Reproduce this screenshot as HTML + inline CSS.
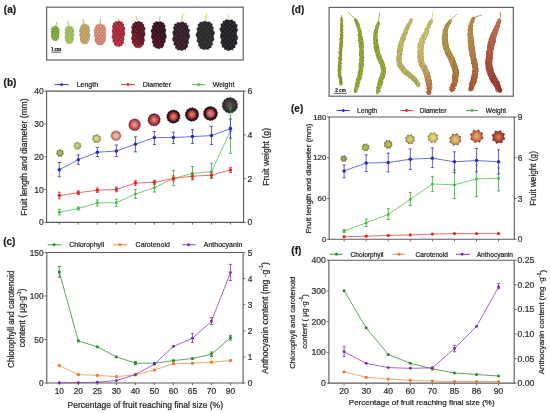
<!DOCTYPE html><html><head><meta charset="utf-8"><style>html,body{margin:0;padding:0;background:#fff;width:550px;height:413px;overflow:hidden} svg{filter:blur(0.3px)} svg text{stroke:#2a2a2a;stroke-width:0.22px}</style></head><body><svg width="550" height="413" viewBox="0 0 550 413" style="display:block">
<defs>
<filter id="blur04" x="-20%" y="-20%" width="140%" height="140%"><feGaussianBlur stdDeviation="0.4"/></filter>
</defs>
<rect width="550" height="413" fill="#ffffff"/>
<g font-family="'Liberation Sans', sans-serif">
<text x="3.80" y="9.60" font-size="10" text-anchor="start" fill="#1a1a1a" font-weight="bold" dominant-baseline="central">(a)</text>
<text x="291.50" y="9.80" font-size="10" text-anchor="start" fill="#1a1a1a" font-weight="bold" dominant-baseline="central">(d)</text>
<text x="3.60" y="82.20" font-size="10" text-anchor="start" fill="#1a1a1a" font-weight="bold" dominant-baseline="central">(b)</text>
<text x="291.00" y="108.80" font-size="10" text-anchor="start" fill="#1a1a1a" font-weight="bold" dominant-baseline="central">(e)</text>
<text x="3.20" y="241.40" font-size="10" text-anchor="start" fill="#1a1a1a" font-weight="bold" dominant-baseline="central">(c)</text>
<text x="291.30" y="250.50" font-size="10" text-anchor="start" fill="#1a1a1a" font-weight="bold" dominant-baseline="central">(f)</text>
<rect x="46.6" y="7.2" width="196.6" height="52.8" fill="#fff" stroke="#626262" stroke-width="1.2"/>
<g filter="url(#blur04)">
<path d="M55.20,29.30 Q55.74,24.75 57.00,22.20" stroke="#a8c058" stroke-width="1.1" fill="none" stroke-linecap="round"/>
<defs><linearGradient id="fg0" x1="0.7" y1="0" x2="0.2" y2="1"><stop offset="0" stop-color="#86b044"/><stop offset="0.45" stop-color="#86b044"/><stop offset="1" stop-color="#8ab448"/></linearGradient><clipPath id="fc0"><path d="M59.39,33.55 L58.77,34.71 L58.72,35.57 L59.22,36.47 L58.96,37.11 L58.47,37.57 L58.66,38.31 L58.64,38.98 L57.94,39.16 L57.58,39.52 L57.59,40.20 L57.16,40.38 L56.63,40.27 L56.42,40.68 L56.03,41.01 L55.20,40.69 L54.47,40.57 L53.85,40.87 L53.49,40.63 L53.42,40.07 L52.99,40.00 L52.49,39.88 L52.54,39.20 L52.40,38.65 L51.67,38.41 L51.44,37.79 L51.73,36.97 L51.37,36.37 L50.93,35.69 L51.38,34.73 L51.65,33.55 L51.12,32.33 L51.10,31.44 L51.61,30.80 L51.37,30.05 L50.98,29.24 L51.49,28.84 L51.95,28.47 L51.80,27.73 L52.11,27.28 L52.85,27.28 L53.08,26.89 L53.20,26.34 L53.79,26.44 L54.38,26.58 L55.20,26.19 L56.19,26.13 L56.58,26.62 L57.04,26.70 L57.66,26.58 L57.76,27.07 L57.76,27.64 L58.40,27.76 L58.84,28.14 L58.63,28.93 L58.90,29.47 L59.56,29.90 L59.35,30.70 L58.90,31.56 L59.26,32.35Z"/></clipPath></defs>
<path d="M59.39,33.55 L58.77,34.71 L58.72,35.57 L59.22,36.47 L58.96,37.11 L58.47,37.57 L58.66,38.31 L58.64,38.98 L57.94,39.16 L57.58,39.52 L57.59,40.20 L57.16,40.38 L56.63,40.27 L56.42,40.68 L56.03,41.01 L55.20,40.69 L54.47,40.57 L53.85,40.87 L53.49,40.63 L53.42,40.07 L52.99,40.00 L52.49,39.88 L52.54,39.20 L52.40,38.65 L51.67,38.41 L51.44,37.79 L51.73,36.97 L51.37,36.37 L50.93,35.69 L51.38,34.73 L51.65,33.55 L51.12,32.33 L51.10,31.44 L51.61,30.80 L51.37,30.05 L50.98,29.24 L51.49,28.84 L51.95,28.47 L51.80,27.73 L52.11,27.28 L52.85,27.28 L53.08,26.89 L53.20,26.34 L53.79,26.44 L54.38,26.58 L55.20,26.19 L56.19,26.13 L56.58,26.62 L57.04,26.70 L57.66,26.58 L57.76,27.07 L57.76,27.64 L58.40,27.76 L58.84,28.14 L58.63,28.93 L58.90,29.47 L59.56,29.90 L59.35,30.70 L58.90,31.56 L59.26,32.35Z" fill="url(#fg0)"/>
<g clip-path="url(#fc0)">
<circle cx="50.92" cy="28.85" r="0.94" fill="#c8e088" fill-opacity="0.35" stroke="#4a7020" stroke-width="0.45" stroke-opacity="0.45"/>
<circle cx="53.14" cy="28.78" r="0.94" fill="#c8e088" fill-opacity="0.35" stroke="#4a7020" stroke-width="0.45" stroke-opacity="0.45"/>
<circle cx="55.66" cy="28.49" r="0.94" fill="#c8e088" fill-opacity="0.35" stroke="#4a7020" stroke-width="0.45" stroke-opacity="0.45"/>
<circle cx="58.06" cy="28.48" r="0.94" fill="#c8e088" fill-opacity="0.35" stroke="#4a7020" stroke-width="0.45" stroke-opacity="0.45"/>
<circle cx="52.29" cy="30.42" r="0.94" fill="#c8e088" fill-opacity="0.35" stroke="#4a7020" stroke-width="0.45" stroke-opacity="0.45"/>
<circle cx="54.30" cy="30.63" r="0.94" fill="#c8e088" fill-opacity="0.35" stroke="#4a7020" stroke-width="0.45" stroke-opacity="0.45"/>
<circle cx="57.18" cy="30.45" r="0.94" fill="#c8e088" fill-opacity="0.35" stroke="#4a7020" stroke-width="0.45" stroke-opacity="0.45"/>
<circle cx="58.98" cy="30.75" r="0.94" fill="#c8e088" fill-opacity="0.35" stroke="#4a7020" stroke-width="0.45" stroke-opacity="0.45"/>
<circle cx="51.56" cy="32.64" r="0.94" fill="#c8e088" fill-opacity="0.35" stroke="#4a7020" stroke-width="0.45" stroke-opacity="0.45"/>
<circle cx="53.40" cy="32.88" r="0.94" fill="#c8e088" fill-opacity="0.35" stroke="#4a7020" stroke-width="0.45" stroke-opacity="0.45"/>
<circle cx="55.41" cy="32.81" r="0.94" fill="#c8e088" fill-opacity="0.35" stroke="#4a7020" stroke-width="0.45" stroke-opacity="0.45"/>
<circle cx="57.89" cy="32.38" r="0.94" fill="#c8e088" fill-opacity="0.35" stroke="#4a7020" stroke-width="0.45" stroke-opacity="0.45"/>
<circle cx="52.04" cy="34.39" r="0.94" fill="#c8e088" fill-opacity="0.35" stroke="#4a7020" stroke-width="0.45" stroke-opacity="0.45"/>
<circle cx="54.88" cy="34.32" r="0.94" fill="#c8e088" fill-opacity="0.35" stroke="#4a7020" stroke-width="0.45" stroke-opacity="0.45"/>
<circle cx="56.98" cy="34.59" r="0.94" fill="#c8e088" fill-opacity="0.35" stroke="#4a7020" stroke-width="0.45" stroke-opacity="0.45"/>
<circle cx="59.10" cy="34.54" r="0.94" fill="#c8e088" fill-opacity="0.35" stroke="#4a7020" stroke-width="0.45" stroke-opacity="0.45"/>
<circle cx="50.85" cy="36.16" r="0.94" fill="#c8e088" fill-opacity="0.35" stroke="#4a7020" stroke-width="0.45" stroke-opacity="0.45"/>
<circle cx="53.25" cy="36.53" r="0.94" fill="#c8e088" fill-opacity="0.35" stroke="#4a7020" stroke-width="0.45" stroke-opacity="0.45"/>
<circle cx="55.71" cy="36.31" r="0.94" fill="#c8e088" fill-opacity="0.35" stroke="#4a7020" stroke-width="0.45" stroke-opacity="0.45"/>
<circle cx="58.13" cy="36.40" r="0.94" fill="#c8e088" fill-opacity="0.35" stroke="#4a7020" stroke-width="0.45" stroke-opacity="0.45"/>
<circle cx="52.18" cy="38.52" r="0.94" fill="#c8e088" fill-opacity="0.35" stroke="#4a7020" stroke-width="0.45" stroke-opacity="0.45"/>
<circle cx="54.79" cy="38.19" r="0.94" fill="#c8e088" fill-opacity="0.35" stroke="#4a7020" stroke-width="0.45" stroke-opacity="0.45"/>
<circle cx="56.97" cy="38.36" r="0.94" fill="#c8e088" fill-opacity="0.35" stroke="#4a7020" stroke-width="0.45" stroke-opacity="0.45"/>
<circle cx="59.50" cy="38.48" r="0.94" fill="#c8e088" fill-opacity="0.35" stroke="#4a7020" stroke-width="0.45" stroke-opacity="0.45"/>
</g>
<path d="M59.39,33.55 L58.77,34.71 L58.72,35.57 L59.22,36.47 L58.96,37.11 L58.47,37.57 L58.66,38.31 L58.64,38.98 L57.94,39.16 L57.58,39.52 L57.59,40.20 L57.16,40.38 L56.63,40.27 L56.42,40.68 L56.03,41.01 L55.20,40.69 L54.47,40.57 L53.85,40.87 L53.49,40.63 L53.42,40.07 L52.99,40.00 L52.49,39.88 L52.54,39.20 L52.40,38.65 L51.67,38.41 L51.44,37.79 L51.73,36.97 L51.37,36.37 L50.93,35.69 L51.38,34.73 L51.65,33.55 L51.12,32.33 L51.10,31.44 L51.61,30.80 L51.37,30.05 L50.98,29.24 L51.49,28.84 L51.95,28.47 L51.80,27.73 L52.11,27.28 L52.85,27.28 L53.08,26.89 L53.20,26.34 L53.79,26.44 L54.38,26.58 L55.20,26.19 L56.19,26.13 L56.58,26.62 L57.04,26.70 L57.66,26.58 L57.76,27.07 L57.76,27.64 L58.40,27.76 L58.84,28.14 L58.63,28.93 L58.90,29.47 L59.56,29.90 L59.35,30.70 L58.90,31.56 L59.26,32.35Z" fill="none" stroke="#4a7020" stroke-width="0.5" stroke-opacity="0.5"/>
<path d="M69.45,29.20 Q68.91,24.10 67.65,21.00" stroke="#b0c868" stroke-width="1.1" fill="none" stroke-linecap="round"/>
<defs><linearGradient id="fg1" x1="0.7" y1="0" x2="0.2" y2="1"><stop offset="0" stop-color="#a8c45c"/><stop offset="0.45" stop-color="#a8c45c"/><stop offset="1" stop-color="#aac860"/></linearGradient><clipPath id="fc1"><path d="M74.21,35.00 L73.52,36.42 L73.28,37.44 L73.81,38.53 L73.64,39.36 L73.05,39.88 L73.21,40.74 L73.31,41.60 L72.60,41.86 L72.12,42.21 L72.11,43.03 L71.68,43.35 L71.04,43.18 L70.76,43.59 L70.36,44.07 L69.45,43.73 L68.65,43.48 L67.95,43.83 L67.49,43.65 L67.41,42.93 L67.01,42.77 L66.43,42.69 L66.45,41.91 L66.41,41.17 L65.64,40.86 L65.26,40.18 L65.56,39.16 L65.24,38.39 L64.64,37.59 L65.04,36.44 L65.47,35.00 L64.97,33.53 L64.85,32.43 L65.47,31.65 L65.35,30.79 L64.83,29.78 L65.26,29.23 L65.83,28.84 L65.68,27.98 L65.91,27.35 L66.76,27.35 L67.13,26.98 L67.25,26.27 L67.87,26.30 L68.56,26.55 L69.45,26.13 L70.55,25.96 L71.02,26.54 L71.49,26.74 L72.21,26.56 L72.40,27.08 L72.31,27.83 L72.91,28.03 L73.47,28.41 L73.25,29.35 L73.44,30.07 L74.24,30.59 L74.18,31.51 L73.64,32.58 L73.96,33.55Z"/></clipPath></defs>
<path d="M74.21,35.00 L73.52,36.42 L73.28,37.44 L73.81,38.53 L73.64,39.36 L73.05,39.88 L73.21,40.74 L73.31,41.60 L72.60,41.86 L72.12,42.21 L72.11,43.03 L71.68,43.35 L71.04,43.18 L70.76,43.59 L70.36,44.07 L69.45,43.73 L68.65,43.48 L67.95,43.83 L67.49,43.65 L67.41,42.93 L67.01,42.77 L66.43,42.69 L66.45,41.91 L66.41,41.17 L65.64,40.86 L65.26,40.18 L65.56,39.16 L65.24,38.39 L64.64,37.59 L65.04,36.44 L65.47,35.00 L64.97,33.53 L64.85,32.43 L65.47,31.65 L65.35,30.79 L64.83,29.78 L65.26,29.23 L65.83,28.84 L65.68,27.98 L65.91,27.35 L66.76,27.35 L67.13,26.98 L67.25,26.27 L67.87,26.30 L68.56,26.55 L69.45,26.13 L70.55,25.96 L71.02,26.54 L71.49,26.74 L72.21,26.56 L72.40,27.08 L72.31,27.83 L72.91,28.03 L73.47,28.41 L73.25,29.35 L73.44,30.07 L74.24,30.59 L74.18,31.51 L73.64,32.58 L73.96,33.55Z" fill="url(#fg1)"/>
<g clip-path="url(#fc1)">
<circle cx="65.38" cy="28.51" r="1.05" fill="#e0eca0" fill-opacity="0.35" stroke="#6a8a30" stroke-width="0.45" stroke-opacity="0.45"/>
<circle cx="67.48" cy="28.90" r="1.05" fill="#e0eca0" fill-opacity="0.35" stroke="#6a8a30" stroke-width="0.45" stroke-opacity="0.45"/>
<circle cx="69.81" cy="28.74" r="1.05" fill="#e0eca0" fill-opacity="0.35" stroke="#6a8a30" stroke-width="0.45" stroke-opacity="0.45"/>
<circle cx="72.26" cy="28.84" r="1.05" fill="#e0eca0" fill-opacity="0.35" stroke="#6a8a30" stroke-width="0.45" stroke-opacity="0.45"/>
<circle cx="66.48" cy="30.87" r="1.05" fill="#e0eca0" fill-opacity="0.35" stroke="#6a8a30" stroke-width="0.45" stroke-opacity="0.45"/>
<circle cx="69.11" cy="30.72" r="1.05" fill="#e0eca0" fill-opacity="0.35" stroke="#6a8a30" stroke-width="0.45" stroke-opacity="0.45"/>
<circle cx="71.51" cy="30.89" r="1.05" fill="#e0eca0" fill-opacity="0.35" stroke="#6a8a30" stroke-width="0.45" stroke-opacity="0.45"/>
<circle cx="73.96" cy="30.80" r="1.05" fill="#e0eca0" fill-opacity="0.35" stroke="#6a8a30" stroke-width="0.45" stroke-opacity="0.45"/>
<circle cx="65.27" cy="33.18" r="1.05" fill="#e0eca0" fill-opacity="0.35" stroke="#6a8a30" stroke-width="0.45" stroke-opacity="0.45"/>
<circle cx="67.52" cy="33.01" r="1.05" fill="#e0eca0" fill-opacity="0.35" stroke="#6a8a30" stroke-width="0.45" stroke-opacity="0.45"/>
<circle cx="69.73" cy="33.04" r="1.05" fill="#e0eca0" fill-opacity="0.35" stroke="#6a8a30" stroke-width="0.45" stroke-opacity="0.45"/>
<circle cx="72.75" cy="33.21" r="1.05" fill="#e0eca0" fill-opacity="0.35" stroke="#6a8a30" stroke-width="0.45" stroke-opacity="0.45"/>
<circle cx="66.53" cy="34.87" r="1.05" fill="#e0eca0" fill-opacity="0.35" stroke="#6a8a30" stroke-width="0.45" stroke-opacity="0.45"/>
<circle cx="68.72" cy="35.10" r="1.05" fill="#e0eca0" fill-opacity="0.35" stroke="#6a8a30" stroke-width="0.45" stroke-opacity="0.45"/>
<circle cx="70.98" cy="34.98" r="1.05" fill="#e0eca0" fill-opacity="0.35" stroke="#6a8a30" stroke-width="0.45" stroke-opacity="0.45"/>
<circle cx="73.63" cy="34.77" r="1.05" fill="#e0eca0" fill-opacity="0.35" stroke="#6a8a30" stroke-width="0.45" stroke-opacity="0.45"/>
<circle cx="64.65" cy="37.25" r="1.05" fill="#e0eca0" fill-opacity="0.35" stroke="#6a8a30" stroke-width="0.45" stroke-opacity="0.45"/>
<circle cx="67.25" cy="36.93" r="1.05" fill="#e0eca0" fill-opacity="0.35" stroke="#6a8a30" stroke-width="0.45" stroke-opacity="0.45"/>
<circle cx="70.00" cy="37.31" r="1.05" fill="#e0eca0" fill-opacity="0.35" stroke="#6a8a30" stroke-width="0.45" stroke-opacity="0.45"/>
<circle cx="72.29" cy="37.06" r="1.05" fill="#e0eca0" fill-opacity="0.35" stroke="#6a8a30" stroke-width="0.45" stroke-opacity="0.45"/>
<circle cx="66.31" cy="39.40" r="1.05" fill="#e0eca0" fill-opacity="0.35" stroke="#6a8a30" stroke-width="0.45" stroke-opacity="0.45"/>
<circle cx="69.07" cy="39.39" r="1.05" fill="#e0eca0" fill-opacity="0.35" stroke="#6a8a30" stroke-width="0.45" stroke-opacity="0.45"/>
<circle cx="71.18" cy="39.12" r="1.05" fill="#e0eca0" fill-opacity="0.35" stroke="#6a8a30" stroke-width="0.45" stroke-opacity="0.45"/>
<circle cx="73.79" cy="39.40" r="1.05" fill="#e0eca0" fill-opacity="0.35" stroke="#6a8a30" stroke-width="0.45" stroke-opacity="0.45"/>
<circle cx="65.37" cy="41.05" r="1.05" fill="#e0eca0" fill-opacity="0.35" stroke="#6a8a30" stroke-width="0.45" stroke-opacity="0.45"/>
<circle cx="67.28" cy="41.10" r="1.05" fill="#e0eca0" fill-opacity="0.35" stroke="#6a8a30" stroke-width="0.45" stroke-opacity="0.45"/>
<circle cx="69.87" cy="41.25" r="1.05" fill="#e0eca0" fill-opacity="0.35" stroke="#6a8a30" stroke-width="0.45" stroke-opacity="0.45"/>
<circle cx="72.70" cy="41.11" r="1.05" fill="#e0eca0" fill-opacity="0.35" stroke="#6a8a30" stroke-width="0.45" stroke-opacity="0.45"/>
</g>
<path d="M74.21,35.00 L73.52,36.42 L73.28,37.44 L73.81,38.53 L73.64,39.36 L73.05,39.88 L73.21,40.74 L73.31,41.60 L72.60,41.86 L72.12,42.21 L72.11,43.03 L71.68,43.35 L71.04,43.18 L70.76,43.59 L70.36,44.07 L69.45,43.73 L68.65,43.48 L67.95,43.83 L67.49,43.65 L67.41,42.93 L67.01,42.77 L66.43,42.69 L66.45,41.91 L66.41,41.17 L65.64,40.86 L65.26,40.18 L65.56,39.16 L65.24,38.39 L64.64,37.59 L65.04,36.44 L65.47,35.00 L64.97,33.53 L64.85,32.43 L65.47,31.65 L65.35,30.79 L64.83,29.78 L65.26,29.23 L65.83,28.84 L65.68,27.98 L65.91,27.35 L66.76,27.35 L67.13,26.98 L67.25,26.27 L67.87,26.30 L68.56,26.55 L69.45,26.13 L70.55,25.96 L71.02,26.54 L71.49,26.74 L72.21,26.56 L72.40,27.08 L72.31,27.83 L72.91,28.03 L73.47,28.41 L73.25,29.35 L73.44,30.07 L74.24,30.59 L74.18,31.51 L73.64,32.58 L73.96,33.55Z" fill="none" stroke="#6a8a30" stroke-width="0.5" stroke-opacity="0.5"/>
<path d="M84.70,27.20 Q84.16,22.35 82.90,19.50" stroke="#a8b868" stroke-width="1.1" fill="none" stroke-linecap="round"/>
<defs><linearGradient id="fg2" x1="0.7" y1="0" x2="0.2" y2="1"><stop offset="0" stop-color="#c8ac6c"/><stop offset="0.45" stop-color="#c8ac6c"/><stop offset="1" stop-color="#c8a068"/></linearGradient><clipPath id="fc2"><path d="M89.72,34.05 L90.20,35.72 L89.54,36.81 L89.25,37.79 L89.65,38.97 L89.22,39.80 L88.35,40.27 L88.37,41.17 L88.43,42.09 L87.76,42.27 L87.35,42.57 L87.38,43.43 L86.91,43.70 L86.16,43.41 L85.65,43.79 L84.70,44.24 L83.80,43.78 L83.35,43.42 L82.63,43.71 L82.14,43.42 L82.06,42.56 L81.48,42.28 L80.69,42.09 L80.76,41.16 L80.85,40.28 L80.16,39.81 L79.98,38.97 L80.52,37.79 L80.21,36.82 L79.43,35.72 L79.70,34.05 L79.99,32.49 L79.31,31.20 L79.22,30.09 L80.08,29.38 L80.21,28.49 L79.91,27.40 L80.56,26.89 L81.21,26.55 L81.00,25.64 L81.15,25.01 L81.95,25.11 L82.36,24.78 L82.69,24.06 L83.55,24.18 L84.70,24.54 L85.81,24.16 L86.57,24.07 L86.85,24.79 L87.33,25.10 L88.26,25.00 L88.56,25.65 L88.49,26.55 L89.19,26.88 L89.69,27.40 L89.17,28.50 L89.11,29.38 L89.82,30.09 L89.69,31.21 L89.17,32.49Z"/></clipPath></defs>
<path d="M89.72,34.05 L90.20,35.72 L89.54,36.81 L89.25,37.79 L89.65,38.97 L89.22,39.80 L88.35,40.27 L88.37,41.17 L88.43,42.09 L87.76,42.27 L87.35,42.57 L87.38,43.43 L86.91,43.70 L86.16,43.41 L85.65,43.79 L84.70,44.24 L83.80,43.78 L83.35,43.42 L82.63,43.71 L82.14,43.42 L82.06,42.56 L81.48,42.28 L80.69,42.09 L80.76,41.16 L80.85,40.28 L80.16,39.81 L79.98,38.97 L80.52,37.79 L80.21,36.82 L79.43,35.72 L79.70,34.05 L79.99,32.49 L79.31,31.20 L79.22,30.09 L80.08,29.38 L80.21,28.49 L79.91,27.40 L80.56,26.89 L81.21,26.55 L81.00,25.64 L81.15,25.01 L81.95,25.11 L82.36,24.78 L82.69,24.06 L83.55,24.18 L84.70,24.54 L85.81,24.16 L86.57,24.07 L86.85,24.79 L87.33,25.10 L88.26,25.00 L88.56,25.65 L88.49,26.55 L89.19,26.88 L89.69,27.40 L89.17,28.50 L89.11,29.38 L89.82,30.09 L89.69,31.21 L89.17,32.49Z" fill="url(#fg2)"/>
<g clip-path="url(#fc2)">
<circle cx="79.64" cy="26.67" r="1.18" fill="#e8dca0" fill-opacity="0.35" stroke="#7a6a38" stroke-width="0.45" stroke-opacity="0.45"/>
<circle cx="82.61" cy="27.02" r="1.18" fill="#e8dca0" fill-opacity="0.35" stroke="#7a6a38" stroke-width="0.45" stroke-opacity="0.45"/>
<circle cx="85.57" cy="26.75" r="1.18" fill="#e8dca0" fill-opacity="0.35" stroke="#7a6a38" stroke-width="0.45" stroke-opacity="0.45"/>
<circle cx="88.37" cy="26.85" r="1.18" fill="#e8dca0" fill-opacity="0.35" stroke="#7a6a38" stroke-width="0.45" stroke-opacity="0.45"/>
<circle cx="80.77" cy="29.07" r="1.18" fill="#e8dca0" fill-opacity="0.35" stroke="#7a6a38" stroke-width="0.45" stroke-opacity="0.45"/>
<circle cx="84.21" cy="29.06" r="1.18" fill="#e8dca0" fill-opacity="0.35" stroke="#7a6a38" stroke-width="0.45" stroke-opacity="0.45"/>
<circle cx="87.08" cy="28.77" r="1.18" fill="#e8dca0" fill-opacity="0.35" stroke="#7a6a38" stroke-width="0.45" stroke-opacity="0.45"/>
<circle cx="89.62" cy="28.59" r="1.18" fill="#e8dca0" fill-opacity="0.35" stroke="#7a6a38" stroke-width="0.45" stroke-opacity="0.45"/>
<circle cx="79.81" cy="30.66" r="1.18" fill="#e8dca0" fill-opacity="0.35" stroke="#7a6a38" stroke-width="0.45" stroke-opacity="0.45"/>
<circle cx="82.21" cy="30.74" r="1.18" fill="#e8dca0" fill-opacity="0.35" stroke="#7a6a38" stroke-width="0.45" stroke-opacity="0.45"/>
<circle cx="85.14" cy="30.82" r="1.18" fill="#e8dca0" fill-opacity="0.35" stroke="#7a6a38" stroke-width="0.45" stroke-opacity="0.45"/>
<circle cx="87.91" cy="30.62" r="1.18" fill="#e8dca0" fill-opacity="0.35" stroke="#7a6a38" stroke-width="0.45" stroke-opacity="0.45"/>
<circle cx="80.85" cy="32.77" r="1.18" fill="#e8dca0" fill-opacity="0.35" stroke="#7a6a38" stroke-width="0.45" stroke-opacity="0.45"/>
<circle cx="83.88" cy="32.72" r="1.18" fill="#e8dca0" fill-opacity="0.35" stroke="#7a6a38" stroke-width="0.45" stroke-opacity="0.45"/>
<circle cx="87.14" cy="33.07" r="1.18" fill="#e8dca0" fill-opacity="0.35" stroke="#7a6a38" stroke-width="0.45" stroke-opacity="0.45"/>
<circle cx="89.42" cy="32.86" r="1.18" fill="#e8dca0" fill-opacity="0.35" stroke="#7a6a38" stroke-width="0.45" stroke-opacity="0.45"/>
<circle cx="79.58" cy="35.01" r="1.18" fill="#e8dca0" fill-opacity="0.35" stroke="#7a6a38" stroke-width="0.45" stroke-opacity="0.45"/>
<circle cx="82.26" cy="35.30" r="1.18" fill="#e8dca0" fill-opacity="0.35" stroke="#7a6a38" stroke-width="0.45" stroke-opacity="0.45"/>
<circle cx="85.81" cy="35.07" r="1.18" fill="#e8dca0" fill-opacity="0.35" stroke="#7a6a38" stroke-width="0.45" stroke-opacity="0.45"/>
<circle cx="88.26" cy="34.85" r="1.18" fill="#e8dca0" fill-opacity="0.35" stroke="#7a6a38" stroke-width="0.45" stroke-opacity="0.45"/>
<circle cx="80.81" cy="37.09" r="1.18" fill="#e8dca0" fill-opacity="0.35" stroke="#7a6a38" stroke-width="0.45" stroke-opacity="0.45"/>
<circle cx="83.80" cy="37.38" r="1.18" fill="#e8dca0" fill-opacity="0.35" stroke="#7a6a38" stroke-width="0.45" stroke-opacity="0.45"/>
<circle cx="86.57" cy="36.90" r="1.18" fill="#e8dca0" fill-opacity="0.35" stroke="#7a6a38" stroke-width="0.45" stroke-opacity="0.45"/>
<circle cx="90.06" cy="37.20" r="1.18" fill="#e8dca0" fill-opacity="0.35" stroke="#7a6a38" stroke-width="0.45" stroke-opacity="0.45"/>
<circle cx="79.42" cy="39.29" r="1.18" fill="#e8dca0" fill-opacity="0.35" stroke="#7a6a38" stroke-width="0.45" stroke-opacity="0.45"/>
<circle cx="82.18" cy="39.29" r="1.18" fill="#e8dca0" fill-opacity="0.35" stroke="#7a6a38" stroke-width="0.45" stroke-opacity="0.45"/>
<circle cx="85.80" cy="39.49" r="1.18" fill="#e8dca0" fill-opacity="0.35" stroke="#7a6a38" stroke-width="0.45" stroke-opacity="0.45"/>
<circle cx="88.43" cy="39.13" r="1.18" fill="#e8dca0" fill-opacity="0.35" stroke="#7a6a38" stroke-width="0.45" stroke-opacity="0.45"/>
<circle cx="81.02" cy="41.16" r="1.18" fill="#e8dca0" fill-opacity="0.35" stroke="#7a6a38" stroke-width="0.45" stroke-opacity="0.45"/>
<circle cx="84.20" cy="41.38" r="1.18" fill="#e8dca0" fill-opacity="0.35" stroke="#7a6a38" stroke-width="0.45" stroke-opacity="0.45"/>
<circle cx="87.07" cy="41.25" r="1.18" fill="#e8dca0" fill-opacity="0.35" stroke="#7a6a38" stroke-width="0.45" stroke-opacity="0.45"/>
<circle cx="89.48" cy="41.54" r="1.18" fill="#e8dca0" fill-opacity="0.35" stroke="#7a6a38" stroke-width="0.45" stroke-opacity="0.45"/>
</g>
<path d="M89.72,34.05 L90.20,35.72 L89.54,36.81 L89.25,37.79 L89.65,38.97 L89.22,39.80 L88.35,40.27 L88.37,41.17 L88.43,42.09 L87.76,42.27 L87.35,42.57 L87.38,43.43 L86.91,43.70 L86.16,43.41 L85.65,43.79 L84.70,44.24 L83.80,43.78 L83.35,43.42 L82.63,43.71 L82.14,43.42 L82.06,42.56 L81.48,42.28 L80.69,42.09 L80.76,41.16 L80.85,40.28 L80.16,39.81 L79.98,38.97 L80.52,37.79 L80.21,36.82 L79.43,35.72 L79.70,34.05 L79.99,32.49 L79.31,31.20 L79.22,30.09 L80.08,29.38 L80.21,28.49 L79.91,27.40 L80.56,26.89 L81.21,26.55 L81.00,25.64 L81.15,25.01 L81.95,25.11 L82.36,24.78 L82.69,24.06 L83.55,24.18 L84.70,24.54 L85.81,24.16 L86.57,24.07 L86.85,24.79 L87.33,25.10 L88.26,25.00 L88.56,25.65 L88.49,26.55 L89.19,26.88 L89.69,27.40 L89.17,28.50 L89.11,29.38 L89.82,30.09 L89.69,31.21 L89.17,32.49Z" fill="none" stroke="#7a6a38" stroke-width="0.5" stroke-opacity="0.5"/>
<path d="M100.10,27.20 Q100.16,22.40 100.30,19.60" stroke="#a8b870" stroke-width="1.1" fill="none" stroke-linecap="round"/>
<defs><linearGradient id="fg3" x1="0.7" y1="0" x2="0.2" y2="1"><stop offset="0" stop-color="#dc907a"/><stop offset="0.45" stop-color="#dc907a"/><stop offset="1" stop-color="#d47868"/></linearGradient><clipPath id="fc3"><path d="M105.71,34.60 L106.33,36.37 L105.66,37.53 L105.26,38.54 L105.74,39.78 L105.35,40.69 L104.32,41.18 L104.25,42.09 L104.35,43.09 L103.60,43.31 L103.07,43.57 L103.11,44.48 L102.63,44.82 L101.78,44.51 L101.18,44.84 L100.10,45.36 L99.05,44.91 L98.56,44.48 L97.77,44.77 L97.18,44.52 L97.10,43.61 L96.50,43.26 L95.56,43.08 L95.55,42.14 L95.69,41.17 L94.93,40.66 L94.64,39.81 L95.28,38.56 L95.05,37.51 L94.15,36.36 L94.39,34.60 L94.79,32.95 L94.03,31.61 L93.80,30.41 L94.75,29.66 L94.98,28.75 L94.62,27.58 L95.30,27.01 L96.13,26.69 L95.96,25.76 L96.07,25.03 L96.96,25.13 L97.47,24.84 L97.81,24.07 L98.76,24.14 L100.10,24.56 L101.36,24.21 L102.25,24.04 L102.57,24.79 L103.05,25.18 L104.10,25.07 L104.50,25.70 L104.42,26.68 L105.18,27.06 L105.85,27.57 L105.30,28.71 L105.13,29.68 L105.92,30.43 L105.83,31.59 L105.17,32.95Z"/></clipPath></defs>
<path d="M105.71,34.60 L106.33,36.37 L105.66,37.53 L105.26,38.54 L105.74,39.78 L105.35,40.69 L104.32,41.18 L104.25,42.09 L104.35,43.09 L103.60,43.31 L103.07,43.57 L103.11,44.48 L102.63,44.82 L101.78,44.51 L101.18,44.84 L100.10,45.36 L99.05,44.91 L98.56,44.48 L97.77,44.77 L97.18,44.52 L97.10,43.61 L96.50,43.26 L95.56,43.08 L95.55,42.14 L95.69,41.17 L94.93,40.66 L94.64,39.81 L95.28,38.56 L95.05,37.51 L94.15,36.36 L94.39,34.60 L94.79,32.95 L94.03,31.61 L93.80,30.41 L94.75,29.66 L94.98,28.75 L94.62,27.58 L95.30,27.01 L96.13,26.69 L95.96,25.76 L96.07,25.03 L96.96,25.13 L97.47,24.84 L97.81,24.07 L98.76,24.14 L100.10,24.56 L101.36,24.21 L102.25,24.04 L102.57,24.79 L103.05,25.18 L104.10,25.07 L104.50,25.70 L104.42,26.68 L105.18,27.06 L105.85,27.57 L105.30,28.71 L105.13,29.68 L105.92,30.43 L105.83,31.59 L105.17,32.95Z" fill="url(#fg3)"/>
<g clip-path="url(#fc3)">
<circle cx="94.68" cy="27.00" r="1.34" fill="#f4c8b0" fill-opacity="0.35" stroke="#8a4838" stroke-width="0.45" stroke-opacity="0.45"/>
<circle cx="97.91" cy="26.96" r="1.34" fill="#f4c8b0" fill-opacity="0.35" stroke="#8a4838" stroke-width="0.45" stroke-opacity="0.45"/>
<circle cx="100.70" cy="26.82" r="1.34" fill="#f4c8b0" fill-opacity="0.35" stroke="#8a4838" stroke-width="0.45" stroke-opacity="0.45"/>
<circle cx="104.06" cy="26.53" r="1.34" fill="#f4c8b0" fill-opacity="0.35" stroke="#8a4838" stroke-width="0.45" stroke-opacity="0.45"/>
<circle cx="95.65" cy="28.91" r="1.34" fill="#f4c8b0" fill-opacity="0.35" stroke="#8a4838" stroke-width="0.45" stroke-opacity="0.45"/>
<circle cx="99.09" cy="29.15" r="1.34" fill="#f4c8b0" fill-opacity="0.35" stroke="#8a4838" stroke-width="0.45" stroke-opacity="0.45"/>
<circle cx="102.91" cy="29.01" r="1.34" fill="#f4c8b0" fill-opacity="0.35" stroke="#8a4838" stroke-width="0.45" stroke-opacity="0.45"/>
<circle cx="106.15" cy="29.33" r="1.34" fill="#f4c8b0" fill-opacity="0.35" stroke="#8a4838" stroke-width="0.45" stroke-opacity="0.45"/>
<circle cx="94.76" cy="31.18" r="1.34" fill="#f4c8b0" fill-opacity="0.35" stroke="#8a4838" stroke-width="0.45" stroke-opacity="0.45"/>
<circle cx="97.43" cy="31.10" r="1.34" fill="#f4c8b0" fill-opacity="0.35" stroke="#8a4838" stroke-width="0.45" stroke-opacity="0.45"/>
<circle cx="100.67" cy="31.09" r="1.34" fill="#f4c8b0" fill-opacity="0.35" stroke="#8a4838" stroke-width="0.45" stroke-opacity="0.45"/>
<circle cx="104.27" cy="31.50" r="1.34" fill="#f4c8b0" fill-opacity="0.35" stroke="#8a4838" stroke-width="0.45" stroke-opacity="0.45"/>
<circle cx="96.30" cy="33.48" r="1.34" fill="#f4c8b0" fill-opacity="0.35" stroke="#8a4838" stroke-width="0.45" stroke-opacity="0.45"/>
<circle cx="99.41" cy="33.67" r="1.34" fill="#f4c8b0" fill-opacity="0.35" stroke="#8a4838" stroke-width="0.45" stroke-opacity="0.45"/>
<circle cx="102.21" cy="33.58" r="1.34" fill="#f4c8b0" fill-opacity="0.35" stroke="#8a4838" stroke-width="0.45" stroke-opacity="0.45"/>
<circle cx="106.13" cy="33.66" r="1.34" fill="#f4c8b0" fill-opacity="0.35" stroke="#8a4838" stroke-width="0.45" stroke-opacity="0.45"/>
<circle cx="94.60" cy="35.70" r="1.34" fill="#f4c8b0" fill-opacity="0.35" stroke="#8a4838" stroke-width="0.45" stroke-opacity="0.45"/>
<circle cx="97.40" cy="35.89" r="1.34" fill="#f4c8b0" fill-opacity="0.35" stroke="#8a4838" stroke-width="0.45" stroke-opacity="0.45"/>
<circle cx="100.78" cy="35.89" r="1.34" fill="#f4c8b0" fill-opacity="0.35" stroke="#8a4838" stroke-width="0.45" stroke-opacity="0.45"/>
<circle cx="104.55" cy="35.65" r="1.34" fill="#f4c8b0" fill-opacity="0.35" stroke="#8a4838" stroke-width="0.45" stroke-opacity="0.45"/>
<circle cx="95.95" cy="38.21" r="1.34" fill="#f4c8b0" fill-opacity="0.35" stroke="#8a4838" stroke-width="0.45" stroke-opacity="0.45"/>
<circle cx="99.47" cy="37.74" r="1.34" fill="#f4c8b0" fill-opacity="0.35" stroke="#8a4838" stroke-width="0.45" stroke-opacity="0.45"/>
<circle cx="102.24" cy="37.73" r="1.34" fill="#f4c8b0" fill-opacity="0.35" stroke="#8a4838" stroke-width="0.45" stroke-opacity="0.45"/>
<circle cx="106.12" cy="38.12" r="1.34" fill="#f4c8b0" fill-opacity="0.35" stroke="#8a4838" stroke-width="0.45" stroke-opacity="0.45"/>
<circle cx="94.12" cy="40.36" r="1.34" fill="#f4c8b0" fill-opacity="0.35" stroke="#8a4838" stroke-width="0.45" stroke-opacity="0.45"/>
<circle cx="98.04" cy="40.26" r="1.34" fill="#f4c8b0" fill-opacity="0.35" stroke="#8a4838" stroke-width="0.45" stroke-opacity="0.45"/>
<circle cx="100.79" cy="40.19" r="1.34" fill="#f4c8b0" fill-opacity="0.35" stroke="#8a4838" stroke-width="0.45" stroke-opacity="0.45"/>
<circle cx="103.88" cy="39.87" r="1.34" fill="#f4c8b0" fill-opacity="0.35" stroke="#8a4838" stroke-width="0.45" stroke-opacity="0.45"/>
<circle cx="96.41" cy="42.48" r="1.34" fill="#f4c8b0" fill-opacity="0.35" stroke="#8a4838" stroke-width="0.45" stroke-opacity="0.45"/>
<circle cx="99.31" cy="42.65" r="1.34" fill="#f4c8b0" fill-opacity="0.35" stroke="#8a4838" stroke-width="0.45" stroke-opacity="0.45"/>
<circle cx="102.49" cy="42.61" r="1.34" fill="#f4c8b0" fill-opacity="0.35" stroke="#8a4838" stroke-width="0.45" stroke-opacity="0.45"/>
<circle cx="106.06" cy="42.21" r="1.34" fill="#f4c8b0" fill-opacity="0.35" stroke="#8a4838" stroke-width="0.45" stroke-opacity="0.45"/>
</g>
<path d="M105.71,34.60 L106.33,36.37 L105.66,37.53 L105.26,38.54 L105.74,39.78 L105.35,40.69 L104.32,41.18 L104.25,42.09 L104.35,43.09 L103.60,43.31 L103.07,43.57 L103.11,44.48 L102.63,44.82 L101.78,44.51 L101.18,44.84 L100.10,45.36 L99.05,44.91 L98.56,44.48 L97.77,44.77 L97.18,44.52 L97.10,43.61 L96.50,43.26 L95.56,43.08 L95.55,42.14 L95.69,41.17 L94.93,40.66 L94.64,39.81 L95.28,38.56 L95.05,37.51 L94.15,36.36 L94.39,34.60 L94.79,32.95 L94.03,31.61 L93.80,30.41 L94.75,29.66 L94.98,28.75 L94.62,27.58 L95.30,27.01 L96.13,26.69 L95.96,25.76 L96.07,25.03 L96.96,25.13 L97.47,24.84 L97.81,24.07 L98.76,24.14 L100.10,24.56 L101.36,24.21 L102.25,24.04 L102.57,24.79 L103.05,25.18 L104.10,25.07 L104.50,25.70 L104.42,26.68 L105.18,27.06 L105.85,27.57 L105.30,28.71 L105.13,29.68 L105.92,30.43 L105.83,31.59 L105.17,32.95Z" fill="none" stroke="#8a4838" stroke-width="0.5" stroke-opacity="0.5"/>
<path d="M118.40,24.30 Q118.52,20.45 118.80,18.60" stroke="#b8c878" stroke-width="1.1" fill="none" stroke-linecap="round"/>
<defs><linearGradient id="fg4" x1="0.7" y1="0" x2="0.2" y2="1"><stop offset="0" stop-color="#b02838"/><stop offset="0.45" stop-color="#b02838"/><stop offset="1" stop-color="#c03848"/></linearGradient><clipPath id="fc4"><path d="M125.15,33.90 L124.26,35.95 L123.68,37.37 L124.33,38.93 L124.24,40.18 L123.36,40.92 L123.48,42.05 L123.78,43.35 L122.92,43.80 L122.15,44.18 L122.11,45.33 L121.59,45.92 L120.64,45.66 L120.16,46.11 L119.65,46.88 L118.40,46.50 L117.30,46.02 L116.35,46.46 L115.61,46.34 L115.48,45.31 L115.01,44.94 L114.16,44.89 L114.13,43.87 L114.24,42.72 L113.28,42.23 L112.60,41.35 L112.98,39.89 L112.64,38.72 L111.67,37.60 L112.03,35.98 L112.76,33.90 L112.20,31.82 L111.92,30.20 L112.83,29.08 L112.89,27.91 L112.11,26.44 L112.52,25.58 L113.37,25.08 L113.20,23.92 L113.36,22.91 L114.51,22.87 L115.18,22.48 L115.36,21.45 L116.18,21.35 L117.18,21.79 L118.40,21.30 L119.93,20.93 L120.63,21.70 L121.23,22.14 L122.26,21.87 L122.66,22.48 L122.45,23.62 L123.13,24.00 L123.98,24.45 L123.71,25.76 L123.78,26.88 L124.92,27.62 L125.09,28.88 L124.33,30.43 L124.66,31.85Z"/></clipPath></defs>
<path d="M125.15,33.90 L124.26,35.95 L123.68,37.37 L124.33,38.93 L124.24,40.18 L123.36,40.92 L123.48,42.05 L123.78,43.35 L122.92,43.80 L122.15,44.18 L122.11,45.33 L121.59,45.92 L120.64,45.66 L120.16,46.11 L119.65,46.88 L118.40,46.50 L117.30,46.02 L116.35,46.46 L115.61,46.34 L115.48,45.31 L115.01,44.94 L114.16,44.89 L114.13,43.87 L114.24,42.72 L113.28,42.23 L112.60,41.35 L112.98,39.89 L112.64,38.72 L111.67,37.60 L112.03,35.98 L112.76,33.90 L112.20,31.82 L111.92,30.20 L112.83,29.08 L112.89,27.91 L112.11,26.44 L112.52,25.58 L113.37,25.08 L113.20,23.92 L113.36,22.91 L114.51,22.87 L115.18,22.48 L115.36,21.45 L116.18,21.35 L117.18,21.79 L118.40,21.30 L119.93,20.93 L120.63,21.70 L121.23,22.14 L122.26,21.87 L122.66,22.48 L122.45,23.62 L123.13,24.00 L123.98,24.45 L123.71,25.76 L123.78,26.88 L124.92,27.62 L125.09,28.88 L124.33,30.43 L124.66,31.85Z" fill="url(#fg4)"/>
<g clip-path="url(#fc4)">
<circle cx="112.03" cy="23.75" r="1.46" fill="#d05868" fill-opacity="0.35" stroke="#6a1020" stroke-width="0.45" stroke-opacity="0.45"/>
<circle cx="115.81" cy="23.77" r="1.46" fill="#d05868" fill-opacity="0.35" stroke="#6a1020" stroke-width="0.45" stroke-opacity="0.45"/>
<circle cx="119.22" cy="23.69" r="1.46" fill="#d05868" fill-opacity="0.35" stroke="#6a1020" stroke-width="0.45" stroke-opacity="0.45"/>
<circle cx="123.16" cy="23.82" r="1.46" fill="#d05868" fill-opacity="0.35" stroke="#6a1020" stroke-width="0.45" stroke-opacity="0.45"/>
<circle cx="113.94" cy="26.18" r="1.46" fill="#d05868" fill-opacity="0.35" stroke="#6a1020" stroke-width="0.45" stroke-opacity="0.45"/>
<circle cx="117.84" cy="26.08" r="1.46" fill="#d05868" fill-opacity="0.35" stroke="#6a1020" stroke-width="0.45" stroke-opacity="0.45"/>
<circle cx="121.39" cy="26.13" r="1.46" fill="#d05868" fill-opacity="0.35" stroke="#6a1020" stroke-width="0.45" stroke-opacity="0.45"/>
<circle cx="124.63" cy="26.14" r="1.46" fill="#d05868" fill-opacity="0.35" stroke="#6a1020" stroke-width="0.45" stroke-opacity="0.45"/>
<circle cx="111.81" cy="28.31" r="1.46" fill="#d05868" fill-opacity="0.35" stroke="#6a1020" stroke-width="0.45" stroke-opacity="0.45"/>
<circle cx="115.49" cy="28.05" r="1.46" fill="#d05868" fill-opacity="0.35" stroke="#6a1020" stroke-width="0.45" stroke-opacity="0.45"/>
<circle cx="119.53" cy="28.15" r="1.46" fill="#d05868" fill-opacity="0.35" stroke="#6a1020" stroke-width="0.45" stroke-opacity="0.45"/>
<circle cx="122.81" cy="28.49" r="1.46" fill="#d05868" fill-opacity="0.35" stroke="#6a1020" stroke-width="0.45" stroke-opacity="0.45"/>
<circle cx="114.02" cy="30.47" r="1.46" fill="#d05868" fill-opacity="0.35" stroke="#6a1020" stroke-width="0.45" stroke-opacity="0.45"/>
<circle cx="117.53" cy="30.60" r="1.46" fill="#d05868" fill-opacity="0.35" stroke="#6a1020" stroke-width="0.45" stroke-opacity="0.45"/>
<circle cx="121.28" cy="30.33" r="1.46" fill="#d05868" fill-opacity="0.35" stroke="#6a1020" stroke-width="0.45" stroke-opacity="0.45"/>
<circle cx="124.65" cy="30.42" r="1.46" fill="#d05868" fill-opacity="0.35" stroke="#6a1020" stroke-width="0.45" stroke-opacity="0.45"/>
<circle cx="112.02" cy="32.95" r="1.46" fill="#d05868" fill-opacity="0.35" stroke="#6a1020" stroke-width="0.45" stroke-opacity="0.45"/>
<circle cx="115.75" cy="32.83" r="1.46" fill="#d05868" fill-opacity="0.35" stroke="#6a1020" stroke-width="0.45" stroke-opacity="0.45"/>
<circle cx="119.49" cy="33.04" r="1.46" fill="#d05868" fill-opacity="0.35" stroke="#6a1020" stroke-width="0.45" stroke-opacity="0.45"/>
<circle cx="122.78" cy="32.86" r="1.46" fill="#d05868" fill-opacity="0.35" stroke="#6a1020" stroke-width="0.45" stroke-opacity="0.45"/>
<circle cx="113.98" cy="35.02" r="1.46" fill="#d05868" fill-opacity="0.35" stroke="#6a1020" stroke-width="0.45" stroke-opacity="0.45"/>
<circle cx="117.67" cy="34.98" r="1.46" fill="#d05868" fill-opacity="0.35" stroke="#6a1020" stroke-width="0.45" stroke-opacity="0.45"/>
<circle cx="121.08" cy="35.00" r="1.46" fill="#d05868" fill-opacity="0.35" stroke="#6a1020" stroke-width="0.45" stroke-opacity="0.45"/>
<circle cx="124.95" cy="35.13" r="1.46" fill="#d05868" fill-opacity="0.35" stroke="#6a1020" stroke-width="0.45" stroke-opacity="0.45"/>
<circle cx="112.50" cy="37.50" r="1.46" fill="#d05868" fill-opacity="0.35" stroke="#6a1020" stroke-width="0.45" stroke-opacity="0.45"/>
<circle cx="115.55" cy="37.27" r="1.46" fill="#d05868" fill-opacity="0.35" stroke="#6a1020" stroke-width="0.45" stroke-opacity="0.45"/>
<circle cx="119.64" cy="37.43" r="1.46" fill="#d05868" fill-opacity="0.35" stroke="#6a1020" stroke-width="0.45" stroke-opacity="0.45"/>
<circle cx="122.54" cy="37.00" r="1.46" fill="#d05868" fill-opacity="0.35" stroke="#6a1020" stroke-width="0.45" stroke-opacity="0.45"/>
<circle cx="113.93" cy="39.19" r="1.46" fill="#d05868" fill-opacity="0.35" stroke="#6a1020" stroke-width="0.45" stroke-opacity="0.45"/>
<circle cx="117.31" cy="39.19" r="1.46" fill="#d05868" fill-opacity="0.35" stroke="#6a1020" stroke-width="0.45" stroke-opacity="0.45"/>
<circle cx="121.19" cy="39.62" r="1.46" fill="#d05868" fill-opacity="0.35" stroke="#6a1020" stroke-width="0.45" stroke-opacity="0.45"/>
<circle cx="124.92" cy="39.24" r="1.46" fill="#d05868" fill-opacity="0.35" stroke="#6a1020" stroke-width="0.45" stroke-opacity="0.45"/>
<circle cx="112.37" cy="41.77" r="1.46" fill="#d05868" fill-opacity="0.35" stroke="#6a1020" stroke-width="0.45" stroke-opacity="0.45"/>
<circle cx="115.46" cy="41.90" r="1.46" fill="#d05868" fill-opacity="0.35" stroke="#6a1020" stroke-width="0.45" stroke-opacity="0.45"/>
<circle cx="119.66" cy="41.50" r="1.46" fill="#d05868" fill-opacity="0.35" stroke="#6a1020" stroke-width="0.45" stroke-opacity="0.45"/>
<circle cx="123.19" cy="41.61" r="1.46" fill="#d05868" fill-opacity="0.35" stroke="#6a1020" stroke-width="0.45" stroke-opacity="0.45"/>
<circle cx="113.96" cy="44.18" r="1.46" fill="#d05868" fill-opacity="0.35" stroke="#6a1020" stroke-width="0.45" stroke-opacity="0.45"/>
<circle cx="117.78" cy="43.69" r="1.46" fill="#d05868" fill-opacity="0.35" stroke="#6a1020" stroke-width="0.45" stroke-opacity="0.45"/>
<circle cx="121.00" cy="43.90" r="1.46" fill="#d05868" fill-opacity="0.35" stroke="#6a1020" stroke-width="0.45" stroke-opacity="0.45"/>
<circle cx="124.47" cy="43.71" r="1.46" fill="#d05868" fill-opacity="0.35" stroke="#6a1020" stroke-width="0.45" stroke-opacity="0.45"/>
</g>
<path d="M125.15,33.90 L124.26,35.95 L123.68,37.37 L124.33,38.93 L124.24,40.18 L123.36,40.92 L123.48,42.05 L123.78,43.35 L122.92,43.80 L122.15,44.18 L122.11,45.33 L121.59,45.92 L120.64,45.66 L120.16,46.11 L119.65,46.88 L118.40,46.50 L117.30,46.02 L116.35,46.46 L115.61,46.34 L115.48,45.31 L115.01,44.94 L114.16,44.89 L114.13,43.87 L114.24,42.72 L113.28,42.23 L112.60,41.35 L112.98,39.89 L112.64,38.72 L111.67,37.60 L112.03,35.98 L112.76,33.90 L112.20,31.82 L111.92,30.20 L112.83,29.08 L112.89,27.91 L112.11,26.44 L112.52,25.58 L113.37,25.08 L113.20,23.92 L113.36,22.91 L114.51,22.87 L115.18,22.48 L115.36,21.45 L116.18,21.35 L117.18,21.79 L118.40,21.30 L119.93,20.93 L120.63,21.70 L121.23,22.14 L122.26,21.87 L122.66,22.48 L122.45,23.62 L123.13,24.00 L123.98,24.45 L123.71,25.76 L123.78,26.88 L124.92,27.62 L125.09,28.88 L124.33,30.43 L124.66,31.85Z" fill="none" stroke="#6a1020" stroke-width="0.5" stroke-opacity="0.5"/>
<path d="M138.20,24.60 Q137.54,19.50 136.00,16.40" stroke="#c0d070" stroke-width="1.1" fill="none" stroke-linecap="round"/>
<defs><linearGradient id="fg5" x1="0.7" y1="0" x2="0.2" y2="1"><stop offset="0" stop-color="#521626"/><stop offset="0.45" stop-color="#521626"/><stop offset="1" stop-color="#b02838"/></linearGradient><clipPath id="fc5"><path d="M145.14,34.70 L144.11,36.81 L143.99,38.34 L144.81,39.98 L144.41,41.15 L143.59,41.96 L143.89,43.30 L143.88,44.51 L142.74,44.85 L142.13,45.47 L142.14,46.71 L141.45,47.06 L140.55,46.85 L140.20,47.58 L139.57,48.19 L138.20,47.61 L136.99,47.38 L135.97,47.91 L135.36,47.50 L135.25,46.48 L134.57,46.34 L133.73,46.14 L133.81,44.92 L133.60,43.91 L132.40,43.47 L132.00,42.38 L132.46,40.87 L131.88,39.78 L131.14,38.56 L131.87,36.83 L132.34,34.70 L131.48,32.50 L131.43,30.88 L132.28,29.74 L131.92,28.39 L131.25,26.91 L132.07,26.17 L132.84,25.52 L132.60,24.19 L133.08,23.36 L134.31,23.36 L134.71,22.68 L134.91,21.68 L135.87,21.83 L136.85,22.10 L138.20,21.41 L139.83,21.29 L140.49,22.17 L141.23,22.33 L142.26,22.11 L142.45,22.99 L142.42,24.03 L143.45,24.25 L144.20,24.91 L143.85,26.34 L144.27,27.33 L145.38,28.12 L145.07,29.54 L144.31,31.10 L144.90,32.53Z"/></clipPath></defs>
<path d="M145.14,34.70 L144.11,36.81 L143.99,38.34 L144.81,39.98 L144.41,41.15 L143.59,41.96 L143.89,43.30 L143.88,44.51 L142.74,44.85 L142.13,45.47 L142.14,46.71 L141.45,47.06 L140.55,46.85 L140.20,47.58 L139.57,48.19 L138.20,47.61 L136.99,47.38 L135.97,47.91 L135.36,47.50 L135.25,46.48 L134.57,46.34 L133.73,46.14 L133.81,44.92 L133.60,43.91 L132.40,43.47 L132.00,42.38 L132.46,40.87 L131.88,39.78 L131.14,38.56 L131.87,36.83 L132.34,34.70 L131.48,32.50 L131.43,30.88 L132.28,29.74 L131.92,28.39 L131.25,26.91 L132.07,26.17 L132.84,25.52 L132.60,24.19 L133.08,23.36 L134.31,23.36 L134.71,22.68 L134.91,21.68 L135.87,21.83 L136.85,22.10 L138.20,21.41 L139.83,21.29 L140.49,22.17 L141.23,22.33 L142.26,22.11 L142.45,22.99 L142.42,24.03 L143.45,24.25 L144.20,24.91 L143.85,26.34 L144.27,27.33 L145.38,28.12 L145.07,29.54 L144.31,31.10 L144.90,32.53Z" fill="url(#fg5)"/>
<g clip-path="url(#fc5)">
<circle cx="131.78" cy="23.97" r="1.55" fill="#a04050" fill-opacity="0.35" stroke="#300810" stroke-width="0.45" stroke-opacity="0.45"/>
<circle cx="135.41" cy="24.22" r="1.55" fill="#a04050" fill-opacity="0.35" stroke="#300810" stroke-width="0.45" stroke-opacity="0.45"/>
<circle cx="138.76" cy="24.16" r="1.55" fill="#a04050" fill-opacity="0.35" stroke="#300810" stroke-width="0.45" stroke-opacity="0.45"/>
<circle cx="143.01" cy="24.27" r="1.55" fill="#a04050" fill-opacity="0.35" stroke="#300810" stroke-width="0.45" stroke-opacity="0.45"/>
<circle cx="133.14" cy="26.87" r="1.55" fill="#a04050" fill-opacity="0.35" stroke="#300810" stroke-width="0.45" stroke-opacity="0.45"/>
<circle cx="137.49" cy="26.86" r="1.55" fill="#a04050" fill-opacity="0.35" stroke="#300810" stroke-width="0.45" stroke-opacity="0.45"/>
<circle cx="140.71" cy="26.44" r="1.55" fill="#a04050" fill-opacity="0.35" stroke="#300810" stroke-width="0.45" stroke-opacity="0.45"/>
<circle cx="144.43" cy="26.75" r="1.55" fill="#a04050" fill-opacity="0.35" stroke="#300810" stroke-width="0.45" stroke-opacity="0.45"/>
<circle cx="131.42" cy="28.68" r="1.55" fill="#a04050" fill-opacity="0.35" stroke="#300810" stroke-width="0.45" stroke-opacity="0.45"/>
<circle cx="135.31" cy="29.15" r="1.55" fill="#a04050" fill-opacity="0.35" stroke="#300810" stroke-width="0.45" stroke-opacity="0.45"/>
<circle cx="139.40" cy="28.76" r="1.55" fill="#a04050" fill-opacity="0.35" stroke="#300810" stroke-width="0.45" stroke-opacity="0.45"/>
<circle cx="142.63" cy="29.15" r="1.55" fill="#a04050" fill-opacity="0.35" stroke="#300810" stroke-width="0.45" stroke-opacity="0.45"/>
<circle cx="133.54" cy="31.34" r="1.55" fill="#a04050" fill-opacity="0.35" stroke="#300810" stroke-width="0.45" stroke-opacity="0.45"/>
<circle cx="136.93" cy="30.95" r="1.55" fill="#a04050" fill-opacity="0.35" stroke="#300810" stroke-width="0.45" stroke-opacity="0.45"/>
<circle cx="141.18" cy="31.18" r="1.55" fill="#a04050" fill-opacity="0.35" stroke="#300810" stroke-width="0.45" stroke-opacity="0.45"/>
<circle cx="144.46" cy="31.48" r="1.55" fill="#a04050" fill-opacity="0.35" stroke="#300810" stroke-width="0.45" stroke-opacity="0.45"/>
<circle cx="131.71" cy="33.72" r="1.55" fill="#a04050" fill-opacity="0.35" stroke="#300810" stroke-width="0.45" stroke-opacity="0.45"/>
<circle cx="135.04" cy="33.75" r="1.55" fill="#a04050" fill-opacity="0.35" stroke="#300810" stroke-width="0.45" stroke-opacity="0.45"/>
<circle cx="138.80" cy="33.76" r="1.55" fill="#a04050" fill-opacity="0.35" stroke="#300810" stroke-width="0.45" stroke-opacity="0.45"/>
<circle cx="142.88" cy="33.44" r="1.55" fill="#a04050" fill-opacity="0.35" stroke="#300810" stroke-width="0.45" stroke-opacity="0.45"/>
<circle cx="133.53" cy="36.12" r="1.55" fill="#a04050" fill-opacity="0.35" stroke="#300810" stroke-width="0.45" stroke-opacity="0.45"/>
<circle cx="137.07" cy="35.64" r="1.55" fill="#a04050" fill-opacity="0.35" stroke="#300810" stroke-width="0.45" stroke-opacity="0.45"/>
<circle cx="141.05" cy="35.70" r="1.55" fill="#a04050" fill-opacity="0.35" stroke="#300810" stroke-width="0.45" stroke-opacity="0.45"/>
<circle cx="144.49" cy="35.66" r="1.55" fill="#a04050" fill-opacity="0.35" stroke="#300810" stroke-width="0.45" stroke-opacity="0.45"/>
<circle cx="131.24" cy="38.00" r="1.55" fill="#a04050" fill-opacity="0.35" stroke="#300810" stroke-width="0.45" stroke-opacity="0.45"/>
<circle cx="135.22" cy="38.06" r="1.55" fill="#a04050" fill-opacity="0.35" stroke="#300810" stroke-width="0.45" stroke-opacity="0.45"/>
<circle cx="139.35" cy="38.05" r="1.55" fill="#a04050" fill-opacity="0.35" stroke="#300810" stroke-width="0.45" stroke-opacity="0.45"/>
<circle cx="142.91" cy="37.99" r="1.55" fill="#a04050" fill-opacity="0.35" stroke="#300810" stroke-width="0.45" stroke-opacity="0.45"/>
<circle cx="133.36" cy="40.21" r="1.55" fill="#a04050" fill-opacity="0.35" stroke="#300810" stroke-width="0.45" stroke-opacity="0.45"/>
<circle cx="137.06" cy="40.21" r="1.55" fill="#a04050" fill-opacity="0.35" stroke="#300810" stroke-width="0.45" stroke-opacity="0.45"/>
<circle cx="141.22" cy="40.53" r="1.55" fill="#a04050" fill-opacity="0.35" stroke="#300810" stroke-width="0.45" stroke-opacity="0.45"/>
<circle cx="144.55" cy="40.48" r="1.55" fill="#a04050" fill-opacity="0.35" stroke="#300810" stroke-width="0.45" stroke-opacity="0.45"/>
<circle cx="131.95" cy="42.58" r="1.55" fill="#a04050" fill-opacity="0.35" stroke="#300810" stroke-width="0.45" stroke-opacity="0.45"/>
<circle cx="135.63" cy="42.78" r="1.55" fill="#a04050" fill-opacity="0.35" stroke="#300810" stroke-width="0.45" stroke-opacity="0.45"/>
<circle cx="139.14" cy="43.02" r="1.55" fill="#a04050" fill-opacity="0.35" stroke="#300810" stroke-width="0.45" stroke-opacity="0.45"/>
<circle cx="142.83" cy="42.82" r="1.55" fill="#a04050" fill-opacity="0.35" stroke="#300810" stroke-width="0.45" stroke-opacity="0.45"/>
<circle cx="133.64" cy="45.43" r="1.55" fill="#a04050" fill-opacity="0.35" stroke="#300810" stroke-width="0.45" stroke-opacity="0.45"/>
<circle cx="137.13" cy="45.34" r="1.55" fill="#a04050" fill-opacity="0.35" stroke="#300810" stroke-width="0.45" stroke-opacity="0.45"/>
<circle cx="141.19" cy="45.22" r="1.55" fill="#a04050" fill-opacity="0.35" stroke="#300810" stroke-width="0.45" stroke-opacity="0.45"/>
<circle cx="144.72" cy="45.05" r="1.55" fill="#a04050" fill-opacity="0.35" stroke="#300810" stroke-width="0.45" stroke-opacity="0.45"/>
</g>
<path d="M145.14,34.70 L144.11,36.81 L143.99,38.34 L144.81,39.98 L144.41,41.15 L143.59,41.96 L143.89,43.30 L143.88,44.51 L142.74,44.85 L142.13,45.47 L142.14,46.71 L141.45,47.06 L140.55,46.85 L140.20,47.58 L139.57,48.19 L138.20,47.61 L136.99,47.38 L135.97,47.91 L135.36,47.50 L135.25,46.48 L134.57,46.34 L133.73,46.14 L133.81,44.92 L133.60,43.91 L132.40,43.47 L132.00,42.38 L132.46,40.87 L131.88,39.78 L131.14,38.56 L131.87,36.83 L132.34,34.70 L131.48,32.50 L131.43,30.88 L132.28,29.74 L131.92,28.39 L131.25,26.91 L132.07,26.17 L132.84,25.52 L132.60,24.19 L133.08,23.36 L134.31,23.36 L134.71,22.68 L134.91,21.68 L135.87,21.83 L136.85,22.10 L138.20,21.41 L139.83,21.29 L140.49,22.17 L141.23,22.33 L142.26,22.11 L142.45,22.99 L142.42,24.03 L143.45,24.25 L144.20,24.91 L143.85,26.34 L144.27,27.33 L145.38,28.12 L145.07,29.54 L144.31,31.10 L144.90,32.53Z" fill="none" stroke="#300810" stroke-width="0.5" stroke-opacity="0.5"/>
<path d="M158.70,24.60 Q159.12,19.40 160.10,16.20" stroke="#c8d878" stroke-width="1.1" fill="none" stroke-linecap="round"/>
<defs><linearGradient id="fg6" x1="0.7" y1="0" x2="0.2" y2="1"><stop offset="0" stop-color="#3c1626"/><stop offset="0.45" stop-color="#3c1626"/><stop offset="1" stop-color="#701a2a"/></linearGradient><clipPath id="fc6"><path d="M166.19,35.05 L166.52,37.32 L165.40,38.79 L165.19,40.20 L165.67,41.81 L164.81,42.82 L163.78,43.53 L164.07,44.88 L164.04,45.99 L163.04,46.16 L162.63,46.77 L162.62,47.95 L161.76,48.10 L160.73,47.80 L160.06,48.50 L158.70,48.94 L157.47,48.20 L156.74,47.93 L155.67,48.34 L155.07,47.73 L154.89,46.63 L153.93,46.41 L153.03,46.02 L153.33,44.66 L153.30,43.60 L152.27,42.98 L152.23,41.71 L152.84,40.13 L152.02,38.87 L151.05,37.34 L151.63,35.05 L151.84,32.91 L150.89,31.13 L151.17,29.69 L152.41,28.71 L152.30,27.37 L151.96,25.95 L152.98,25.38 L153.61,24.78 L153.19,23.46 L153.64,22.79 L154.81,22.92 L155.30,22.26 L155.87,21.37 L157.14,21.72 L158.70,22.04 L160.29,21.41 L161.32,21.50 L161.74,22.50 L162.63,22.71 L163.91,22.65 L164.10,23.71 L164.09,24.80 L165.14,25.15 L165.55,26.01 L164.75,27.53 L165.02,28.61 L166.07,29.62 L165.70,31.21 L165.21,32.92Z"/></clipPath></defs>
<path d="M166.19,35.05 L166.52,37.32 L165.40,38.79 L165.19,40.20 L165.67,41.81 L164.81,42.82 L163.78,43.53 L164.07,44.88 L164.04,45.99 L163.04,46.16 L162.63,46.77 L162.62,47.95 L161.76,48.10 L160.73,47.80 L160.06,48.50 L158.70,48.94 L157.47,48.20 L156.74,47.93 L155.67,48.34 L155.07,47.73 L154.89,46.63 L153.93,46.41 L153.03,46.02 L153.33,44.66 L153.30,43.60 L152.27,42.98 L152.23,41.71 L152.84,40.13 L152.02,38.87 L151.05,37.34 L151.63,35.05 L151.84,32.91 L150.89,31.13 L151.17,29.69 L152.41,28.71 L152.30,27.37 L151.96,25.95 L152.98,25.38 L153.61,24.78 L153.19,23.46 L153.64,22.79 L154.81,22.92 L155.30,22.26 L155.87,21.37 L157.14,21.72 L158.70,22.04 L160.29,21.41 L161.32,21.50 L161.74,22.50 L162.63,22.71 L163.91,22.65 L164.10,23.71 L164.09,24.80 L165.14,25.15 L165.55,26.01 L164.75,27.53 L165.02,28.61 L166.07,29.62 L165.70,31.21 L165.21,32.92Z" fill="url(#fg6)"/>
<g clip-path="url(#fc6)">
<circle cx="151.30" cy="23.93" r="1.67" fill="#7a3850" fill-opacity="0.2" stroke="#1a0810" stroke-width="0.45" stroke-opacity="0.45"/>
<circle cx="155.85" cy="24.04" r="1.67" fill="#7a3850" fill-opacity="0.2" stroke="#1a0810" stroke-width="0.45" stroke-opacity="0.45"/>
<circle cx="159.44" cy="23.94" r="1.67" fill="#7a3850" fill-opacity="0.2" stroke="#1a0810" stroke-width="0.45" stroke-opacity="0.45"/>
<circle cx="164.04" cy="24.41" r="1.67" fill="#7a3850" fill-opacity="0.2" stroke="#1a0810" stroke-width="0.45" stroke-opacity="0.45"/>
<circle cx="153.77" cy="26.23" r="1.67" fill="#7a3850" fill-opacity="0.2" stroke="#1a0810" stroke-width="0.45" stroke-opacity="0.45"/>
<circle cx="157.48" cy="26.23" r="1.67" fill="#7a3850" fill-opacity="0.2" stroke="#1a0810" stroke-width="0.45" stroke-opacity="0.45"/>
<circle cx="161.71" cy="26.15" r="1.67" fill="#7a3850" fill-opacity="0.2" stroke="#1a0810" stroke-width="0.45" stroke-opacity="0.45"/>
<circle cx="165.76" cy="26.22" r="1.67" fill="#7a3850" fill-opacity="0.2" stroke="#1a0810" stroke-width="0.45" stroke-opacity="0.45"/>
<circle cx="151.97" cy="28.82" r="1.67" fill="#7a3850" fill-opacity="0.2" stroke="#1a0810" stroke-width="0.45" stroke-opacity="0.45"/>
<circle cx="155.69" cy="28.38" r="1.67" fill="#7a3850" fill-opacity="0.2" stroke="#1a0810" stroke-width="0.45" stroke-opacity="0.45"/>
<circle cx="160.09" cy="28.42" r="1.67" fill="#7a3850" fill-opacity="0.2" stroke="#1a0810" stroke-width="0.45" stroke-opacity="0.45"/>
<circle cx="163.66" cy="28.23" r="1.67" fill="#7a3850" fill-opacity="0.2" stroke="#1a0810" stroke-width="0.45" stroke-opacity="0.45"/>
<circle cx="153.53" cy="30.69" r="1.67" fill="#7a3850" fill-opacity="0.2" stroke="#1a0810" stroke-width="0.45" stroke-opacity="0.45"/>
<circle cx="157.69" cy="30.53" r="1.67" fill="#7a3850" fill-opacity="0.2" stroke="#1a0810" stroke-width="0.45" stroke-opacity="0.45"/>
<circle cx="161.75" cy="30.41" r="1.67" fill="#7a3850" fill-opacity="0.2" stroke="#1a0810" stroke-width="0.45" stroke-opacity="0.45"/>
<circle cx="165.61" cy="30.46" r="1.67" fill="#7a3850" fill-opacity="0.2" stroke="#1a0810" stroke-width="0.45" stroke-opacity="0.45"/>
<circle cx="151.52" cy="32.60" r="1.67" fill="#7a3850" fill-opacity="0.2" stroke="#1a0810" stroke-width="0.45" stroke-opacity="0.45"/>
<circle cx="155.28" cy="32.76" r="1.67" fill="#7a3850" fill-opacity="0.2" stroke="#1a0810" stroke-width="0.45" stroke-opacity="0.45"/>
<circle cx="159.50" cy="32.93" r="1.67" fill="#7a3850" fill-opacity="0.2" stroke="#1a0810" stroke-width="0.45" stroke-opacity="0.45"/>
<circle cx="163.79" cy="33.03" r="1.67" fill="#7a3850" fill-opacity="0.2" stroke="#1a0810" stroke-width="0.45" stroke-opacity="0.45"/>
<circle cx="153.75" cy="35.18" r="1.67" fill="#7a3850" fill-opacity="0.2" stroke="#1a0810" stroke-width="0.45" stroke-opacity="0.45"/>
<circle cx="157.99" cy="34.98" r="1.67" fill="#7a3850" fill-opacity="0.2" stroke="#1a0810" stroke-width="0.45" stroke-opacity="0.45"/>
<circle cx="161.60" cy="35.34" r="1.67" fill="#7a3850" fill-opacity="0.2" stroke="#1a0810" stroke-width="0.45" stroke-opacity="0.45"/>
<circle cx="165.52" cy="35.18" r="1.67" fill="#7a3850" fill-opacity="0.2" stroke="#1a0810" stroke-width="0.45" stroke-opacity="0.45"/>
<circle cx="151.71" cy="36.95" r="1.67" fill="#7a3850" fill-opacity="0.2" stroke="#1a0810" stroke-width="0.45" stroke-opacity="0.45"/>
<circle cx="155.93" cy="37.46" r="1.67" fill="#7a3850" fill-opacity="0.2" stroke="#1a0810" stroke-width="0.45" stroke-opacity="0.45"/>
<circle cx="159.82" cy="37.36" r="1.67" fill="#7a3850" fill-opacity="0.2" stroke="#1a0810" stroke-width="0.45" stroke-opacity="0.45"/>
<circle cx="164.02" cy="37.01" r="1.67" fill="#7a3850" fill-opacity="0.2" stroke="#1a0810" stroke-width="0.45" stroke-opacity="0.45"/>
<circle cx="153.65" cy="39.40" r="1.67" fill="#7a3850" fill-opacity="0.2" stroke="#1a0810" stroke-width="0.45" stroke-opacity="0.45"/>
<circle cx="157.95" cy="39.58" r="1.67" fill="#7a3850" fill-opacity="0.2" stroke="#1a0810" stroke-width="0.45" stroke-opacity="0.45"/>
<circle cx="162.00" cy="39.45" r="1.67" fill="#7a3850" fill-opacity="0.2" stroke="#1a0810" stroke-width="0.45" stroke-opacity="0.45"/>
<circle cx="166.11" cy="39.51" r="1.67" fill="#7a3850" fill-opacity="0.2" stroke="#1a0810" stroke-width="0.45" stroke-opacity="0.45"/>
<circle cx="151.75" cy="41.41" r="1.67" fill="#7a3850" fill-opacity="0.2" stroke="#1a0810" stroke-width="0.45" stroke-opacity="0.45"/>
<circle cx="155.28" cy="41.35" r="1.67" fill="#7a3850" fill-opacity="0.2" stroke="#1a0810" stroke-width="0.45" stroke-opacity="0.45"/>
<circle cx="159.60" cy="41.33" r="1.67" fill="#7a3850" fill-opacity="0.2" stroke="#1a0810" stroke-width="0.45" stroke-opacity="0.45"/>
<circle cx="164.04" cy="41.60" r="1.67" fill="#7a3850" fill-opacity="0.2" stroke="#1a0810" stroke-width="0.45" stroke-opacity="0.45"/>
<circle cx="153.73" cy="43.82" r="1.67" fill="#7a3850" fill-opacity="0.2" stroke="#1a0810" stroke-width="0.45" stroke-opacity="0.45"/>
<circle cx="157.83" cy="43.73" r="1.67" fill="#7a3850" fill-opacity="0.2" stroke="#1a0810" stroke-width="0.45" stroke-opacity="0.45"/>
<circle cx="161.35" cy="43.92" r="1.67" fill="#7a3850" fill-opacity="0.2" stroke="#1a0810" stroke-width="0.45" stroke-opacity="0.45"/>
<circle cx="166.00" cy="43.74" r="1.67" fill="#7a3850" fill-opacity="0.2" stroke="#1a0810" stroke-width="0.45" stroke-opacity="0.45"/>
<circle cx="151.63" cy="46.01" r="1.67" fill="#7a3850" fill-opacity="0.2" stroke="#1a0810" stroke-width="0.45" stroke-opacity="0.45"/>
<circle cx="155.31" cy="46.06" r="1.67" fill="#7a3850" fill-opacity="0.2" stroke="#1a0810" stroke-width="0.45" stroke-opacity="0.45"/>
<circle cx="159.52" cy="45.66" r="1.67" fill="#7a3850" fill-opacity="0.2" stroke="#1a0810" stroke-width="0.45" stroke-opacity="0.45"/>
<circle cx="163.58" cy="46.05" r="1.67" fill="#7a3850" fill-opacity="0.2" stroke="#1a0810" stroke-width="0.45" stroke-opacity="0.45"/>
</g>
<path d="M166.19,35.05 L166.52,37.32 L165.40,38.79 L165.19,40.20 L165.67,41.81 L164.81,42.82 L163.78,43.53 L164.07,44.88 L164.04,45.99 L163.04,46.16 L162.63,46.77 L162.62,47.95 L161.76,48.10 L160.73,47.80 L160.06,48.50 L158.70,48.94 L157.47,48.20 L156.74,47.93 L155.67,48.34 L155.07,47.73 L154.89,46.63 L153.93,46.41 L153.03,46.02 L153.33,44.66 L153.30,43.60 L152.27,42.98 L152.23,41.71 L152.84,40.13 L152.02,38.87 L151.05,37.34 L151.63,35.05 L151.84,32.91 L150.89,31.13 L151.17,29.69 L152.41,28.71 L152.30,27.37 L151.96,25.95 L152.98,25.38 L153.61,24.78 L153.19,23.46 L153.64,22.79 L154.81,22.92 L155.30,22.26 L155.87,21.37 L157.14,21.72 L158.70,22.04 L160.29,21.41 L161.32,21.50 L161.74,22.50 L162.63,22.71 L163.91,22.65 L164.10,23.71 L164.09,24.80 L165.14,25.15 L165.55,26.01 L164.75,27.53 L165.02,28.61 L166.07,29.62 L165.70,31.21 L165.21,32.92Z" fill="none" stroke="#1a0810" stroke-width="0.5" stroke-opacity="0.5"/>
<path d="M181.10,25.20 Q181.64,18.80 182.90,14.40" stroke="#c8d870" stroke-width="1.1" fill="none" stroke-linecap="round"/>
<defs><linearGradient id="fg7" x1="0.7" y1="0" x2="0.2" y2="1"><stop offset="0" stop-color="#36222c"/><stop offset="0.45" stop-color="#36222c"/><stop offset="1" stop-color="#42202c"/></linearGradient><clipPath id="fc7"><path d="M190.07,36.25 L189.13,38.56 L188.04,40.11 L188.66,41.81 L188.74,43.29 L187.54,44.12 L187.44,45.25 L188.01,46.77 L187.16,47.40 L186.05,47.69 L185.94,48.88 L185.41,49.73 L184.12,49.46 L183.35,49.74 L182.70,50.67 L181.10,50.44 L179.70,49.75 L178.52,50.12 L177.40,50.19 L177.14,49.08 L176.66,48.46 L175.50,48.45 L175.30,47.48 L175.67,46.09 L174.67,45.44 L173.60,44.59 L174.01,42.99 L173.82,41.59 L172.41,40.36 L172.46,38.60 L173.53,36.25 L173.04,33.95 L172.48,32.11 L173.64,30.82 L174.14,29.61 L173.17,27.98 L173.40,26.89 L174.57,26.39 L174.47,25.24 L174.40,23.98 L175.77,23.83 L176.86,23.59 L177.16,22.46 L178.14,22.13 L179.51,22.69 L181.10,22.34 L183.07,21.77 L184.05,22.51 L184.76,23.20 L186.12,22.94 L186.89,23.41 L186.59,24.73 L187.19,25.32 L188.38,25.71 L188.12,27.08 L187.89,28.45 L189.28,29.30 L189.89,30.61 L188.96,32.36 L189.19,33.98Z"/></clipPath></defs>
<path d="M190.07,36.25 L189.13,38.56 L188.04,40.11 L188.66,41.81 L188.74,43.29 L187.54,44.12 L187.44,45.25 L188.01,46.77 L187.16,47.40 L186.05,47.69 L185.94,48.88 L185.41,49.73 L184.12,49.46 L183.35,49.74 L182.70,50.67 L181.10,50.44 L179.70,49.75 L178.52,50.12 L177.40,50.19 L177.14,49.08 L176.66,48.46 L175.50,48.45 L175.30,47.48 L175.67,46.09 L174.67,45.44 L173.60,44.59 L174.01,42.99 L173.82,41.59 L172.41,40.36 L172.46,38.60 L173.53,36.25 L173.04,33.95 L172.48,32.11 L173.64,30.82 L174.14,29.61 L173.17,27.98 L173.40,26.89 L174.57,26.39 L174.47,25.24 L174.40,23.98 L175.77,23.83 L176.86,23.59 L177.16,22.46 L178.14,22.13 L179.51,22.69 L181.10,22.34 L183.07,21.77 L184.05,22.51 L184.76,23.20 L186.12,22.94 L186.89,23.41 L186.59,24.73 L187.19,25.32 L188.38,25.71 L188.12,27.08 L187.89,28.45 L189.28,29.30 L189.89,30.61 L188.96,32.36 L189.19,33.98Z" fill="url(#fg7)"/>
<g clip-path="url(#fc7)">
<circle cx="173.19" cy="25.13" r="1.91" fill="#705060" fill-opacity="0.2" stroke="#1a0e14" stroke-width="0.45" stroke-opacity="0.45"/>
<circle cx="177.62" cy="24.77" r="1.91" fill="#705060" fill-opacity="0.2" stroke="#1a0e14" stroke-width="0.45" stroke-opacity="0.45"/>
<circle cx="182.24" cy="24.95" r="1.91" fill="#705060" fill-opacity="0.2" stroke="#1a0e14" stroke-width="0.45" stroke-opacity="0.45"/>
<circle cx="187.10" cy="24.91" r="1.91" fill="#705060" fill-opacity="0.2" stroke="#1a0e14" stroke-width="0.45" stroke-opacity="0.45"/>
<circle cx="175.43" cy="26.87" r="1.91" fill="#705060" fill-opacity="0.2" stroke="#1a0e14" stroke-width="0.45" stroke-opacity="0.45"/>
<circle cx="179.66" cy="26.98" r="1.91" fill="#705060" fill-opacity="0.2" stroke="#1a0e14" stroke-width="0.45" stroke-opacity="0.45"/>
<circle cx="184.77" cy="27.01" r="1.91" fill="#705060" fill-opacity="0.2" stroke="#1a0e14" stroke-width="0.45" stroke-opacity="0.45"/>
<circle cx="189.25" cy="26.83" r="1.91" fill="#705060" fill-opacity="0.2" stroke="#1a0e14" stroke-width="0.45" stroke-opacity="0.45"/>
<circle cx="172.65" cy="29.27" r="1.91" fill="#705060" fill-opacity="0.2" stroke="#1a0e14" stroke-width="0.45" stroke-opacity="0.45"/>
<circle cx="177.77" cy="29.52" r="1.91" fill="#705060" fill-opacity="0.2" stroke="#1a0e14" stroke-width="0.45" stroke-opacity="0.45"/>
<circle cx="182.40" cy="29.28" r="1.91" fill="#705060" fill-opacity="0.2" stroke="#1a0e14" stroke-width="0.45" stroke-opacity="0.45"/>
<circle cx="186.90" cy="29.38" r="1.91" fill="#705060" fill-opacity="0.2" stroke="#1a0e14" stroke-width="0.45" stroke-opacity="0.45"/>
<circle cx="175.29" cy="31.46" r="1.91" fill="#705060" fill-opacity="0.2" stroke="#1a0e14" stroke-width="0.45" stroke-opacity="0.45"/>
<circle cx="180.26" cy="31.51" r="1.91" fill="#705060" fill-opacity="0.2" stroke="#1a0e14" stroke-width="0.45" stroke-opacity="0.45"/>
<circle cx="184.95" cy="31.95" r="1.91" fill="#705060" fill-opacity="0.2" stroke="#1a0e14" stroke-width="0.45" stroke-opacity="0.45"/>
<circle cx="188.81" cy="31.66" r="1.91" fill="#705060" fill-opacity="0.2" stroke="#1a0e14" stroke-width="0.45" stroke-opacity="0.45"/>
<circle cx="173.26" cy="34.25" r="1.91" fill="#705060" fill-opacity="0.2" stroke="#1a0e14" stroke-width="0.45" stroke-opacity="0.45"/>
<circle cx="177.59" cy="33.83" r="1.91" fill="#705060" fill-opacity="0.2" stroke="#1a0e14" stroke-width="0.45" stroke-opacity="0.45"/>
<circle cx="182.03" cy="34.24" r="1.91" fill="#705060" fill-opacity="0.2" stroke="#1a0e14" stroke-width="0.45" stroke-opacity="0.45"/>
<circle cx="186.65" cy="34.02" r="1.91" fill="#705060" fill-opacity="0.2" stroke="#1a0e14" stroke-width="0.45" stroke-opacity="0.45"/>
<circle cx="175.03" cy="36.26" r="1.91" fill="#705060" fill-opacity="0.2" stroke="#1a0e14" stroke-width="0.45" stroke-opacity="0.45"/>
<circle cx="180.31" cy="36.03" r="1.91" fill="#705060" fill-opacity="0.2" stroke="#1a0e14" stroke-width="0.45" stroke-opacity="0.45"/>
<circle cx="184.83" cy="36.26" r="1.91" fill="#705060" fill-opacity="0.2" stroke="#1a0e14" stroke-width="0.45" stroke-opacity="0.45"/>
<circle cx="189.51" cy="36.37" r="1.91" fill="#705060" fill-opacity="0.2" stroke="#1a0e14" stroke-width="0.45" stroke-opacity="0.45"/>
<circle cx="172.79" cy="38.77" r="1.91" fill="#705060" fill-opacity="0.2" stroke="#1a0e14" stroke-width="0.45" stroke-opacity="0.45"/>
<circle cx="177.62" cy="38.25" r="1.91" fill="#705060" fill-opacity="0.2" stroke="#1a0e14" stroke-width="0.45" stroke-opacity="0.45"/>
<circle cx="181.86" cy="38.53" r="1.91" fill="#705060" fill-opacity="0.2" stroke="#1a0e14" stroke-width="0.45" stroke-opacity="0.45"/>
<circle cx="186.85" cy="38.41" r="1.91" fill="#705060" fill-opacity="0.2" stroke="#1a0e14" stroke-width="0.45" stroke-opacity="0.45"/>
<circle cx="175.03" cy="40.72" r="1.91" fill="#705060" fill-opacity="0.2" stroke="#1a0e14" stroke-width="0.45" stroke-opacity="0.45"/>
<circle cx="179.80" cy="41.02" r="1.91" fill="#705060" fill-opacity="0.2" stroke="#1a0e14" stroke-width="0.45" stroke-opacity="0.45"/>
<circle cx="184.17" cy="40.96" r="1.91" fill="#705060" fill-opacity="0.2" stroke="#1a0e14" stroke-width="0.45" stroke-opacity="0.45"/>
<circle cx="189.47" cy="40.59" r="1.91" fill="#705060" fill-opacity="0.2" stroke="#1a0e14" stroke-width="0.45" stroke-opacity="0.45"/>
<circle cx="173.34" cy="43.22" r="1.91" fill="#705060" fill-opacity="0.2" stroke="#1a0e14" stroke-width="0.45" stroke-opacity="0.45"/>
<circle cx="177.95" cy="42.97" r="1.91" fill="#705060" fill-opacity="0.2" stroke="#1a0e14" stroke-width="0.45" stroke-opacity="0.45"/>
<circle cx="182.15" cy="43.03" r="1.91" fill="#705060" fill-opacity="0.2" stroke="#1a0e14" stroke-width="0.45" stroke-opacity="0.45"/>
<circle cx="187.28" cy="43.15" r="1.91" fill="#705060" fill-opacity="0.2" stroke="#1a0e14" stroke-width="0.45" stroke-opacity="0.45"/>
<circle cx="175.20" cy="45.33" r="1.91" fill="#705060" fill-opacity="0.2" stroke="#1a0e14" stroke-width="0.45" stroke-opacity="0.45"/>
<circle cx="179.76" cy="45.11" r="1.91" fill="#705060" fill-opacity="0.2" stroke="#1a0e14" stroke-width="0.45" stroke-opacity="0.45"/>
<circle cx="184.25" cy="45.58" r="1.91" fill="#705060" fill-opacity="0.2" stroke="#1a0e14" stroke-width="0.45" stroke-opacity="0.45"/>
<circle cx="189.03" cy="45.64" r="1.91" fill="#705060" fill-opacity="0.2" stroke="#1a0e14" stroke-width="0.45" stroke-opacity="0.45"/>
<circle cx="172.80" cy="47.52" r="1.91" fill="#705060" fill-opacity="0.2" stroke="#1a0e14" stroke-width="0.45" stroke-opacity="0.45"/>
<circle cx="177.64" cy="47.47" r="1.91" fill="#705060" fill-opacity="0.2" stroke="#1a0e14" stroke-width="0.45" stroke-opacity="0.45"/>
<circle cx="182.16" cy="47.93" r="1.91" fill="#705060" fill-opacity="0.2" stroke="#1a0e14" stroke-width="0.45" stroke-opacity="0.45"/>
<circle cx="187.19" cy="47.85" r="1.91" fill="#705060" fill-opacity="0.2" stroke="#1a0e14" stroke-width="0.45" stroke-opacity="0.45"/>
</g>
<path d="M190.07,36.25 L189.13,38.56 L188.04,40.11 L188.66,41.81 L188.74,43.29 L187.54,44.12 L187.44,45.25 L188.01,46.77 L187.16,47.40 L186.05,47.69 L185.94,48.88 L185.41,49.73 L184.12,49.46 L183.35,49.74 L182.70,50.67 L181.10,50.44 L179.70,49.75 L178.52,50.12 L177.40,50.19 L177.14,49.08 L176.66,48.46 L175.50,48.45 L175.30,47.48 L175.67,46.09 L174.67,45.44 L173.60,44.59 L174.01,42.99 L173.82,41.59 L172.41,40.36 L172.46,38.60 L173.53,36.25 L173.04,33.95 L172.48,32.11 L173.64,30.82 L174.14,29.61 L173.17,27.98 L173.40,26.89 L174.57,26.39 L174.47,25.24 L174.40,23.98 L175.77,23.83 L176.86,23.59 L177.16,22.46 L178.14,22.13 L179.51,22.69 L181.10,22.34 L183.07,21.77 L184.05,22.51 L184.76,23.20 L186.12,22.94 L186.89,23.41 L186.59,24.73 L187.19,25.32 L188.38,25.71 L188.12,27.08 L187.89,28.45 L189.28,29.30 L189.89,30.61 L188.96,32.36 L189.19,33.98Z" fill="none" stroke="#1a0e14" stroke-width="0.5" stroke-opacity="0.5"/>
<path d="M205.30,24.50 Q205.66,18.45 206.50,14.40" stroke="#c8d878" stroke-width="1.1" fill="none" stroke-linecap="round"/>
<defs><linearGradient id="fg8" x1="0.7" y1="0" x2="0.2" y2="1"><stop offset="0" stop-color="#2c2a2e"/><stop offset="0.45" stop-color="#2c2a2e"/><stop offset="1" stop-color="#2e282c"/></linearGradient><clipPath id="fc8"><path d="M213.58,35.50 L213.56,37.76 L214.31,39.62 L213.27,40.99 L212.07,42.08 L212.58,43.62 L212.62,44.93 L211.39,45.42 L211.10,46.31 L211.41,47.69 L210.46,48.08 L209.25,48.07 L208.84,49.04 L208.09,49.70 L206.77,49.16 L205.30,49.17 L203.61,49.86 L202.64,49.41 L202.10,48.48 L200.93,48.56 L199.82,48.40 L199.89,47.12 L199.62,46.25 L198.39,45.94 L198.29,44.79 L198.86,43.27 L197.83,42.31 L196.67,41.16 L197.24,39.43 L197.24,37.73 L195.90,35.50 L196.10,33.16 L197.43,31.65 L197.11,30.05 L196.60,28.45 L197.84,27.54 L198.47,26.63 L197.67,25.12 L198.03,24.23 L199.36,24.06 L199.60,23.12 L199.85,22.02 L201.31,22.14 L202.55,22.19 L203.38,21.28 L205.30,21.17 L206.98,21.98 L208.23,21.90 L209.74,21.58 L210.29,22.52 L210.64,23.44 L212.00,23.48 L212.63,24.17 L211.94,25.63 L212.42,26.48 L213.68,27.18 L213.30,28.68 L212.89,30.22 L214.24,31.46 L214.76,33.14Z"/></clipPath></defs>
<path d="M213.58,35.50 L213.56,37.76 L214.31,39.62 L213.27,40.99 L212.07,42.08 L212.58,43.62 L212.62,44.93 L211.39,45.42 L211.10,46.31 L211.41,47.69 L210.46,48.08 L209.25,48.07 L208.84,49.04 L208.09,49.70 L206.77,49.16 L205.30,49.17 L203.61,49.86 L202.64,49.41 L202.10,48.48 L200.93,48.56 L199.82,48.40 L199.89,47.12 L199.62,46.25 L198.39,45.94 L198.29,44.79 L198.86,43.27 L197.83,42.31 L196.67,41.16 L197.24,39.43 L197.24,37.73 L195.90,35.50 L196.10,33.16 L197.43,31.65 L197.11,30.05 L196.60,28.45 L197.84,27.54 L198.47,26.63 L197.67,25.12 L198.03,24.23 L199.36,24.06 L199.60,23.12 L199.85,22.02 L201.31,22.14 L202.55,22.19 L203.38,21.28 L205.30,21.17 L206.98,21.98 L208.23,21.90 L209.74,21.58 L210.29,22.52 L210.64,23.44 L212.00,23.48 L212.63,24.17 L211.94,25.63 L212.42,26.48 L213.68,27.18 L213.30,28.68 L212.89,30.22 L214.24,31.46 L214.76,33.14Z" fill="url(#fg8)"/>
<g clip-path="url(#fc8)">
<circle cx="197.13" cy="24.40" r="2.00" fill="#6a6870" fill-opacity="0.2" stroke="#121212" stroke-width="0.45" stroke-opacity="0.45"/>
<circle cx="201.70" cy="24.27" r="2.00" fill="#6a6870" fill-opacity="0.2" stroke="#121212" stroke-width="0.45" stroke-opacity="0.45"/>
<circle cx="206.15" cy="24.28" r="2.00" fill="#6a6870" fill-opacity="0.2" stroke="#121212" stroke-width="0.45" stroke-opacity="0.45"/>
<circle cx="211.33" cy="24.29" r="2.00" fill="#6a6870" fill-opacity="0.2" stroke="#121212" stroke-width="0.45" stroke-opacity="0.45"/>
<circle cx="199.34" cy="26.28" r="2.00" fill="#6a6870" fill-opacity="0.2" stroke="#121212" stroke-width="0.45" stroke-opacity="0.45"/>
<circle cx="203.72" cy="26.67" r="2.00" fill="#6a6870" fill-opacity="0.2" stroke="#121212" stroke-width="0.45" stroke-opacity="0.45"/>
<circle cx="208.64" cy="26.39" r="2.00" fill="#6a6870" fill-opacity="0.2" stroke="#121212" stroke-width="0.45" stroke-opacity="0.45"/>
<circle cx="213.67" cy="26.29" r="2.00" fill="#6a6870" fill-opacity="0.2" stroke="#121212" stroke-width="0.45" stroke-opacity="0.45"/>
<circle cx="196.99" cy="28.97" r="2.00" fill="#6a6870" fill-opacity="0.2" stroke="#121212" stroke-width="0.45" stroke-opacity="0.45"/>
<circle cx="201.47" cy="28.78" r="2.00" fill="#6a6870" fill-opacity="0.2" stroke="#121212" stroke-width="0.45" stroke-opacity="0.45"/>
<circle cx="206.35" cy="28.72" r="2.00" fill="#6a6870" fill-opacity="0.2" stroke="#121212" stroke-width="0.45" stroke-opacity="0.45"/>
<circle cx="211.29" cy="28.48" r="2.00" fill="#6a6870" fill-opacity="0.2" stroke="#121212" stroke-width="0.45" stroke-opacity="0.45"/>
<circle cx="198.96" cy="30.78" r="2.00" fill="#6a6870" fill-opacity="0.2" stroke="#121212" stroke-width="0.45" stroke-opacity="0.45"/>
<circle cx="204.41" cy="30.95" r="2.00" fill="#6a6870" fill-opacity="0.2" stroke="#121212" stroke-width="0.45" stroke-opacity="0.45"/>
<circle cx="208.72" cy="31.20" r="2.00" fill="#6a6870" fill-opacity="0.2" stroke="#121212" stroke-width="0.45" stroke-opacity="0.45"/>
<circle cx="214.20" cy="30.92" r="2.00" fill="#6a6870" fill-opacity="0.2" stroke="#121212" stroke-width="0.45" stroke-opacity="0.45"/>
<circle cx="196.51" cy="33.04" r="2.00" fill="#6a6870" fill-opacity="0.2" stroke="#121212" stroke-width="0.45" stroke-opacity="0.45"/>
<circle cx="201.33" cy="33.13" r="2.00" fill="#6a6870" fill-opacity="0.2" stroke="#121212" stroke-width="0.45" stroke-opacity="0.45"/>
<circle cx="206.19" cy="33.07" r="2.00" fill="#6a6870" fill-opacity="0.2" stroke="#121212" stroke-width="0.45" stroke-opacity="0.45"/>
<circle cx="211.18" cy="33.27" r="2.00" fill="#6a6870" fill-opacity="0.2" stroke="#121212" stroke-width="0.45" stroke-opacity="0.45"/>
<circle cx="199.54" cy="35.65" r="2.00" fill="#6a6870" fill-opacity="0.2" stroke="#121212" stroke-width="0.45" stroke-opacity="0.45"/>
<circle cx="204.02" cy="35.45" r="2.00" fill="#6a6870" fill-opacity="0.2" stroke="#121212" stroke-width="0.45" stroke-opacity="0.45"/>
<circle cx="208.96" cy="35.43" r="2.00" fill="#6a6870" fill-opacity="0.2" stroke="#121212" stroke-width="0.45" stroke-opacity="0.45"/>
<circle cx="213.67" cy="35.24" r="2.00" fill="#6a6870" fill-opacity="0.2" stroke="#121212" stroke-width="0.45" stroke-opacity="0.45"/>
<circle cx="196.62" cy="38.05" r="2.00" fill="#6a6870" fill-opacity="0.2" stroke="#121212" stroke-width="0.45" stroke-opacity="0.45"/>
<circle cx="201.36" cy="37.77" r="2.00" fill="#6a6870" fill-opacity="0.2" stroke="#121212" stroke-width="0.45" stroke-opacity="0.45"/>
<circle cx="206.62" cy="37.99" r="2.00" fill="#6a6870" fill-opacity="0.2" stroke="#121212" stroke-width="0.45" stroke-opacity="0.45"/>
<circle cx="211.14" cy="37.64" r="2.00" fill="#6a6870" fill-opacity="0.2" stroke="#121212" stroke-width="0.45" stroke-opacity="0.45"/>
<circle cx="199.03" cy="39.99" r="2.00" fill="#6a6870" fill-opacity="0.2" stroke="#121212" stroke-width="0.45" stroke-opacity="0.45"/>
<circle cx="204.04" cy="40.32" r="2.00" fill="#6a6870" fill-opacity="0.2" stroke="#121212" stroke-width="0.45" stroke-opacity="0.45"/>
<circle cx="209.22" cy="40.27" r="2.00" fill="#6a6870" fill-opacity="0.2" stroke="#121212" stroke-width="0.45" stroke-opacity="0.45"/>
<circle cx="213.42" cy="39.76" r="2.00" fill="#6a6870" fill-opacity="0.2" stroke="#121212" stroke-width="0.45" stroke-opacity="0.45"/>
<circle cx="196.97" cy="42.56" r="2.00" fill="#6a6870" fill-opacity="0.2" stroke="#121212" stroke-width="0.45" stroke-opacity="0.45"/>
<circle cx="201.64" cy="42.37" r="2.00" fill="#6a6870" fill-opacity="0.2" stroke="#121212" stroke-width="0.45" stroke-opacity="0.45"/>
<circle cx="206.11" cy="42.25" r="2.00" fill="#6a6870" fill-opacity="0.2" stroke="#121212" stroke-width="0.45" stroke-opacity="0.45"/>
<circle cx="211.71" cy="42.51" r="2.00" fill="#6a6870" fill-opacity="0.2" stroke="#121212" stroke-width="0.45" stroke-opacity="0.45"/>
<circle cx="199.51" cy="44.87" r="2.00" fill="#6a6870" fill-opacity="0.2" stroke="#121212" stroke-width="0.45" stroke-opacity="0.45"/>
<circle cx="203.88" cy="44.36" r="2.00" fill="#6a6870" fill-opacity="0.2" stroke="#121212" stroke-width="0.45" stroke-opacity="0.45"/>
<circle cx="208.67" cy="44.60" r="2.00" fill="#6a6870" fill-opacity="0.2" stroke="#121212" stroke-width="0.45" stroke-opacity="0.45"/>
<circle cx="213.95" cy="44.86" r="2.00" fill="#6a6870" fill-opacity="0.2" stroke="#121212" stroke-width="0.45" stroke-opacity="0.45"/>
<circle cx="196.98" cy="46.95" r="2.00" fill="#6a6870" fill-opacity="0.2" stroke="#121212" stroke-width="0.45" stroke-opacity="0.45"/>
<circle cx="201.87" cy="46.84" r="2.00" fill="#6a6870" fill-opacity="0.2" stroke="#121212" stroke-width="0.45" stroke-opacity="0.45"/>
<circle cx="206.56" cy="46.59" r="2.00" fill="#6a6870" fill-opacity="0.2" stroke="#121212" stroke-width="0.45" stroke-opacity="0.45"/>
<circle cx="211.60" cy="46.70" r="2.00" fill="#6a6870" fill-opacity="0.2" stroke="#121212" stroke-width="0.45" stroke-opacity="0.45"/>
</g>
<path d="M213.58,35.50 L213.56,37.76 L214.31,39.62 L213.27,40.99 L212.07,42.08 L212.58,43.62 L212.62,44.93 L211.39,45.42 L211.10,46.31 L211.41,47.69 L210.46,48.08 L209.25,48.07 L208.84,49.04 L208.09,49.70 L206.77,49.16 L205.30,49.17 L203.61,49.86 L202.64,49.41 L202.10,48.48 L200.93,48.56 L199.82,48.40 L199.89,47.12 L199.62,46.25 L198.39,45.94 L198.29,44.79 L198.86,43.27 L197.83,42.31 L196.67,41.16 L197.24,39.43 L197.24,37.73 L195.90,35.50 L196.10,33.16 L197.43,31.65 L197.11,30.05 L196.60,28.45 L197.84,27.54 L198.47,26.63 L197.67,25.12 L198.03,24.23 L199.36,24.06 L199.60,23.12 L199.85,22.02 L201.31,22.14 L202.55,22.19 L203.38,21.28 L205.30,21.17 L206.98,21.98 L208.23,21.90 L209.74,21.58 L210.29,22.52 L210.64,23.44 L212.00,23.48 L212.63,24.17 L211.94,25.63 L212.42,26.48 L213.68,27.18 L213.30,28.68 L212.89,30.22 L214.24,31.46 L214.76,33.14Z" fill="none" stroke="#121212" stroke-width="0.5" stroke-opacity="0.5"/>
<path d="M228.90,22.80 Q228.72,17.50 228.30,14.20" stroke="#d8e0c8" stroke-width="1.1" fill="none" stroke-linecap="round"/>
<defs><linearGradient id="fg9" x1="0.7" y1="0" x2="0.2" y2="1"><stop offset="0" stop-color="#252427"/><stop offset="0.45" stop-color="#252427"/><stop offset="1" stop-color="#252427"/></linearGradient><clipPath id="fc9"><path d="M236.74,35.05 L237.89,37.64 L237.27,39.40 L236.43,40.80 L237.15,42.56 L237.10,44.07 L235.56,44.78 L235.03,45.89 L235.25,47.46 L234.26,48.01 L233.17,48.17 L233.12,49.35 L232.67,50.16 L231.45,49.72 L230.48,49.88 L228.90,50.77 L227.22,50.39 L226.55,49.51 L225.52,49.76 L224.51,49.71 L224.42,48.40 L223.86,47.59 L222.36,47.42 L221.93,46.26 L222.25,44.68 L221.26,43.81 L220.39,42.73 L221.28,40.92 L221.51,39.27 L220.27,37.62 L220.32,35.05 L221.22,32.63 L220.38,30.72 L219.48,28.88 L220.57,27.71 L221.25,26.55 L220.64,24.84 L221.32,23.77 L222.87,23.41 L223.02,22.26 L222.99,20.98 L224.21,20.98 L225.17,20.86 L225.59,19.75 L226.82,19.52 L228.90,20.27 L230.77,20.02 L232.20,19.54 L232.75,20.46 L233.15,21.33 L234.56,21.21 L235.46,21.85 L235.26,23.37 L236.14,24.14 L237.56,24.74 L237.15,26.30 L236.54,27.88 L237.55,29.00 L237.76,30.59 L236.52,32.61Z"/></clipPath></defs>
<path d="M236.74,35.05 L237.89,37.64 L237.27,39.40 L236.43,40.80 L237.15,42.56 L237.10,44.07 L235.56,44.78 L235.03,45.89 L235.25,47.46 L234.26,48.01 L233.17,48.17 L233.12,49.35 L232.67,50.16 L231.45,49.72 L230.48,49.88 L228.90,50.77 L227.22,50.39 L226.55,49.51 L225.52,49.76 L224.51,49.71 L224.42,48.40 L223.86,47.59 L222.36,47.42 L221.93,46.26 L222.25,44.68 L221.26,43.81 L220.39,42.73 L221.28,40.92 L221.51,39.27 L220.27,37.62 L220.32,35.05 L221.22,32.63 L220.38,30.72 L219.48,28.88 L220.57,27.71 L221.25,26.55 L220.64,24.84 L221.32,23.77 L222.87,23.41 L223.02,22.26 L222.99,20.98 L224.21,20.98 L225.17,20.86 L225.59,19.75 L226.82,19.52 L228.90,20.27 L230.77,20.02 L232.20,19.54 L232.75,20.46 L233.15,21.33 L234.56,21.21 L235.46,21.85 L235.26,23.37 L236.14,24.14 L237.56,24.74 L237.15,26.30 L236.54,27.88 L237.55,29.00 L237.76,30.59 L236.52,32.61Z" fill="url(#fg9)"/>
<g clip-path="url(#fc9)">
<circle cx="220.52" cy="22.33" r="2.00" fill="#606068" fill-opacity="0.2" stroke="#0e0e0e" stroke-width="0.45" stroke-opacity="0.45"/>
<circle cx="224.96" cy="22.30" r="2.00" fill="#606068" fill-opacity="0.2" stroke="#0e0e0e" stroke-width="0.45" stroke-opacity="0.45"/>
<circle cx="230.22" cy="22.56" r="2.00" fill="#606068" fill-opacity="0.2" stroke="#0e0e0e" stroke-width="0.45" stroke-opacity="0.45"/>
<circle cx="234.66" cy="22.19" r="2.00" fill="#606068" fill-opacity="0.2" stroke="#0e0e0e" stroke-width="0.45" stroke-opacity="0.45"/>
<circle cx="222.85" cy="24.79" r="2.00" fill="#606068" fill-opacity="0.2" stroke="#0e0e0e" stroke-width="0.45" stroke-opacity="0.45"/>
<circle cx="227.60" cy="24.57" r="2.00" fill="#606068" fill-opacity="0.2" stroke="#0e0e0e" stroke-width="0.45" stroke-opacity="0.45"/>
<circle cx="232.62" cy="24.44" r="2.00" fill="#606068" fill-opacity="0.2" stroke="#0e0e0e" stroke-width="0.45" stroke-opacity="0.45"/>
<circle cx="237.24" cy="24.71" r="2.00" fill="#606068" fill-opacity="0.2" stroke="#0e0e0e" stroke-width="0.45" stroke-opacity="0.45"/>
<circle cx="220.77" cy="27.12" r="2.00" fill="#606068" fill-opacity="0.2" stroke="#0e0e0e" stroke-width="0.45" stroke-opacity="0.45"/>
<circle cx="225.56" cy="27.01" r="2.00" fill="#606068" fill-opacity="0.2" stroke="#0e0e0e" stroke-width="0.45" stroke-opacity="0.45"/>
<circle cx="229.90" cy="26.88" r="2.00" fill="#606068" fill-opacity="0.2" stroke="#0e0e0e" stroke-width="0.45" stroke-opacity="0.45"/>
<circle cx="235.34" cy="27.15" r="2.00" fill="#606068" fill-opacity="0.2" stroke="#0e0e0e" stroke-width="0.45" stroke-opacity="0.45"/>
<circle cx="222.67" cy="29.03" r="2.00" fill="#606068" fill-opacity="0.2" stroke="#0e0e0e" stroke-width="0.45" stroke-opacity="0.45"/>
<circle cx="227.68" cy="29.43" r="2.00" fill="#606068" fill-opacity="0.2" stroke="#0e0e0e" stroke-width="0.45" stroke-opacity="0.45"/>
<circle cx="232.48" cy="29.18" r="2.00" fill="#606068" fill-opacity="0.2" stroke="#0e0e0e" stroke-width="0.45" stroke-opacity="0.45"/>
<circle cx="237.53" cy="29.58" r="2.00" fill="#606068" fill-opacity="0.2" stroke="#0e0e0e" stroke-width="0.45" stroke-opacity="0.45"/>
<circle cx="220.18" cy="31.33" r="2.00" fill="#606068" fill-opacity="0.2" stroke="#0e0e0e" stroke-width="0.45" stroke-opacity="0.45"/>
<circle cx="225.13" cy="31.56" r="2.00" fill="#606068" fill-opacity="0.2" stroke="#0e0e0e" stroke-width="0.45" stroke-opacity="0.45"/>
<circle cx="230.26" cy="31.43" r="2.00" fill="#606068" fill-opacity="0.2" stroke="#0e0e0e" stroke-width="0.45" stroke-opacity="0.45"/>
<circle cx="235.21" cy="31.76" r="2.00" fill="#606068" fill-opacity="0.2" stroke="#0e0e0e" stroke-width="0.45" stroke-opacity="0.45"/>
<circle cx="222.83" cy="33.73" r="2.00" fill="#606068" fill-opacity="0.2" stroke="#0e0e0e" stroke-width="0.45" stroke-opacity="0.45"/>
<circle cx="228.06" cy="33.79" r="2.00" fill="#606068" fill-opacity="0.2" stroke="#0e0e0e" stroke-width="0.45" stroke-opacity="0.45"/>
<circle cx="232.80" cy="33.74" r="2.00" fill="#606068" fill-opacity="0.2" stroke="#0e0e0e" stroke-width="0.45" stroke-opacity="0.45"/>
<circle cx="237.18" cy="34.06" r="2.00" fill="#606068" fill-opacity="0.2" stroke="#0e0e0e" stroke-width="0.45" stroke-opacity="0.45"/>
<circle cx="220.24" cy="36.47" r="2.00" fill="#606068" fill-opacity="0.2" stroke="#0e0e0e" stroke-width="0.45" stroke-opacity="0.45"/>
<circle cx="225.25" cy="36.01" r="2.00" fill="#606068" fill-opacity="0.2" stroke="#0e0e0e" stroke-width="0.45" stroke-opacity="0.45"/>
<circle cx="229.89" cy="36.15" r="2.00" fill="#606068" fill-opacity="0.2" stroke="#0e0e0e" stroke-width="0.45" stroke-opacity="0.45"/>
<circle cx="235.10" cy="36.47" r="2.00" fill="#606068" fill-opacity="0.2" stroke="#0e0e0e" stroke-width="0.45" stroke-opacity="0.45"/>
<circle cx="222.55" cy="38.42" r="2.00" fill="#606068" fill-opacity="0.2" stroke="#0e0e0e" stroke-width="0.45" stroke-opacity="0.45"/>
<circle cx="227.46" cy="38.77" r="2.00" fill="#606068" fill-opacity="0.2" stroke="#0e0e0e" stroke-width="0.45" stroke-opacity="0.45"/>
<circle cx="232.26" cy="38.22" r="2.00" fill="#606068" fill-opacity="0.2" stroke="#0e0e0e" stroke-width="0.45" stroke-opacity="0.45"/>
<circle cx="237.05" cy="38.42" r="2.00" fill="#606068" fill-opacity="0.2" stroke="#0e0e0e" stroke-width="0.45" stroke-opacity="0.45"/>
<circle cx="220.72" cy="41.01" r="2.00" fill="#606068" fill-opacity="0.2" stroke="#0e0e0e" stroke-width="0.45" stroke-opacity="0.45"/>
<circle cx="225.44" cy="41.08" r="2.00" fill="#606068" fill-opacity="0.2" stroke="#0e0e0e" stroke-width="0.45" stroke-opacity="0.45"/>
<circle cx="230.46" cy="40.68" r="2.00" fill="#606068" fill-opacity="0.2" stroke="#0e0e0e" stroke-width="0.45" stroke-opacity="0.45"/>
<circle cx="234.72" cy="41.04" r="2.00" fill="#606068" fill-opacity="0.2" stroke="#0e0e0e" stroke-width="0.45" stroke-opacity="0.45"/>
<circle cx="223.03" cy="42.79" r="2.00" fill="#606068" fill-opacity="0.2" stroke="#0e0e0e" stroke-width="0.45" stroke-opacity="0.45"/>
<circle cx="227.82" cy="43.00" r="2.00" fill="#606068" fill-opacity="0.2" stroke="#0e0e0e" stroke-width="0.45" stroke-opacity="0.45"/>
<circle cx="232.44" cy="42.97" r="2.00" fill="#606068" fill-opacity="0.2" stroke="#0e0e0e" stroke-width="0.45" stroke-opacity="0.45"/>
<circle cx="237.14" cy="42.77" r="2.00" fill="#606068" fill-opacity="0.2" stroke="#0e0e0e" stroke-width="0.45" stroke-opacity="0.45"/>
<circle cx="220.22" cy="45.27" r="2.00" fill="#606068" fill-opacity="0.2" stroke="#0e0e0e" stroke-width="0.45" stroke-opacity="0.45"/>
<circle cx="225.62" cy="45.14" r="2.00" fill="#606068" fill-opacity="0.2" stroke="#0e0e0e" stroke-width="0.45" stroke-opacity="0.45"/>
<circle cx="230.49" cy="45.19" r="2.00" fill="#606068" fill-opacity="0.2" stroke="#0e0e0e" stroke-width="0.45" stroke-opacity="0.45"/>
<circle cx="234.86" cy="45.56" r="2.00" fill="#606068" fill-opacity="0.2" stroke="#0e0e0e" stroke-width="0.45" stroke-opacity="0.45"/>
<circle cx="223.09" cy="47.61" r="2.00" fill="#606068" fill-opacity="0.2" stroke="#0e0e0e" stroke-width="0.45" stroke-opacity="0.45"/>
<circle cx="227.33" cy="47.64" r="2.00" fill="#606068" fill-opacity="0.2" stroke="#0e0e0e" stroke-width="0.45" stroke-opacity="0.45"/>
<circle cx="232.44" cy="47.91" r="2.00" fill="#606068" fill-opacity="0.2" stroke="#0e0e0e" stroke-width="0.45" stroke-opacity="0.45"/>
<circle cx="237.15" cy="47.57" r="2.00" fill="#606068" fill-opacity="0.2" stroke="#0e0e0e" stroke-width="0.45" stroke-opacity="0.45"/>
</g>
<path d="M236.74,35.05 L237.89,37.64 L237.27,39.40 L236.43,40.80 L237.15,42.56 L237.10,44.07 L235.56,44.78 L235.03,45.89 L235.25,47.46 L234.26,48.01 L233.17,48.17 L233.12,49.35 L232.67,50.16 L231.45,49.72 L230.48,49.88 L228.90,50.77 L227.22,50.39 L226.55,49.51 L225.52,49.76 L224.51,49.71 L224.42,48.40 L223.86,47.59 L222.36,47.42 L221.93,46.26 L222.25,44.68 L221.26,43.81 L220.39,42.73 L221.28,40.92 L221.51,39.27 L220.27,37.62 L220.32,35.05 L221.22,32.63 L220.38,30.72 L219.48,28.88 L220.57,27.71 L221.25,26.55 L220.64,24.84 L221.32,23.77 L222.87,23.41 L223.02,22.26 L222.99,20.98 L224.21,20.98 L225.17,20.86 L225.59,19.75 L226.82,19.52 L228.90,20.27 L230.77,20.02 L232.20,19.54 L232.75,20.46 L233.15,21.33 L234.56,21.21 L235.46,21.85 L235.26,23.37 L236.14,24.14 L237.56,24.74 L237.15,26.30 L236.54,27.88 L237.55,29.00 L237.76,30.59 L236.52,32.61Z" fill="none" stroke="#0e0e0e" stroke-width="0.5" stroke-opacity="0.5"/>
</g>
<text x="56.0" y="50.9" font-family="'Liberation Serif', serif" font-size="5.3" text-anchor="middle" fill="#111" font-weight="bold" letter-spacing="-0.15">1 cm</text>
<line x1="51.30" y1="52.20" x2="60.70" y2="52.20" stroke="#222" stroke-width="0.8"/>
<rect x="329.1" y="7.4" width="184.2" height="88.8" fill="#fff" stroke="#626262" stroke-width="1.2"/>
<g filter="url(#blur04)">
<path d="M341.60,15.50 C341.60,15.92 341.60,17.58 341.60,18.00" stroke="#9fb051" stroke-width="1.0" fill="none" stroke-linecap="round"/>
<circle cx="341.6" cy="18.0" r="1.1" fill="#92a63a"/><circle cx="341.6" cy="18.7" r="0.6" fill="#91a539"/><circle cx="341.6" cy="19.5" r="0.8" fill="#91a539"/><circle cx="341.6" cy="20.2" r="1.1" fill="#91a539"/><circle cx="341.7" cy="21.0" r="1.1" fill="#91a539"/><circle cx="341.7" cy="21.7" r="0.6" fill="#91a539"/><circle cx="341.7" cy="22.5" r="0.7" fill="#91a539"/><circle cx="341.7" cy="23.2" r="0.7" fill="#91a539"/><circle cx="341.7" cy="24.0" r="1.3" fill="#91a539"/><circle cx="341.7" cy="24.7" r="0.9" fill="#91a539"/><circle cx="341.8" cy="25.5" r="1.3" fill="#91a539"/><circle cx="341.8" cy="26.2" r="1.4" fill="#91a539"/><circle cx="341.8" cy="27.0" r="1.0" fill="#91a539"/><circle cx="341.8" cy="27.7" r="1.0" fill="#91a539"/><circle cx="341.7" cy="28.5" r="1.5" fill="#91a539"/><circle cx="341.7" cy="29.2" r="1.3" fill="#91a539"/><circle cx="341.7" cy="30.0" r="1.1" fill="#91a539"/><circle cx="341.7" cy="30.7" r="1.4" fill="#91a539"/><circle cx="341.7" cy="31.5" r="1.2" fill="#91a539"/><circle cx="341.7" cy="32.2" r="1.1" fill="#91a539"/><circle cx="341.6" cy="33.0" r="1.0" fill="#91a539"/><circle cx="341.6" cy="33.7" r="1.5" fill="#91a539"/><circle cx="341.6" cy="34.5" r="1.7" fill="#91a539"/><circle cx="341.5" cy="35.2" r="1.5" fill="#90a539"/><circle cx="341.5" cy="36.0" r="1.7" fill="#90a539"/><circle cx="341.5" cy="36.7" r="1.1" fill="#90a539"/><circle cx="341.4" cy="37.5" r="1.3" fill="#90a539"/><circle cx="341.4" cy="38.2" r="1.5" fill="#90a438"/><circle cx="341.3" cy="39.0" r="1.8" fill="#90a438"/><circle cx="341.3" cy="39.7" r="1.8" fill="#90a438"/><circle cx="341.3" cy="40.5" r="1.4" fill="#90a438"/><circle cx="341.2" cy="41.2" r="1.3" fill="#90a438"/><circle cx="341.2" cy="42.0" r="1.5" fill="#90a438"/><circle cx="341.1" cy="42.7" r="1.5" fill="#90a438"/><circle cx="341.1" cy="43.5" r="1.8" fill="#90a438"/><circle cx="341.0" cy="44.2" r="1.3" fill="#90a438"/><circle cx="341.0" cy="45.0" r="1.7" fill="#8fa438"/><circle cx="341.0" cy="45.7" r="1.7" fill="#8fa438"/><circle cx="340.9" cy="46.5" r="1.7" fill="#8fa438"/><circle cx="340.9" cy="47.2" r="1.7" fill="#8fa438"/><circle cx="340.8" cy="48.0" r="1.6" fill="#8fa438"/><circle cx="340.8" cy="48.7" r="1.4" fill="#8fa438"/><circle cx="340.7" cy="49.5" r="1.4" fill="#8fa438"/><circle cx="340.7" cy="50.2" r="1.4" fill="#8fa337"/><circle cx="340.7" cy="51.0" r="1.7" fill="#8fa337"/><circle cx="340.6" cy="51.7" r="1.2" fill="#8fa337"/><circle cx="340.6" cy="52.5" r="1.3" fill="#8fa337"/><circle cx="340.5" cy="53.2" r="1.7" fill="#8ea337"/><circle cx="340.5" cy="54.0" r="1.3" fill="#8ea337"/><circle cx="340.4" cy="54.7" r="1.2" fill="#8ea337"/><circle cx="340.4" cy="55.5" r="1.2" fill="#8ea337"/><circle cx="340.3" cy="56.2" r="1.5" fill="#8ea337"/><circle cx="340.3" cy="57.0" r="1.4" fill="#8ea337"/><circle cx="340.2" cy="57.7" r="1.8" fill="#8ea337"/><circle cx="340.2" cy="58.5" r="1.8" fill="#8ea337"/><circle cx="340.1" cy="59.2" r="1.8" fill="#8ea337"/><circle cx="340.1" cy="60.0" r="1.3" fill="#8ea337"/><circle cx="340.0" cy="60.7" r="1.2" fill="#8da236"/><circle cx="340.0" cy="61.4" r="1.2" fill="#8da236"/><circle cx="339.9" cy="62.2" r="1.5" fill="#8da236"/><circle cx="339.9" cy="62.9" r="1.6" fill="#8da236"/><circle cx="339.8" cy="63.7" r="1.5" fill="#8da236"/><circle cx="339.8" cy="64.4" r="1.3" fill="#8da236"/><circle cx="339.7" cy="65.2" r="1.4" fill="#8da236"/><circle cx="339.7" cy="65.9" r="1.6" fill="#8da236"/><circle cx="339.7" cy="66.7" r="1.6" fill="#8da236"/><circle cx="339.6" cy="67.4" r="1.7" fill="#8ca236"/><circle cx="339.6" cy="68.2" r="1.7" fill="#8ca236"/><circle cx="339.6" cy="68.9" r="1.6" fill="#8ca135"/><circle cx="339.6" cy="69.7" r="1.2" fill="#8ca135"/><circle cx="339.6" cy="70.4" r="1.7" fill="#8ca135"/><circle cx="339.6" cy="71.2" r="1.4" fill="#8ca135"/><circle cx="339.6" cy="71.9" r="1.5" fill="#8ca135"/><circle cx="339.7" cy="72.7" r="1.4" fill="#8ca135"/><circle cx="339.7" cy="73.4" r="1.7" fill="#8ba135"/><circle cx="339.8" cy="74.2" r="1.3" fill="#8ba135"/><circle cx="339.8" cy="74.9" r="1.3" fill="#8ba135"/><circle cx="339.9" cy="75.7" r="1.3" fill="#8ba135"/><circle cx="340.0" cy="76.4" r="1.2" fill="#8ba135"/><circle cx="340.1" cy="77.2" r="1.7" fill="#8ba034"/><circle cx="340.2" cy="77.9" r="1.4" fill="#8ba034"/><circle cx="340.3" cy="78.7" r="1.2" fill="#8ba034"/><circle cx="340.4" cy="79.4" r="1.2" fill="#8aa034"/><circle cx="340.5" cy="80.1" r="1.6" fill="#8aa034"/><circle cx="340.6" cy="80.9" r="1.3" fill="#8aa034"/><circle cx="340.8" cy="81.6" r="1.0" fill="#8aa034"/><circle cx="340.9" cy="82.3" r="1.4" fill="#8aa034"/><circle cx="341.1" cy="83.1" r="1.3" fill="#8aa034"/><circle cx="341.2" cy="83.8" r="1.5" fill="#8aa034"/><circle cx="341.4" cy="84.6" r="0.8" fill="#8aa034"/>
<circle cx="341.6" cy="18.3" r=".55" fill="#5e6b25" opacity=".6"/><circle cx="342.0" cy="18.4" r=".45" fill="#b2c075" opacity=".5"/><circle cx="341.1" cy="19.3" r=".55" fill="#5e6b25" opacity=".6"/><circle cx="341.2" cy="19.2" r=".45" fill="#b2c074" opacity=".5"/><circle cx="342.3" cy="21.1" r=".55" fill="#5e6b25" opacity=".6"/><circle cx="342.2" cy="20.9" r=".45" fill="#b2c074" opacity=".5"/><circle cx="342.2" cy="22.4" r=".55" fill="#5e6b25" opacity=".6"/><circle cx="341.4" cy="22.8" r=".45" fill="#b2c074" opacity=".5"/><circle cx="342.4" cy="23.6" r=".55" fill="#5e6b25" opacity=".6"/><circle cx="341.9" cy="24.1" r=".45" fill="#b2c074" opacity=".5"/><circle cx="341.3" cy="25.4" r=".55" fill="#5e6b25" opacity=".6"/><circle cx="341.2" cy="25.2" r=".45" fill="#b2c074" opacity=".5"/><circle cx="341.4" cy="27.1" r=".55" fill="#5e6b25" opacity=".6"/><circle cx="342.0" cy="26.7" r=".45" fill="#b2c074" opacity=".5"/><circle cx="340.9" cy="28.3" r=".55" fill="#5e6b25" opacity=".6"/><circle cx="342.0" cy="28.2" r=".45" fill="#b2c074" opacity=".5"/><circle cx="341.4" cy="29.7" r=".55" fill="#5e6b25" opacity=".6"/><circle cx="342.2" cy="30.0" r=".45" fill="#b2c074" opacity=".5"/><circle cx="340.9" cy="31.1" r=".55" fill="#5e6b25" opacity=".6"/><circle cx="341.5" cy="31.5" r=".45" fill="#b2c074" opacity=".5"/><circle cx="341.9" cy="32.6" r=".55" fill="#5e6b25" opacity=".6"/><circle cx="341.0" cy="33.2" r=".45" fill="#b2c074" opacity=".5"/><circle cx="341.4" cy="34.3" r=".55" fill="#5e6b25" opacity=".6"/><circle cx="341.2" cy="34.9" r=".45" fill="#b2c074" opacity=".5"/><circle cx="341.1" cy="36.1" r=".55" fill="#5d6b25" opacity=".6"/><circle cx="341.2" cy="35.9" r=".45" fill="#b1c074" opacity=".5"/><circle cx="342.2" cy="38.0" r=".55" fill="#5d6b25" opacity=".6"/><circle cx="341.1" cy="37.2" r=".45" fill="#b1c074" opacity=".5"/><circle cx="341.8" cy="38.7" r=".55" fill="#5d6a24" opacity=".6"/><circle cx="340.3" cy="39.4" r=".45" fill="#b1bf73" opacity=".5"/><circle cx="341.1" cy="40.8" r=".55" fill="#5d6a24" opacity=".6"/><circle cx="341.1" cy="40.9" r=".45" fill="#b1bf73" opacity=".5"/><circle cx="341.1" cy="41.6" r=".55" fill="#5d6a24" opacity=".6"/><circle cx="340.2" cy="42.0" r=".45" fill="#b1bf73" opacity=".5"/><circle cx="341.4" cy="43.9" r=".55" fill="#5d6a24" opacity=".6"/><circle cx="340.2" cy="43.6" r=".45" fill="#b1bf73" opacity=".5"/><circle cx="340.7" cy="45.0" r=".55" fill="#5c6a24" opacity=".6"/><circle cx="340.3" cy="44.8" r=".45" fill="#b0bf73" opacity=".5"/><circle cx="341.0" cy="46.9" r=".55" fill="#5c6a24" opacity=".6"/><circle cx="340.1" cy="46.5" r=".45" fill="#b0bf73" opacity=".5"/><circle cx="341.5" cy="48.4" r=".55" fill="#5c6a24" opacity=".6"/><circle cx="340.2" cy="47.6" r=".45" fill="#b0bf73" opacity=".5"/><circle cx="341.7" cy="49.9" r=".55" fill="#5c6a24" opacity=".6"/><circle cx="340.7" cy="49.0" r=".45" fill="#b0bf73" opacity=".5"/><circle cx="341.6" cy="50.9" r=".55" fill="#5c6923" opacity=".6"/><circle cx="341.5" cy="51.1" r=".45" fill="#b0be73" opacity=".5"/><circle cx="341.3" cy="52.1" r=".55" fill="#5c6923" opacity=".6"/><circle cx="341.2" cy="52.2" r=".45" fill="#b0be73" opacity=".5"/><circle cx="340.3" cy="54.3" r=".55" fill="#5c6923" opacity=".6"/><circle cx="341.2" cy="53.6" r=".45" fill="#afbe73" opacity=".5"/><circle cx="339.8" cy="55.4" r=".55" fill="#5c6923" opacity=".6"/><circle cx="340.4" cy="55.3" r=".45" fill="#afbe73" opacity=".5"/><circle cx="339.5" cy="56.7" r=".55" fill="#5c6923" opacity=".6"/><circle cx="340.8" cy="57.4" r=".45" fill="#afbe73" opacity=".5"/><circle cx="339.2" cy="58.5" r=".55" fill="#5c6923" opacity=".6"/><circle cx="340.7" cy="58.0" r=".45" fill="#afbe73" opacity=".5"/><circle cx="340.8" cy="59.6" r=".55" fill="#5c6923" opacity=".6"/><circle cx="340.3" cy="60.0" r=".45" fill="#afbe73" opacity=".5"/><circle cx="340.2" cy="61.3" r=".55" fill="#5b6923" opacity=".6"/><circle cx="339.8" cy="61.5" r=".45" fill="#afbd72" opacity=".5"/><circle cx="339.7" cy="63.1" r=".55" fill="#5b6923" opacity=".6"/><circle cx="339.8" cy="62.9" r=".45" fill="#afbd72" opacity=".5"/><circle cx="338.8" cy="64.6" r=".55" fill="#5b6923" opacity=".6"/><circle cx="339.8" cy="64.2" r=".45" fill="#afbd72" opacity=".5"/><circle cx="340.3" cy="66.2" r=".55" fill="#5b6923" opacity=".6"/><circle cx="339.6" cy="65.6" r=".45" fill="#afbd72" opacity=".5"/><circle cx="339.6" cy="67.0" r=".55" fill="#5b6923" opacity=".6"/><circle cx="338.9" cy="67.4" r=".45" fill="#aebd72" opacity=".5"/><circle cx="338.7" cy="68.9" r=".55" fill="#5b6822" opacity=".6"/><circle cx="339.6" cy="68.5" r=".45" fill="#aebd71" opacity=".5"/><circle cx="339.9" cy="70.0" r=".55" fill="#5b6822" opacity=".6"/><circle cx="340.1" cy="70.7" r=".45" fill="#aebd71" opacity=".5"/><circle cx="339.7" cy="71.5" r=".55" fill="#5b6822" opacity=".6"/><circle cx="339.6" cy="71.8" r=".45" fill="#aebd71" opacity=".5"/><circle cx="340.7" cy="73.1" r=".55" fill="#5a6822" opacity=".6"/><circle cx="340.5" cy="73.9" r=".45" fill="#adbd71" opacity=".5"/><circle cx="340.3" cy="75.2" r=".55" fill="#5a6822" opacity=".6"/><circle cx="339.2" cy="75.4" r=".45" fill="#adbd71" opacity=".5"/><circle cx="340.0" cy="76.9" r=".55" fill="#5a6822" opacity=".6"/><circle cx="340.9" cy="76.1" r=".45" fill="#adbd71" opacity=".5"/><circle cx="340.8" cy="78.3" r=".55" fill="#5a6821" opacity=".6"/><circle cx="339.3" cy="77.8" r=".45" fill="#adbc70" opacity=".5"/><circle cx="340.9" cy="79.1" r=".55" fill="#596821" opacity=".6"/><circle cx="341.2" cy="79.2" r=".45" fill="#adbc70" opacity=".5"/><circle cx="341.3" cy="80.5" r=".55" fill="#596821" opacity=".6"/><circle cx="340.6" cy="81.3" r=".45" fill="#adbc70" opacity=".5"/><circle cx="340.3" cy="82.1" r=".55" fill="#596821" opacity=".6"/><circle cx="340.9" cy="82.2" r=".45" fill="#adbc70" opacity=".5"/><circle cx="340.3" cy="83.5" r=".55" fill="#596821" opacity=".6"/><circle cx="340.5" cy="84.3" r=".45" fill="#adbc70" opacity=".5"/><circle cx="340.8" cy="18.0" r=".6" fill="#7c8d31"/><circle cx="342.5" cy="19.5" r=".6" fill="#7b8c30"/><circle cx="342.5" cy="20.2" r=".6" fill="#7b8c30"/><circle cx="340.7" cy="21.0" r=".6" fill="#7b8c30"/><circle cx="340.7" cy="21.8" r=".6" fill="#7b8c30"/><circle cx="342.7" cy="22.5" r=".6" fill="#7b8c30"/><circle cx="340.7" cy="24.0" r=".6" fill="#7b8c30"/><circle cx="340.7" cy="24.8" r=".6" fill="#7b8c30"/><circle cx="342.9" cy="26.2" r=".6" fill="#7b8c30"/><circle cx="340.6" cy="27.7" r=".6" fill="#7b8c30"/><circle cx="342.9" cy="29.3" r=".6" fill="#7b8c30"/><circle cx="340.5" cy="30.7" r=".6" fill="#7b8c30"/><circle cx="340.4" cy="31.5" r=".6" fill="#7b8c30"/><circle cx="343.0" cy="32.3" r=".6" fill="#7b8c30"/><circle cx="340.2" cy="34.4" r=".6" fill="#7b8c30"/><circle cx="342.9" cy="35.3" r=".6" fill="#7a8c30"/><circle cx="342.9" cy="37.6" r=".6" fill="#7a8c30"/><circle cx="339.8" cy="38.9" r=".6" fill="#7a8b2f"/><circle cx="342.7" cy="42.1" r=".6" fill="#7a8b2f"/><circle cx="339.6" cy="43.4" r=".6" fill="#7a8b2f"/><circle cx="342.5" cy="45.8" r=".6" fill="#798b2f"/><circle cx="339.3" cy="48.6" r=".6" fill="#798b2f"/><circle cx="339.1" cy="51.6" r=".6" fill="#798a2e"/><circle cx="339.1" cy="52.4" r=".6" fill="#798a2e"/><circle cx="339.0" cy="53.1" r=".6" fill="#788a2e"/><circle cx="341.9" cy="54.8" r=".6" fill="#788a2e"/><circle cx="341.7" cy="58.6" r=".6" fill="#788a2e"/><circle cx="341.6" cy="60.1" r=".6" fill="#788a2e"/><circle cx="338.4" cy="62.1" r=".6" fill="#77892d"/><circle cx="341.4" cy="63.0" r=".6" fill="#77892d"/><circle cx="341.3" cy="63.8" r=".6" fill="#77892d"/><circle cx="338.2" cy="65.9" r=".6" fill="#77892d"/><circle cx="341.2" cy="66.8" r=".6" fill="#77892d"/><circle cx="341.1" cy="69.0" r=".6" fill="#77882d"/><circle cx="338.1" cy="69.7" r=".6" fill="#77882d"/><circle cx="338.1" cy="71.2" r=".6" fill="#77882d"/><circle cx="338.3" cy="74.3" r=".6" fill="#76882d"/><circle cx="338.3" cy="75.1" r=".6" fill="#76882d"/><circle cx="338.4" cy="75.8" r=".6" fill="#76882d"/><circle cx="338.5" cy="76.6" r=".6" fill="#76882d"/><circle cx="341.7" cy="77.7" r=".6" fill="#76882c"/><circle cx="341.9" cy="79.2" r=".6" fill="#75882c"/><circle cx="342.3" cy="81.3" r=".6" fill="#75882c"/><circle cx="339.5" cy="82.6" r=".6" fill="#75882c"/><circle cx="339.9" cy="84.8" r=".6" fill="#75882c"/>
<path d="M347.90,12.10 C348.50,12.67 350.32,14.35 351.50,15.50 C352.68,16.65 354.42,18.42 355.00,19.00" stroke="#a0b24f" stroke-width="1.0" fill="none" stroke-linecap="round"/>
<circle cx="355.3" cy="19.5" r="1.4" fill="#94a838"/><circle cx="355.6" cy="20.2" r="1.3" fill="#94a838"/><circle cx="356.0" cy="20.9" r="1.4" fill="#94a838"/><circle cx="356.3" cy="21.5" r="1.4" fill="#94a838"/><circle cx="356.6" cy="22.2" r="1.6" fill="#94a838"/><circle cx="356.9" cy="22.9" r="1.3" fill="#94a838"/><circle cx="357.2" cy="23.6" r="1.6" fill="#94a838"/><circle cx="357.5" cy="24.3" r="1.5" fill="#94a838"/><circle cx="357.8" cy="25.0" r="1.7" fill="#94a838"/><circle cx="358.1" cy="25.7" r="1.4" fill="#94a838"/><circle cx="358.4" cy="26.3" r="1.6" fill="#94a838"/><circle cx="358.7" cy="27.0" r="1.6" fill="#94a838"/><circle cx="358.9" cy="27.7" r="1.4" fill="#94a838"/><circle cx="359.1" cy="28.5" r="1.4" fill="#94a838"/><circle cx="359.2" cy="29.2" r="1.7" fill="#94a838"/><circle cx="359.3" cy="29.9" r="1.3" fill="#94a838"/><circle cx="359.5" cy="30.7" r="2.0" fill="#94a838"/><circle cx="359.6" cy="31.4" r="1.5" fill="#94a838"/><circle cx="359.7" cy="32.2" r="1.4" fill="#94a838"/><circle cx="359.8" cy="32.9" r="1.5" fill="#94a838"/><circle cx="359.9" cy="33.7" r="2.1" fill="#94a838"/><circle cx="360.0" cy="34.4" r="1.7" fill="#94a838"/><circle cx="360.1" cy="35.1" r="1.6" fill="#94a838"/><circle cx="360.2" cy="35.9" r="1.6" fill="#94a838"/><circle cx="360.2" cy="36.6" r="1.6" fill="#94a838"/><circle cx="360.3" cy="37.4" r="2.1" fill="#94a838"/><circle cx="360.4" cy="38.1" r="2.1" fill="#94a838"/><circle cx="360.5" cy="38.9" r="2.2" fill="#94a838"/><circle cx="360.6" cy="39.6" r="2.2" fill="#94a838"/><circle cx="360.7" cy="40.4" r="1.8" fill="#94a838"/><circle cx="360.8" cy="41.1" r="2.2" fill="#94a838"/><circle cx="360.8" cy="41.8" r="2.0" fill="#94a838"/><circle cx="360.9" cy="42.6" r="2.3" fill="#94a838"/><circle cx="361.0" cy="43.3" r="2.3" fill="#94a838"/><circle cx="361.1" cy="44.1" r="2.4" fill="#94a838"/><circle cx="361.1" cy="44.8" r="1.8" fill="#94a838"/><circle cx="361.2" cy="45.6" r="2.4" fill="#94a838"/><circle cx="361.3" cy="46.3" r="2.4" fill="#94a838"/><circle cx="361.3" cy="47.1" r="2.4" fill="#94a838"/><circle cx="361.4" cy="47.8" r="1.8" fill="#94a839"/><circle cx="361.4" cy="48.6" r="1.9" fill="#94a839"/><circle cx="361.5" cy="49.3" r="1.8" fill="#94a839"/><circle cx="361.5" cy="50.1" r="1.8" fill="#94a839"/><circle cx="361.6" cy="50.8" r="2.3" fill="#94a839"/><circle cx="361.6" cy="51.6" r="2.3" fill="#94a839"/><circle cx="361.6" cy="52.3" r="2.2" fill="#94a839"/><circle cx="361.6" cy="53.1" r="2.3" fill="#94a839"/><circle cx="361.6" cy="53.8" r="2.2" fill="#94a839"/><circle cx="361.6" cy="54.6" r="2.0" fill="#94a839"/><circle cx="361.6" cy="55.3" r="1.8" fill="#94a839"/><circle cx="361.6" cy="56.1" r="1.8" fill="#94a839"/><circle cx="361.6" cy="56.8" r="2.3" fill="#94a839"/><circle cx="361.6" cy="57.6" r="1.9" fill="#94a839"/><circle cx="361.6" cy="58.3" r="2.0" fill="#94a839"/><circle cx="361.6" cy="59.1" r="2.0" fill="#94a839"/><circle cx="361.5" cy="59.8" r="1.8" fill="#94a839"/><circle cx="361.5" cy="60.6" r="1.9" fill="#94a839"/><circle cx="361.5" cy="61.3" r="1.9" fill="#94a839"/><circle cx="361.4" cy="62.1" r="2.3" fill="#94a839"/><circle cx="361.4" cy="62.8" r="2.0" fill="#94a839"/><circle cx="361.3" cy="63.6" r="2.0" fill="#94a839"/><circle cx="361.3" cy="64.3" r="2.4" fill="#94a839"/><circle cx="361.2" cy="65.1" r="2.1" fill="#95a93a"/><circle cx="361.2" cy="65.8" r="2.3" fill="#95a93a"/><circle cx="361.1" cy="66.6" r="2.2" fill="#95a93a"/><circle cx="361.0" cy="67.3" r="1.8" fill="#95a93a"/><circle cx="360.9" cy="68.0" r="2.0" fill="#95a93a"/><circle cx="360.9" cy="68.8" r="2.1" fill="#95a93a"/><circle cx="360.8" cy="69.5" r="2.3" fill="#95a93a"/><circle cx="360.7" cy="70.3" r="2.0" fill="#95a93a"/><circle cx="360.6" cy="71.0" r="2.2" fill="#95a93a"/><circle cx="360.5" cy="71.8" r="2.1" fill="#95a93a"/><circle cx="360.4" cy="72.5" r="1.9" fill="#95a93a"/><circle cx="360.2" cy="73.2" r="2.4" fill="#95a93a"/><circle cx="360.1" cy="74.0" r="1.8" fill="#95a93a"/><circle cx="359.9" cy="74.7" r="2.3" fill="#95a93a"/><circle cx="359.8" cy="75.4" r="1.9" fill="#95a93a"/><circle cx="359.6" cy="76.2" r="1.8" fill="#95a93a"/><circle cx="359.4" cy="76.9" r="1.9" fill="#95a93a"/><circle cx="359.2" cy="77.6" r="2.3" fill="#95a93a"/><circle cx="359.0" cy="78.3" r="2.4" fill="#95a93a"/><circle cx="358.8" cy="79.1" r="1.8" fill="#95a93b"/><circle cx="358.5" cy="79.8" r="2.1" fill="#95a93b"/><circle cx="358.3" cy="80.5" r="2.1" fill="#95a93b"/><circle cx="358.1" cy="81.2" r="2.3" fill="#95a93b"/><circle cx="357.9" cy="81.9" r="1.8" fill="#95a93b"/><circle cx="357.7" cy="82.6" r="2.0" fill="#95a93b"/><circle cx="357.5" cy="83.4" r="1.9" fill="#95a93b"/><circle cx="357.3" cy="84.1" r="2.2" fill="#95a93b"/><circle cx="357.1" cy="84.8" r="1.7" fill="#95a93b"/><circle cx="356.9" cy="85.6" r="2.2" fill="#95a93b"/><circle cx="356.8" cy="86.3" r="1.7" fill="#95a93b"/><circle cx="356.6" cy="87.0" r="1.6" fill="#95a93b"/><circle cx="356.4" cy="87.7" r="1.9" fill="#95a93b"/><circle cx="356.2" cy="88.5" r="1.7" fill="#95a93b"/><circle cx="356.0" cy="89.2" r="1.4" fill="#95a93b"/><circle cx="355.8" cy="89.9" r="1.7" fill="#95a93b"/><circle cx="355.7" cy="90.6" r="1.3" fill="#95a93b"/><circle cx="355.5" cy="91.4" r="1.8" fill="#96aa3c"/>
<circle cx="355.6" cy="19.8" r=".55" fill="#606d24" opacity=".6"/><circle cx="355.5" cy="19.4" r=".45" fill="#b4c273" opacity=".5"/><circle cx="355.8" cy="20.7" r=".55" fill="#606d24" opacity=".6"/><circle cx="356.6" cy="20.4" r=".45" fill="#b4c273" opacity=".5"/><circle cx="357.3" cy="21.7" r=".55" fill="#606d24" opacity=".6"/><circle cx="356.1" cy="22.0" r=".45" fill="#b4c273" opacity=".5"/><circle cx="358.0" cy="23.6" r=".55" fill="#606d24" opacity=".6"/><circle cx="357.0" cy="24.0" r=".45" fill="#b4c273" opacity=".5"/><circle cx="357.3" cy="24.9" r=".55" fill="#606d24" opacity=".6"/><circle cx="357.8" cy="25.2" r=".45" fill="#b4c273" opacity=".5"/><circle cx="358.9" cy="26.5" r=".55" fill="#606d24" opacity=".6"/><circle cx="358.1" cy="26.2" r=".45" fill="#b4c273" opacity=".5"/><circle cx="358.2" cy="28.1" r=".55" fill="#606d24" opacity=".6"/><circle cx="359.2" cy="28.0" r=".45" fill="#b4c273" opacity=".5"/><circle cx="358.5" cy="29.1" r=".55" fill="#606d24" opacity=".6"/><circle cx="359.8" cy="29.3" r=".45" fill="#b4c273" opacity=".5"/><circle cx="358.6" cy="30.6" r=".55" fill="#606d24" opacity=".6"/><circle cx="360.4" cy="30.4" r=".45" fill="#b4c273" opacity=".5"/><circle cx="358.9" cy="32.0" r=".55" fill="#606d24" opacity=".6"/><circle cx="360.2" cy="32.5" r=".45" fill="#b4c273" opacity=".5"/><circle cx="359.0" cy="33.3" r=".55" fill="#606d24" opacity=".6"/><circle cx="359.2" cy="33.5" r=".45" fill="#b4c273" opacity=".5"/><circle cx="360.1" cy="34.8" r=".55" fill="#606d24" opacity=".6"/><circle cx="359.6" cy="34.8" r=".45" fill="#b4c273" opacity=".5"/><circle cx="361.5" cy="36.9" r=".55" fill="#606d24" opacity=".6"/><circle cx="359.2" cy="37.1" r=".45" fill="#b4c273" opacity=".5"/><circle cx="359.3" cy="38.0" r=".55" fill="#606d24" opacity=".6"/><circle cx="361.8" cy="38.4" r=".45" fill="#b4c273" opacity=".5"/><circle cx="361.3" cy="39.5" r=".55" fill="#606d24" opacity=".6"/><circle cx="359.7" cy="39.8" r=".45" fill="#b4c273" opacity=".5"/><circle cx="359.6" cy="40.8" r=".55" fill="#606d24" opacity=".6"/><circle cx="360.4" cy="40.6" r=".45" fill="#b4c273" opacity=".5"/><circle cx="360.6" cy="42.9" r=".55" fill="#606d24" opacity=".6"/><circle cx="361.5" cy="42.6" r=".45" fill="#b4c273" opacity=".5"/><circle cx="361.5" cy="44.1" r=".55" fill="#606d24" opacity=".6"/><circle cx="360.0" cy="44.2" r=".45" fill="#b4c273" opacity=".5"/><circle cx="360.9" cy="45.8" r=".55" fill="#606d24" opacity=".6"/><circle cx="362.4" cy="45.5" r=".45" fill="#b4c273" opacity=".5"/><circle cx="361.5" cy="47.3" r=".55" fill="#606d24" opacity=".6"/><circle cx="361.1" cy="46.8" r=".45" fill="#b4c273" opacity=".5"/><circle cx="362.1" cy="49.0" r=".55" fill="#606d25" opacity=".6"/><circle cx="362.2" cy="48.8" r=".45" fill="#b4c274" opacity=".5"/><circle cx="362.6" cy="50.3" r=".55" fill="#606d25" opacity=".6"/><circle cx="361.9" cy="50.0" r=".45" fill="#b4c274" opacity=".5"/><circle cx="361.0" cy="51.7" r=".55" fill="#606d25" opacity=".6"/><circle cx="360.4" cy="51.5" r=".45" fill="#b4c274" opacity=".5"/><circle cx="362.5" cy="53.3" r=".55" fill="#606d25" opacity=".6"/><circle cx="362.0" cy="52.8" r=".45" fill="#b4c274" opacity=".5"/><circle cx="361.4" cy="54.5" r=".55" fill="#606d25" opacity=".6"/><circle cx="362.0" cy="54.5" r=".45" fill="#b4c274" opacity=".5"/><circle cx="362.1" cy="56.5" r=".55" fill="#606d25" opacity=".6"/><circle cx="360.7" cy="56.2" r=".45" fill="#b4c274" opacity=".5"/><circle cx="362.4" cy="57.5" r=".55" fill="#606d25" opacity=".6"/><circle cx="361.6" cy="58.0" r=".45" fill="#b4c274" opacity=".5"/><circle cx="360.2" cy="59.1" r=".55" fill="#606d25" opacity=".6"/><circle cx="360.6" cy="59.3" r=".45" fill="#b4c274" opacity=".5"/><circle cx="362.8" cy="60.6" r=".55" fill="#606d25" opacity=".6"/><circle cx="360.3" cy="60.6" r=".45" fill="#b4c274" opacity=".5"/><circle cx="361.5" cy="62.3" r=".55" fill="#606d25" opacity=".6"/><circle cx="361.5" cy="62.2" r=".45" fill="#b4c274" opacity=".5"/><circle cx="362.3" cy="63.6" r=".55" fill="#606d25" opacity=".6"/><circle cx="361.1" cy="64.0" r=".45" fill="#b4c274" opacity=".5"/><circle cx="360.4" cy="65.2" r=".55" fill="#606d25" opacity=".6"/><circle cx="360.9" cy="65.3" r=".45" fill="#b4c275" opacity=".5"/><circle cx="360.0" cy="67.0" r=".55" fill="#606d25" opacity=".6"/><circle cx="360.7" cy="66.1" r=".45" fill="#b4c275" opacity=".5"/><circle cx="360.3" cy="67.9" r=".55" fill="#606d25" opacity=".6"/><circle cx="359.5" cy="68.0" r=".45" fill="#b4c275" opacity=".5"/><circle cx="360.5" cy="69.7" r=".55" fill="#606d25" opacity=".6"/><circle cx="360.3" cy="69.3" r=".45" fill="#b4c275" opacity=".5"/><circle cx="359.8" cy="71.3" r=".55" fill="#606d25" opacity=".6"/><circle cx="361.9" cy="71.1" r=".45" fill="#b4c275" opacity=".5"/><circle cx="359.5" cy="72.8" r=".55" fill="#606d25" opacity=".6"/><circle cx="360.1" cy="72.2" r=".45" fill="#b4c275" opacity=".5"/><circle cx="359.0" cy="74.3" r=".55" fill="#606d25" opacity=".6"/><circle cx="361.0" cy="74.1" r=".45" fill="#b4c275" opacity=".5"/><circle cx="359.7" cy="75.5" r=".55" fill="#606d25" opacity=".6"/><circle cx="359.0" cy="75.9" r=".45" fill="#b4c275" opacity=".5"/><circle cx="359.0" cy="77.0" r=".55" fill="#606d25" opacity=".6"/><circle cx="360.3" cy="77.2" r=".45" fill="#b4c275" opacity=".5"/><circle cx="358.9" cy="78.1" r=".55" fill="#606d25" opacity=".6"/><circle cx="359.1" cy="78.0" r=".45" fill="#b4c275" opacity=".5"/><circle cx="359.5" cy="79.6" r=".55" fill="#606d26" opacity=".6"/><circle cx="359.6" cy="79.5" r=".45" fill="#b4c275" opacity=".5"/><circle cx="357.7" cy="81.0" r=".55" fill="#606d26" opacity=".6"/><circle cx="357.9" cy="80.9" r=".45" fill="#b4c275" opacity=".5"/><circle cx="356.2" cy="82.9" r=".55" fill="#606d26" opacity=".6"/><circle cx="357.0" cy="82.4" r=".45" fill="#b4c275" opacity=".5"/><circle cx="356.7" cy="84.1" r=".55" fill="#606d26" opacity=".6"/><circle cx="357.1" cy="84.2" r=".45" fill="#b4c275" opacity=".5"/><circle cx="357.4" cy="85.4" r=".55" fill="#606d26" opacity=".6"/><circle cx="358.2" cy="85.9" r=".45" fill="#b4c275" opacity=".5"/><circle cx="355.3" cy="87.3" r=".55" fill="#606d26" opacity=".6"/><circle cx="357.8" cy="87.3" r=".45" fill="#b4c275" opacity=".5"/><circle cx="355.1" cy="88.8" r=".55" fill="#606d26" opacity=".6"/><circle cx="356.6" cy="88.0" r=".45" fill="#b4c275" opacity=".5"/><circle cx="354.4" cy="90.4" r=".55" fill="#606d26" opacity=".6"/><circle cx="356.3" cy="89.7" r=".45" fill="#b4c275" opacity=".5"/><circle cx="354.3" cy="91.0" r=".55" fill="#616e27" opacity=".6"/><circle cx="354.7" cy="91.7" r=".45" fill="#b5c376" opacity=".5"/><circle cx="357.0" cy="20.3" r=".6" fill="#7d8e2f"/><circle cx="357.4" cy="21.0" r=".6" fill="#7d8e2f"/><circle cx="355.4" cy="22.7" r=".6" fill="#7d8e2f"/><circle cx="358.5" cy="23.0" r=".6" fill="#7d8e2f"/><circle cx="356.2" cy="24.8" r=".6" fill="#7d8e2f"/><circle cx="359.1" cy="24.4" r=".6" fill="#7d8e2f"/><circle cx="356.7" cy="26.2" r=".6" fill="#7d8e2f"/><circle cx="357.3" cy="27.6" r=".6" fill="#7d8e2f"/><circle cx="361.4" cy="31.9" r=".6" fill="#7d8e2f"/><circle cx="358.1" cy="34.6" r=".6" fill="#7d8e2f"/><circle cx="358.2" cy="35.4" r=".6" fill="#7d8e2f"/><circle cx="362.3" cy="37.1" r=".6" fill="#7d8e2f"/><circle cx="362.6" cy="39.4" r=".6" fill="#7d8e2f"/><circle cx="358.6" cy="40.6" r=".6" fill="#7d8e2f"/><circle cx="362.9" cy="40.9" r=".6" fill="#7d8e2f"/><circle cx="358.8" cy="42.1" r=".6" fill="#7d8e2f"/><circle cx="363.0" cy="42.4" r=".6" fill="#7d8e2f"/><circle cx="363.2" cy="43.9" r=".6" fill="#7d8e2f"/><circle cx="359.1" cy="45.8" r=".6" fill="#7d8e2f"/><circle cx="363.4" cy="46.9" r=".6" fill="#7d8e2f"/><circle cx="359.5" cy="53.8" r=".6" fill="#7d8e30"/><circle cx="359.5" cy="54.6" r=".6" fill="#7d8e30"/><circle cx="359.5" cy="55.3" r=".6" fill="#7d8e30"/><circle cx="363.7" cy="56.9" r=".6" fill="#7d8e30"/><circle cx="363.7" cy="57.6" r=".6" fill="#7d8e30"/><circle cx="363.7" cy="58.4" r=".6" fill="#7d8e30"/><circle cx="359.4" cy="59.7" r=".6" fill="#7d8e30"/><circle cx="363.6" cy="60.7" r=".6" fill="#7d8e30"/><circle cx="359.2" cy="63.4" r=".6" fill="#7d8e30"/><circle cx="363.4" cy="64.5" r=".6" fill="#7d8e30"/><circle cx="359.1" cy="64.9" r=".6" fill="#7e8f31"/><circle cx="363.3" cy="66.0" r=".6" fill="#7e8f31"/><circle cx="358.9" cy="67.1" r=".6" fill="#7e8f31"/><circle cx="363.0" cy="68.3" r=".6" fill="#7e8f31"/><circle cx="362.7" cy="71.3" r=".6" fill="#7e8f31"/><circle cx="358.3" cy="72.2" r=".6" fill="#7e8f31"/><circle cx="358.2" cy="72.9" r=".6" fill="#7e8f31"/><circle cx="362.1" cy="74.4" r=".6" fill="#7e8f31"/><circle cx="361.4" cy="77.4" r=".6" fill="#7e8f31"/><circle cx="361.0" cy="78.9" r=".6" fill="#7e8f31"/><circle cx="356.7" cy="78.5" r=".6" fill="#7e8f32"/><circle cx="356.5" cy="79.2" r=".6" fill="#7e8f32"/><circle cx="359.7" cy="83.2" r=".6" fill="#7e8f32"/><circle cx="359.0" cy="86.1" r=".6" fill="#7e8f32"/><circle cx="358.8" cy="86.8" r=".6" fill="#7e8f32"/><circle cx="358.2" cy="89.0" r=".6" fill="#7e8f32"/>
<path d="M379.50,13.20 C379.42,14.00 379.18,16.53 379.00,18.00 C378.82,19.47 378.50,21.33 378.40,22.00" stroke="#a4b253" stroke-width="1.0" fill="none" stroke-linecap="round"/>
<circle cx="378.4" cy="22.6" r="1.3" fill="#98a83c"/><circle cx="378.2" cy="23.3" r="1.2" fill="#98a83c"/><circle cx="378.0" cy="24.0" r="1.5" fill="#98a83c"/><circle cx="377.7" cy="24.7" r="1.6" fill="#98a83c"/><circle cx="377.5" cy="25.5" r="1.3" fill="#98a83c"/><circle cx="377.3" cy="26.2" r="1.6" fill="#98a83c"/><circle cx="377.1" cy="26.9" r="1.6" fill="#98a83c"/><circle cx="376.9" cy="27.6" r="1.2" fill="#98a83c"/><circle cx="376.7" cy="28.3" r="1.7" fill="#98a83c"/><circle cx="376.5" cy="29.1" r="1.4" fill="#98a83c"/><circle cx="376.3" cy="29.8" r="1.6" fill="#98a83c"/><circle cx="376.0" cy="30.5" r="1.6" fill="#98a83c"/><circle cx="375.8" cy="31.2" r="1.8" fill="#98a83c"/><circle cx="375.5" cy="31.9" r="2.0" fill="#98a83c"/><circle cx="375.4" cy="32.7" r="2.0" fill="#98a83c"/><circle cx="375.3" cy="33.4" r="1.4" fill="#98a83c"/><circle cx="375.3" cy="34.1" r="1.5" fill="#98a83c"/><circle cx="375.3" cy="34.9" r="1.5" fill="#98a83c"/><circle cx="375.3" cy="35.6" r="2.1" fill="#98a83c"/><circle cx="375.4" cy="36.4" r="2.0" fill="#98a83c"/><circle cx="375.4" cy="37.1" r="2.0" fill="#98a83c"/><circle cx="375.4" cy="37.9" r="1.9" fill="#98a83c"/><circle cx="375.5" cy="38.6" r="1.9" fill="#98a83c"/><circle cx="375.5" cy="39.4" r="2.1" fill="#98a83c"/><circle cx="375.6" cy="40.1" r="2.4" fill="#98a83c"/><circle cx="375.7" cy="40.9" r="2.3" fill="#98a83c"/><circle cx="375.8" cy="41.6" r="2.2" fill="#98a83c"/><circle cx="375.8" cy="42.4" r="2.0" fill="#98a83c"/><circle cx="375.9" cy="43.1" r="2.5" fill="#98a83c"/><circle cx="376.0" cy="43.9" r="2.4" fill="#98a83c"/><circle cx="376.1" cy="44.6" r="2.2" fill="#98a83c"/><circle cx="376.2" cy="45.4" r="2.0" fill="#98a83c"/><circle cx="376.3" cy="46.1" r="2.6" fill="#98a83c"/><circle cx="376.4" cy="46.8" r="2.0" fill="#98a83c"/><circle cx="376.5" cy="47.6" r="2.6" fill="#98a83c"/><circle cx="376.6" cy="48.3" r="2.0" fill="#98a83c"/><circle cx="376.8" cy="49.1" r="2.5" fill="#98a83c"/><circle cx="376.9" cy="49.8" r="2.2" fill="#98a83c"/><circle cx="377.1" cy="50.5" r="2.4" fill="#98a83c"/><circle cx="377.2" cy="51.3" r="2.2" fill="#98a93d"/><circle cx="377.4" cy="52.0" r="2.1" fill="#98a93d"/><circle cx="377.6" cy="52.7" r="2.4" fill="#98a93d"/><circle cx="377.8" cy="53.4" r="2.1" fill="#98a93d"/><circle cx="378.0" cy="54.1" r="2.1" fill="#98a93d"/><circle cx="378.3" cy="54.9" r="2.3" fill="#98a93d"/><circle cx="378.6" cy="55.6" r="2.4" fill="#98a93d"/><circle cx="378.8" cy="56.3" r="2.5" fill="#98a93d"/><circle cx="379.1" cy="56.9" r="2.3" fill="#98a93d"/><circle cx="379.4" cy="57.6" r="2.5" fill="#98a93d"/><circle cx="379.7" cy="58.3" r="2.4" fill="#98a93d"/><circle cx="380.0" cy="59.0" r="1.9" fill="#98a93d"/><circle cx="380.3" cy="59.7" r="2.0" fill="#98a93d"/><circle cx="380.6" cy="60.4" r="2.5" fill="#98a93d"/><circle cx="380.9" cy="61.1" r="2.3" fill="#98a93d"/><circle cx="381.2" cy="61.8" r="2.6" fill="#98a93d"/><circle cx="381.5" cy="62.5" r="2.1" fill="#98a93d"/><circle cx="381.8" cy="63.1" r="2.2" fill="#98a93d"/><circle cx="382.1" cy="63.8" r="2.2" fill="#98a93d"/><circle cx="382.3" cy="64.5" r="2.4" fill="#98a93d"/><circle cx="382.6" cy="65.2" r="2.1" fill="#98a93d"/><circle cx="382.8" cy="66.0" r="2.2" fill="#98a93d"/><circle cx="383.0" cy="66.7" r="2.4" fill="#98a93d"/><circle cx="383.2" cy="67.4" r="2.1" fill="#99aa3e"/><circle cx="383.4" cy="68.1" r="2.1" fill="#99aa3e"/><circle cx="383.5" cy="68.9" r="2.0" fill="#99aa3e"/><circle cx="383.5" cy="69.6" r="2.5" fill="#99aa3e"/><circle cx="383.6" cy="70.4" r="2.4" fill="#99aa3e"/><circle cx="383.5" cy="71.1" r="2.4" fill="#99aa3e"/><circle cx="383.5" cy="71.9" r="2.1" fill="#99aa3e"/><circle cx="383.4" cy="72.6" r="2.0" fill="#99aa3e"/><circle cx="383.2" cy="73.4" r="2.5" fill="#99aa3e"/><circle cx="383.0" cy="74.1" r="2.6" fill="#99aa3e"/><circle cx="382.8" cy="74.8" r="2.0" fill="#99aa3e"/><circle cx="382.6" cy="75.5" r="2.6" fill="#99aa3e"/><circle cx="382.4" cy="76.2" r="2.5" fill="#99aa3e"/><circle cx="382.1" cy="76.9" r="2.3" fill="#99aa3e"/><circle cx="381.8" cy="77.6" r="2.4" fill="#99aa3e"/><circle cx="381.6" cy="78.3" r="2.2" fill="#99aa3e"/><circle cx="381.3" cy="79.0" r="2.3" fill="#99aa3e"/><circle cx="381.1" cy="79.7" r="2.3" fill="#99aa3e"/><circle cx="380.8" cy="80.5" r="2.2" fill="#99aa3e"/><circle cx="380.6" cy="81.2" r="2.2" fill="#99ab3f"/><circle cx="380.4" cy="81.9" r="2.5" fill="#99ab3f"/><circle cx="380.2" cy="82.6" r="2.4" fill="#99ab3f"/><circle cx="380.1" cy="83.4" r="2.5" fill="#99ab3f"/><circle cx="379.9" cy="84.1" r="2.0" fill="#99ab3f"/><circle cx="379.7" cy="84.8" r="1.8" fill="#99ab3f"/><circle cx="379.5" cy="85.5" r="2.0" fill="#99ab3f"/><circle cx="379.3" cy="86.3" r="2.2" fill="#99ab3f"/><circle cx="379.1" cy="87.0" r="2.3" fill="#99ab3f"/><circle cx="378.9" cy="87.7" r="2.0" fill="#99ab3f"/><circle cx="378.7" cy="88.4" r="1.6" fill="#99ab3f"/><circle cx="378.5" cy="89.1" r="1.8" fill="#99ab3f"/><circle cx="378.3" cy="89.9" r="1.9" fill="#99ab3f"/><circle cx="378.1" cy="90.6" r="1.8" fill="#99ab3f"/><circle cx="377.9" cy="91.3" r="1.7" fill="#99ab3f"/><circle cx="377.7" cy="92.0" r="1.4" fill="#99ab3f"/><circle cx="377.5" cy="92.8" r="1.6" fill="#9aac40"/>
<circle cx="378.4" cy="22.4" r=".55" fill="#626d27" opacity=".6"/><circle cx="379.0" cy="22.4" r=".45" fill="#b6c276" opacity=".5"/><circle cx="378.0" cy="23.7" r=".55" fill="#626d27" opacity=".6"/><circle cx="377.4" cy="23.6" r=".45" fill="#b6c276" opacity=".5"/><circle cx="378.1" cy="25.3" r=".55" fill="#626d27" opacity=".6"/><circle cx="377.7" cy="25.3" r=".45" fill="#b6c276" opacity=".5"/><circle cx="377.6" cy="27.3" r=".55" fill="#626d27" opacity=".6"/><circle cx="376.6" cy="27.3" r=".45" fill="#b6c276" opacity=".5"/><circle cx="376.7" cy="28.7" r=".55" fill="#626d27" opacity=".6"/><circle cx="376.4" cy="28.3" r=".45" fill="#b6c276" opacity=".5"/><circle cx="375.3" cy="29.6" r=".55" fill="#626d27" opacity=".6"/><circle cx="375.2" cy="29.6" r=".45" fill="#b6c276" opacity=".5"/><circle cx="376.0" cy="30.8" r=".55" fill="#626d27" opacity=".6"/><circle cx="375.1" cy="31.6" r=".45" fill="#b6c276" opacity=".5"/><circle cx="375.6" cy="32.7" r=".55" fill="#626d27" opacity=".6"/><circle cx="374.7" cy="33.1" r=".45" fill="#b6c276" opacity=".5"/><circle cx="374.7" cy="33.7" r=".55" fill="#626d27" opacity=".6"/><circle cx="375.2" cy="34.2" r=".45" fill="#b6c276" opacity=".5"/><circle cx="375.6" cy="35.3" r=".55" fill="#626d27" opacity=".6"/><circle cx="376.2" cy="35.5" r=".45" fill="#b6c276" opacity=".5"/><circle cx="376.7" cy="37.0" r=".55" fill="#626d27" opacity=".6"/><circle cx="374.1" cy="36.7" r=".45" fill="#b6c276" opacity=".5"/><circle cx="375.1" cy="38.8" r=".55" fill="#626d27" opacity=".6"/><circle cx="375.5" cy="39.0" r=".45" fill="#b6c276" opacity=".5"/><circle cx="376.8" cy="40.5" r=".55" fill="#626d27" opacity=".6"/><circle cx="376.0" cy="40.6" r=".45" fill="#b6c276" opacity=".5"/><circle cx="376.4" cy="41.2" r=".55" fill="#626d27" opacity=".6"/><circle cx="375.2" cy="41.4" r=".45" fill="#b6c276" opacity=".5"/><circle cx="374.6" cy="43.5" r=".55" fill="#626d27" opacity=".6"/><circle cx="375.9" cy="42.8" r=".45" fill="#b6c276" opacity=".5"/><circle cx="377.2" cy="44.5" r=".55" fill="#626d27" opacity=".6"/><circle cx="375.3" cy="44.8" r=".45" fill="#b6c276" opacity=".5"/><circle cx="375.3" cy="46.5" r=".55" fill="#626d27" opacity=".6"/><circle cx="377.7" cy="45.7" r=".45" fill="#b6c276" opacity=".5"/><circle cx="376.7" cy="47.1" r=".55" fill="#626d27" opacity=".6"/><circle cx="377.8" cy="47.3" r=".45" fill="#b6c276" opacity=".5"/><circle cx="376.8" cy="49.3" r=".55" fill="#626d27" opacity=".6"/><circle cx="377.6" cy="49.0" r=".45" fill="#b6c276" opacity=".5"/><circle cx="375.8" cy="50.3" r=".55" fill="#626d27" opacity=".6"/><circle cx="375.5" cy="50.2" r=".45" fill="#b6c276" opacity=".5"/><circle cx="378.2" cy="52.1" r=".55" fill="#626d27" opacity=".6"/><circle cx="377.2" cy="52.1" r=".45" fill="#b6c277" opacity=".5"/><circle cx="377.7" cy="53.3" r=".55" fill="#626d27" opacity=".6"/><circle cx="377.5" cy="53.3" r=".45" fill="#b6c277" opacity=".5"/><circle cx="377.9" cy="54.8" r=".55" fill="#626d27" opacity=".6"/><circle cx="379.3" cy="55.3" r=".45" fill="#b6c277" opacity=".5"/><circle cx="380.1" cy="56.2" r=".55" fill="#626d27" opacity=".6"/><circle cx="380.1" cy="56.6" r=".45" fill="#b6c277" opacity=".5"/><circle cx="378.3" cy="58.0" r=".55" fill="#626d27" opacity=".6"/><circle cx="378.1" cy="57.8" r=".45" fill="#b6c277" opacity=".5"/><circle cx="379.6" cy="59.3" r=".55" fill="#626d27" opacity=".6"/><circle cx="380.9" cy="59.5" r=".45" fill="#b6c277" opacity=".5"/><circle cx="381.9" cy="60.3" r=".55" fill="#626d27" opacity=".6"/><circle cx="379.1" cy="60.0" r=".45" fill="#b6c277" opacity=".5"/><circle cx="382.7" cy="61.6" r=".55" fill="#626d27" opacity=".6"/><circle cx="380.4" cy="61.4" r=".45" fill="#b6c277" opacity=".5"/><circle cx="381.4" cy="63.0" r=".55" fill="#626d27" opacity=".6"/><circle cx="382.5" cy="62.8" r=".45" fill="#b6c277" opacity=".5"/><circle cx="382.2" cy="64.9" r=".55" fill="#626d27" opacity=".6"/><circle cx="382.1" cy="64.2" r=".45" fill="#b6c277" opacity=".5"/><circle cx="382.6" cy="65.7" r=".55" fill="#626d27" opacity=".6"/><circle cx="381.3" cy="66.0" r=".45" fill="#b6c277" opacity=".5"/><circle cx="382.6" cy="67.7" r=".55" fill="#636e28" opacity=".6"/><circle cx="382.5" cy="67.0" r=".45" fill="#b7c377" opacity=".5"/><circle cx="383.3" cy="68.9" r=".55" fill="#636e28" opacity=".6"/><circle cx="382.4" cy="68.9" r=".45" fill="#b7c377" opacity=".5"/><circle cx="384.0" cy="70.7" r=".55" fill="#636e28" opacity=".6"/><circle cx="384.9" cy="70.4" r=".45" fill="#b7c377" opacity=".5"/><circle cx="384.5" cy="71.5" r=".55" fill="#636e28" opacity=".6"/><circle cx="384.3" cy="72.3" r=".45" fill="#b7c377" opacity=".5"/><circle cx="383.0" cy="73.1" r=".55" fill="#636e28" opacity=".6"/><circle cx="382.4" cy="73.1" r=".45" fill="#b7c377" opacity=".5"/><circle cx="382.5" cy="74.7" r=".55" fill="#636e28" opacity=".6"/><circle cx="381.8" cy="75.1" r=".45" fill="#b7c377" opacity=".5"/><circle cx="383.9" cy="75.9" r=".55" fill="#636e28" opacity=".6"/><circle cx="382.8" cy="76.2" r=".45" fill="#b7c377" opacity=".5"/><circle cx="381.9" cy="77.6" r=".55" fill="#636e28" opacity=".6"/><circle cx="381.7" cy="77.9" r=".45" fill="#b7c377" opacity=".5"/><circle cx="382.7" cy="78.8" r=".55" fill="#636e28" opacity=".6"/><circle cx="380.9" cy="78.6" r=".45" fill="#b7c377" opacity=".5"/><circle cx="380.5" cy="80.2" r=".55" fill="#636e28" opacity=".6"/><circle cx="379.8" cy="80.8" r=".45" fill="#b7c377" opacity=".5"/><circle cx="380.5" cy="81.6" r=".55" fill="#636f28" opacity=".6"/><circle cx="379.4" cy="82.0" r=".45" fill="#b7c478" opacity=".5"/><circle cx="381.1" cy="83.7" r=".55" fill="#636f28" opacity=".6"/><circle cx="380.8" cy="83.6" r=".45" fill="#b7c478" opacity=".5"/><circle cx="378.6" cy="84.4" r=".55" fill="#636f28" opacity=".6"/><circle cx="380.2" cy="84.9" r=".45" fill="#b7c478" opacity=".5"/><circle cx="378.3" cy="86.1" r=".55" fill="#636f28" opacity=".6"/><circle cx="377.7" cy="86.4" r=".45" fill="#b7c478" opacity=".5"/><circle cx="379.0" cy="88.0" r=".55" fill="#636f28" opacity=".6"/><circle cx="380.2" cy="87.7" r=".45" fill="#b7c478" opacity=".5"/><circle cx="378.0" cy="88.9" r=".55" fill="#636f28" opacity=".6"/><circle cx="378.9" cy="89.6" r=".45" fill="#b7c478" opacity=".5"/><circle cx="376.8" cy="90.5" r=".55" fill="#636f28" opacity=".6"/><circle cx="378.9" cy="90.2" r=".45" fill="#b7c478" opacity=".5"/><circle cx="378.2" cy="91.8" r=".55" fill="#636f28" opacity=".6"/><circle cx="377.9" cy="92.5" r=".45" fill="#b7c478" opacity=".5"/><circle cx="379.4" cy="23.7" r=".6" fill="#818e33"/><circle cx="379.0" cy="25.1" r=".6" fill="#818e33"/><circle cx="375.9" cy="25.8" r=".6" fill="#818e33"/><circle cx="375.7" cy="26.5" r=".6" fill="#818e33"/><circle cx="378.3" cy="28.0" r=".6" fill="#818e33"/><circle cx="374.8" cy="29.3" r=".6" fill="#818e33"/><circle cx="377.5" cy="31.1" r=".6" fill="#818e33"/><circle cx="377.2" cy="32.3" r=".6" fill="#818e33"/><circle cx="377.1" cy="32.9" r=".6" fill="#818e33"/><circle cx="377.1" cy="34.9" r=".6" fill="#818e33"/><circle cx="377.2" cy="36.3" r=".6" fill="#818e33"/><circle cx="373.5" cy="38.0" r=".6" fill="#818e33"/><circle cx="373.5" cy="38.8" r=".6" fill="#818e33"/><circle cx="377.7" cy="40.0" r=".6" fill="#818e33"/><circle cx="373.7" cy="43.4" r=".6" fill="#818e33"/><circle cx="378.4" cy="45.0" r=".6" fill="#818e33"/><circle cx="378.5" cy="45.8" r=".6" fill="#818e33"/><circle cx="374.2" cy="47.2" r=".6" fill="#818e33"/><circle cx="378.7" cy="47.2" r=".6" fill="#818e33"/><circle cx="378.9" cy="47.9" r=".6" fill="#818e33"/><circle cx="374.6" cy="49.5" r=".6" fill="#818e33"/><circle cx="379.1" cy="49.4" r=".6" fill="#818e33"/><circle cx="375.0" cy="51.8" r=".6" fill="#818f33"/><circle cx="376.2" cy="55.6" r=".6" fill="#818f33"/><circle cx="380.7" cy="54.8" r=".6" fill="#818f33"/><circle cx="377.3" cy="58.5" r=".6" fill="#818f33"/><circle cx="378.2" cy="60.6" r=".6" fill="#818f33"/><circle cx="383.9" cy="62.3" r=".6" fill="#818f33"/><circle cx="380.2" cy="65.3" r=".6" fill="#818f33"/><circle cx="384.7" cy="64.5" r=".6" fill="#818f33"/><circle cx="380.9" cy="67.3" r=".6" fill="#818f33"/><circle cx="381.0" cy="67.9" r=".6" fill="#829034"/><circle cx="385.6" cy="67.7" r=".6" fill="#829034"/><circle cx="381.2" cy="69.1" r=".6" fill="#829034"/><circle cx="380.5" cy="74.8" r=".6" fill="#829034"/><circle cx="384.2" cy="77.7" r=".6" fill="#829034"/><circle cx="379.5" cy="77.5" r=".6" fill="#829034"/><circle cx="379.2" cy="78.3" r=".6" fill="#829034"/><circle cx="378.7" cy="79.8" r=".6" fill="#829034"/><circle cx="382.8" cy="81.8" r=".6" fill="#829135"/><circle cx="382.6" cy="82.5" r=".6" fill="#829135"/><circle cx="378.1" cy="82.1" r=".6" fill="#829135"/><circle cx="377.7" cy="83.5" r=".6" fill="#829135"/><circle cx="376.7" cy="87.1" r=".6" fill="#829135"/><circle cx="376.5" cy="87.8" r=".6" fill="#829135"/><circle cx="380.3" cy="91.2" r=".6" fill="#829135"/>
<path d="M412.30,18.20 C412.18,18.42 411.72,19.28 411.60,19.50" stroke="#cbc57b" stroke-width="1.0" fill="none" stroke-linecap="round"/>
<circle cx="411.5" cy="19.8" r="1.6" fill="#c4be6a"/><circle cx="411.1" cy="20.4" r="1.2" fill="#c3bd69"/><circle cx="410.7" cy="21.1" r="1.1" fill="#c3bd69"/><circle cx="410.4" cy="21.7" r="1.1" fill="#c3bd69"/><circle cx="410.0" cy="22.4" r="1.5" fill="#c3bd69"/><circle cx="409.6" cy="23.0" r="1.6" fill="#c3bd69"/><circle cx="409.2" cy="23.7" r="1.5" fill="#c3bd69"/><circle cx="408.9" cy="24.3" r="1.7" fill="#c3bd69"/><circle cx="408.5" cy="25.0" r="1.7" fill="#c3bd69"/><circle cx="408.2" cy="25.7" r="1.9" fill="#c3bd69"/><circle cx="407.8" cy="26.3" r="1.6" fill="#c3bd69"/><circle cx="407.5" cy="27.0" r="1.9" fill="#c3bd69"/><circle cx="407.2" cy="27.7" r="1.8" fill="#c3bd69"/><circle cx="406.9" cy="28.4" r="2.2" fill="#c3bd69"/><circle cx="406.7" cy="29.1" r="2.0" fill="#c3bd69"/><circle cx="406.4" cy="29.8" r="2.2" fill="#c3bc69"/><circle cx="406.1" cy="30.5" r="1.9" fill="#c2bc68"/><circle cx="405.8" cy="31.2" r="2.1" fill="#c2bc68"/><circle cx="405.6" cy="31.9" r="1.8" fill="#c2bc68"/><circle cx="405.3" cy="32.6" r="1.8" fill="#c2bc68"/><circle cx="405.0" cy="33.3" r="2.2" fill="#c2bc68"/><circle cx="404.7" cy="34.0" r="2.0" fill="#c2bc68"/><circle cx="404.4" cy="34.7" r="2.4" fill="#c2bc68"/><circle cx="404.2" cy="35.4" r="1.9" fill="#c2bc68"/><circle cx="403.9" cy="36.1" r="2.5" fill="#c2bb68"/><circle cx="403.6" cy="36.8" r="2.6" fill="#c2bb68"/><circle cx="403.3" cy="37.4" r="2.6" fill="#c1bb67"/><circle cx="403.0" cy="38.1" r="2.2" fill="#c1bb67"/><circle cx="402.8" cy="38.8" r="2.5" fill="#c1bb67"/><circle cx="402.5" cy="39.5" r="2.5" fill="#c1bb67"/><circle cx="402.2" cy="40.3" r="2.6" fill="#c1bb67"/><circle cx="402.0" cy="41.0" r="2.4" fill="#c1ba67"/><circle cx="401.8" cy="41.7" r="2.2" fill="#c1ba67"/><circle cx="401.6" cy="42.4" r="2.4" fill="#c1ba67"/><circle cx="401.4" cy="43.1" r="2.5" fill="#c0ba66"/><circle cx="401.2" cy="43.8" r="2.2" fill="#c0ba66"/><circle cx="401.0" cy="44.6" r="2.4" fill="#c0ba66"/><circle cx="400.8" cy="45.3" r="2.8" fill="#c0ba66"/><circle cx="400.6" cy="46.0" r="2.2" fill="#c0b966"/><circle cx="400.5" cy="46.8" r="2.7" fill="#c0b966"/><circle cx="400.3" cy="47.5" r="2.3" fill="#c0b966"/><circle cx="400.2" cy="48.2" r="2.5" fill="#bfb965"/><circle cx="400.1" cy="49.0" r="2.2" fill="#bfb965"/><circle cx="400.0" cy="49.7" r="2.7" fill="#bfb865"/><circle cx="399.9" cy="50.5" r="2.6" fill="#bfb865"/><circle cx="399.8" cy="51.2" r="2.3" fill="#bfb865"/><circle cx="399.7" cy="52.0" r="2.3" fill="#bfb865"/><circle cx="399.6" cy="52.7" r="2.3" fill="#beb864"/><circle cx="399.5" cy="53.5" r="2.5" fill="#beb864"/><circle cx="399.5" cy="54.2" r="2.5" fill="#beb764"/><circle cx="399.4" cy="54.9" r="2.6" fill="#beb764"/><circle cx="399.3" cy="55.7" r="2.1" fill="#beb764"/><circle cx="399.2" cy="56.4" r="2.6" fill="#beb764"/><circle cx="399.2" cy="57.2" r="2.8" fill="#bdb763"/><circle cx="399.1" cy="57.9" r="2.4" fill="#bdb663"/><circle cx="399.1" cy="58.7" r="2.3" fill="#bdb663"/><circle cx="399.1" cy="59.4" r="2.5" fill="#bdb663"/><circle cx="399.1" cy="60.2" r="2.7" fill="#bdb663"/><circle cx="399.1" cy="60.9" r="2.4" fill="#bdb663"/><circle cx="399.1" cy="61.7" r="2.4" fill="#bcb562"/><circle cx="399.2" cy="62.4" r="2.3" fill="#bcb562"/><circle cx="399.4" cy="63.2" r="2.7" fill="#bcb562"/><circle cx="399.6" cy="63.9" r="2.3" fill="#bcb562"/><circle cx="399.9" cy="64.6" r="2.8" fill="#bcb562"/><circle cx="400.3" cy="65.2" r="2.5" fill="#bbb461"/><circle cx="400.7" cy="65.8" r="2.3" fill="#bbb461"/><circle cx="401.1" cy="66.4" r="2.3" fill="#bbb461"/><circle cx="401.5" cy="67.1" r="2.8" fill="#bbb461"/><circle cx="401.9" cy="67.7" r="2.7" fill="#bbb461"/><circle cx="402.3" cy="68.3" r="2.8" fill="#bab360"/><circle cx="402.7" cy="69.0" r="2.1" fill="#bab360"/><circle cx="403.2" cy="69.6" r="2.3" fill="#bab360"/><circle cx="403.7" cy="70.1" r="2.7" fill="#bab360"/><circle cx="404.2" cy="70.7" r="2.3" fill="#bab260"/><circle cx="404.7" cy="71.2" r="2.5" fill="#b9b25f"/><circle cx="405.2" cy="71.8" r="2.3" fill="#b9b25f"/><circle cx="405.8" cy="72.2" r="2.5" fill="#b9b25f"/><circle cx="406.4" cy="72.7" r="2.4" fill="#b9b25f"/><circle cx="407.0" cy="73.2" r="2.7" fill="#b9b15f"/><circle cx="407.6" cy="73.6" r="2.6" fill="#b8b15e"/><circle cx="408.2" cy="74.1" r="2.4" fill="#b8b15e"/><circle cx="408.8" cy="74.5" r="2.4" fill="#b8b15e"/><circle cx="409.4" cy="74.9" r="2.1" fill="#b8b05e"/><circle cx="410.0" cy="75.4" r="2.6" fill="#b8b05e"/><circle cx="410.6" cy="75.8" r="2.4" fill="#b7b05d"/><circle cx="411.3" cy="76.2" r="2.1" fill="#b7b05d"/><circle cx="411.9" cy="76.7" r="2.1" fill="#b7af5d"/><circle cx="412.5" cy="77.1" r="2.2" fill="#b7af5d"/><circle cx="413.0" cy="77.6" r="2.3" fill="#b6af5c"/><circle cx="413.6" cy="78.1" r="2.3" fill="#b6af5c"/><circle cx="414.1" cy="78.6" r="2.4" fill="#b6ae5c"/><circle cx="414.7" cy="79.2" r="2.5" fill="#b6ae5c"/><circle cx="415.1" cy="79.8" r="2.0" fill="#b6ae5c"/><circle cx="415.5" cy="80.4" r="1.9" fill="#b5ae5b"/><circle cx="415.9" cy="81.0" r="2.1" fill="#b5ad5b"/><circle cx="416.3" cy="81.7" r="2.0" fill="#b5ad5b"/><circle cx="416.7" cy="82.3" r="2.2" fill="#b5ad5b"/><circle cx="417.1" cy="83.0" r="2.3" fill="#b4ad5a"/><circle cx="417.4" cy="83.6" r="2.0" fill="#b4ac5a"/><circle cx="417.8" cy="84.3" r="2.1" fill="#b4ac5a"/><circle cx="418.1" cy="85.0" r="2.1" fill="#b4ac5a"/><circle cx="418.4" cy="85.6" r="1.6" fill="#b4ac5a"/>
<circle cx="411.2" cy="19.7" r=".55" fill="#7f7b44" opacity=".6"/><circle cx="410.7" cy="19.6" r=".45" fill="#d5d196" opacity=".5"/><circle cx="410.1" cy="21.2" r=".55" fill="#7e7a44" opacity=".6"/><circle cx="410.3" cy="20.9" r=".45" fill="#d5d096" opacity=".5"/><circle cx="410.9" cy="22.4" r=".55" fill="#7e7a44" opacity=".6"/><circle cx="411.0" cy="22.5" r=".45" fill="#d5d096" opacity=".5"/><circle cx="409.3" cy="24.0" r=".55" fill="#7e7a44" opacity=".6"/><circle cx="408.6" cy="24.1" r=".45" fill="#d5d096" opacity=".5"/><circle cx="408.3" cy="24.6" r=".55" fill="#7e7a44" opacity=".6"/><circle cx="408.7" cy="24.6" r=".45" fill="#d5d096" opacity=".5"/><circle cx="408.0" cy="26.5" r=".55" fill="#7e7a44" opacity=".6"/><circle cx="408.4" cy="26.5" r=".45" fill="#d5d096" opacity=".5"/><circle cx="406.0" cy="27.2" r=".55" fill="#7e7a44" opacity=".6"/><circle cx="407.8" cy="27.8" r=".45" fill="#d5d096" opacity=".5"/><circle cx="407.7" cy="29.0" r=".55" fill="#7e7a44" opacity=".6"/><circle cx="405.6" cy="28.6" r=".45" fill="#d5d096" opacity=".5"/><circle cx="404.8" cy="30.2" r=".55" fill="#7e7a43" opacity=".6"/><circle cx="406.8" cy="30.6" r=".45" fill="#d4d095" opacity=".5"/><circle cx="406.6" cy="32.3" r=".55" fill="#7e7a43" opacity=".6"/><circle cx="405.6" cy="31.5" r=".45" fill="#d4d095" opacity=".5"/><circle cx="404.1" cy="33.4" r=".55" fill="#7e7a43" opacity=".6"/><circle cx="404.0" cy="33.3" r=".45" fill="#d4d095" opacity=".5"/><circle cx="404.5" cy="34.2" r=".55" fill="#7e7a43" opacity=".6"/><circle cx="403.2" cy="35.1" r=".45" fill="#d4d095" opacity=".5"/><circle cx="403.8" cy="36.0" r=".55" fill="#7e7943" opacity=".6"/><circle cx="403.7" cy="36.4" r=".45" fill="#d4cf95" opacity=".5"/><circle cx="403.8" cy="37.6" r=".55" fill="#7d7942" opacity=".6"/><circle cx="403.6" cy="37.1" r=".45" fill="#d3cf94" opacity=".5"/><circle cx="401.9" cy="38.6" r=".55" fill="#7d7942" opacity=".6"/><circle cx="401.2" cy="39.0" r=".45" fill="#d3cf94" opacity=".5"/><circle cx="403.5" cy="40.7" r=".55" fill="#7d7942" opacity=".6"/><circle cx="400.8" cy="39.9" r=".45" fill="#d3cf94" opacity=".5"/><circle cx="402.2" cy="41.2" r=".55" fill="#7d7842" opacity=".6"/><circle cx="400.8" cy="41.6" r=".45" fill="#d3ce94" opacity=".5"/><circle cx="402.3" cy="42.7" r=".55" fill="#7c7842" opacity=".6"/><circle cx="399.8" cy="42.9" r=".45" fill="#d2ce93" opacity=".5"/><circle cx="400.0" cy="44.2" r=".55" fill="#7c7842" opacity=".6"/><circle cx="401.3" cy="44.2" r=".45" fill="#d2ce93" opacity=".5"/><circle cx="398.9" cy="46.4" r=".55" fill="#7c7842" opacity=".6"/><circle cx="400.5" cy="46.0" r=".45" fill="#d2ce93" opacity=".5"/><circle cx="399.5" cy="47.9" r=".55" fill="#7c7842" opacity=".6"/><circle cx="402.0" cy="47.1" r=".45" fill="#d2ce93" opacity=".5"/><circle cx="400.7" cy="49.2" r=".55" fill="#7c7841" opacity=".6"/><circle cx="400.4" cy="48.9" r=".45" fill="#d2ce93" opacity=".5"/><circle cx="399.6" cy="50.7" r=".55" fill="#7c7741" opacity=".6"/><circle cx="398.3" cy="50.8" r=".45" fill="#d2cd93" opacity=".5"/><circle cx="398.3" cy="51.6" r=".55" fill="#7c7741" opacity=".6"/><circle cx="399.3" cy="51.5" r=".45" fill="#d2cd93" opacity=".5"/><circle cx="400.9" cy="53.3" r=".55" fill="#7b7741" opacity=".6"/><circle cx="399.1" cy="53.3" r=".45" fill="#d1cd92" opacity=".5"/><circle cx="400.7" cy="54.8" r=".55" fill="#7b7641" opacity=".6"/><circle cx="399.9" cy="55.4" r=".45" fill="#d1cc92" opacity=".5"/><circle cx="399.0" cy="56.8" r=".55" fill="#7b7641" opacity=".6"/><circle cx="399.4" cy="56.3" r=".45" fill="#d1cc92" opacity=".5"/><circle cx="399.0" cy="57.8" r=".55" fill="#7a7640" opacity=".6"/><circle cx="398.9" cy="57.7" r=".45" fill="#d0cb91" opacity=".5"/><circle cx="397.4" cy="59.7" r=".55" fill="#7a7640" opacity=".6"/><circle cx="398.2" cy="59.1" r=".45" fill="#d0cb91" opacity=".5"/><circle cx="398.0" cy="61.0" r=".55" fill="#7a7640" opacity=".6"/><circle cx="400.1" cy="61.0" r=".45" fill="#d0cb91" opacity=".5"/><circle cx="399.1" cy="62.7" r=".55" fill="#7a753f" opacity=".6"/><circle cx="398.3" cy="62.3" r=".45" fill="#d0cb91" opacity=".5"/><circle cx="398.6" cy="63.8" r=".55" fill="#7a753f" opacity=".6"/><circle cx="400.0" cy="63.9" r=".45" fill="#d0cb91" opacity=".5"/><circle cx="399.6" cy="65.2" r=".55" fill="#79753f" opacity=".6"/><circle cx="399.3" cy="65.6" r=".45" fill="#cfca90" opacity=".5"/><circle cx="401.7" cy="66.9" r=".55" fill="#79753f" opacity=".6"/><circle cx="402.8" cy="66.5" r=".45" fill="#cfca90" opacity=".5"/><circle cx="401.7" cy="68.2" r=".55" fill="#79753f" opacity=".6"/><circle cx="402.0" cy="67.6" r=".45" fill="#cfca90" opacity=".5"/><circle cx="402.8" cy="68.6" r=".55" fill="#78743e" opacity=".6"/><circle cx="403.6" cy="69.1" r=".45" fill="#cec98f" opacity=".5"/><circle cx="402.3" cy="70.5" r=".55" fill="#78743e" opacity=".6"/><circle cx="404.5" cy="70.4" r=".45" fill="#cec98f" opacity=".5"/><circle cx="403.1" cy="71.5" r=".55" fill="#78733d" opacity=".6"/><circle cx="403.5" cy="70.7" r=".45" fill="#cec98f" opacity=".5"/><circle cx="406.5" cy="72.4" r=".55" fill="#78733d" opacity=".6"/><circle cx="406.8" cy="72.0" r=".45" fill="#cec98f" opacity=".5"/><circle cx="405.9" cy="73.6" r=".55" fill="#78733d" opacity=".6"/><circle cx="405.5" cy="73.6" r=".45" fill="#cec88f" opacity=".5"/><circle cx="409.2" cy="74.3" r=".55" fill="#77733d" opacity=".6"/><circle cx="407.1" cy="74.3" r=".45" fill="#cdc88e" opacity=".5"/><circle cx="408.0" cy="74.7" r=".55" fill="#77723d" opacity=".6"/><circle cx="410.5" cy="74.8" r=".45" fill="#cdc78e" opacity=".5"/><circle cx="410.1" cy="76.1" r=".55" fill="#76723c" opacity=".6"/><circle cx="410.5" cy="75.9" r=".45" fill="#ccc78d" opacity=".5"/><circle cx="412.3" cy="77.0" r=".55" fill="#76713c" opacity=".6"/><circle cx="413.4" cy="76.4" r=".45" fill="#ccc78d" opacity=".5"/><circle cx="412.6" cy="77.9" r=".55" fill="#76713b" opacity=".6"/><circle cx="413.7" cy="78.0" r=".45" fill="#cbc78c" opacity=".5"/><circle cx="412.5" cy="78.8" r=".55" fill="#76713b" opacity=".6"/><circle cx="414.0" cy="79.1" r=".45" fill="#cbc68c" opacity=".5"/><circle cx="414.8" cy="80.2" r=".55" fill="#76713b" opacity=".6"/><circle cx="413.7" cy="79.5" r=".45" fill="#cbc68c" opacity=".5"/><circle cx="415.1" cy="81.1" r=".55" fill="#75703b" opacity=".6"/><circle cx="415.0" cy="81.2" r=".45" fill="#cbc58c" opacity=".5"/><circle cx="416.4" cy="82.4" r=".55" fill="#75703b" opacity=".6"/><circle cx="416.5" cy="82.6" r=".45" fill="#cbc58c" opacity=".5"/><circle cx="416.2" cy="83.9" r=".55" fill="#756f3a" opacity=".6"/><circle cx="417.6" cy="83.8" r=".45" fill="#cac48b" opacity=".5"/><circle cx="419.6" cy="85.0" r=".55" fill="#756f3a" opacity=".6"/><circle cx="417.2" cy="85.0" r=".45" fill="#cac48b" opacity=".5"/><circle cx="410.3" cy="19.1" r=".6" fill="#a6a15a"/><circle cx="409.9" cy="19.7" r=".6" fill="#a5a059"/><circle cx="412.0" cy="21.8" r=".6" fill="#a5a059"/><circle cx="409.1" cy="21.0" r=".6" fill="#a5a059"/><circle cx="411.3" cy="23.1" r=".6" fill="#a5a059"/><circle cx="410.9" cy="23.8" r=".6" fill="#a5a059"/><circle cx="407.1" cy="24.2" r=".6" fill="#a5a059"/><circle cx="409.7" cy="26.4" r=".6" fill="#a5a059"/><circle cx="409.1" cy="27.7" r=".6" fill="#a5a059"/><circle cx="404.9" cy="28.4" r=".6" fill="#a5a059"/><circle cx="404.0" cy="30.5" r=".6" fill="#a49f58"/><circle cx="407.4" cy="32.6" r=".6" fill="#a49f58"/><circle cx="406.9" cy="34.1" r=".6" fill="#a49f58"/><circle cx="402.1" cy="34.5" r=".6" fill="#a49f58"/><circle cx="405.4" cy="38.3" r=".6" fill="#a49e57"/><circle cx="405.2" cy="39.0" r=".6" fill="#a49e57"/><circle cx="405.0" cy="39.7" r=".6" fill="#a49e57"/><circle cx="399.0" cy="42.4" r=".6" fill="#a39e56"/><circle cx="398.4" cy="44.8" r=".6" fill="#a39e56"/><circle cx="398.1" cy="46.3" r=".6" fill="#a39d56"/><circle cx="402.6" cy="48.6" r=".6" fill="#a29d55"/><circle cx="397.6" cy="49.4" r=".6" fill="#a29c55"/><circle cx="402.3" cy="50.8" r=".6" fill="#a29c55"/><circle cx="402.2" cy="51.5" r=".6" fill="#a29c55"/><circle cx="397.3" cy="51.7" r=".6" fill="#a29c55"/><circle cx="397.2" cy="52.4" r=".6" fill="#a19c55"/><circle cx="402.0" cy="53.7" r=".6" fill="#a19c55"/><circle cx="401.9" cy="54.5" r=".6" fill="#a19b55"/><circle cx="396.6" cy="58.6" r=".6" fill="#a09a54"/><circle cx="401.5" cy="59.5" r=".6" fill="#a09a54"/><circle cx="397.7" cy="65.7" r=".6" fill="#9f9953"/><circle cx="398.7" cy="67.2" r=".6" fill="#9e9952"/><circle cx="404.7" cy="67.5" r=".6" fill="#9e9851"/><circle cx="403.0" cy="73.0" r=".6" fill="#9d9750"/><circle cx="406.9" cy="69.9" r=".6" fill="#9d9750"/><circle cx="408.5" cy="71.2" r=".6" fill="#9d9650"/><circle cx="410.2" cy="72.5" r=".6" fill="#9c964f"/><circle cx="408.6" cy="77.4" r=".6" fill="#9c954f"/><circle cx="409.2" cy="77.8" r=".6" fill="#9b954f"/><circle cx="410.4" cy="78.6" r=".6" fill="#9b944f"/><circle cx="411.9" cy="79.9" r=".6" fill="#9a944e"/><circle cx="412.4" cy="80.3" r=".6" fill="#9a934e"/><circle cx="413.5" cy="81.7" r=".6" fill="#99934d"/><circle cx="418.0" cy="79.8" r=".6" fill="#99934d"/><circle cx="419.9" cy="83.2" r=".6" fill="#99924c"/>
<path d="M433.10,12.00 C432.97,12.92 432.43,16.58 432.30,17.50" stroke="#d2cb84" stroke-width="1.0" fill="none" stroke-linecap="round"/>
<circle cx="431.6" cy="20.0" r="1.3" fill="#ccc474"/><circle cx="431.3" cy="20.7" r="1.6" fill="#cbc373"/><circle cx="431.0" cy="21.4" r="1.5" fill="#cbc373"/><circle cx="430.7" cy="22.1" r="2.0" fill="#cbc373"/><circle cx="430.4" cy="22.8" r="1.9" fill="#cbc373"/><circle cx="430.1" cy="23.5" r="1.7" fill="#cbc373"/><circle cx="429.8" cy="24.1" r="1.6" fill="#cbc373"/><circle cx="429.5" cy="24.8" r="1.7" fill="#cbc373"/><circle cx="429.2" cy="25.5" r="1.5" fill="#cbc373"/><circle cx="428.9" cy="26.2" r="2.0" fill="#cbc373"/><circle cx="428.6" cy="26.9" r="2.2" fill="#cbc373"/><circle cx="428.3" cy="27.6" r="2.0" fill="#cbc373"/><circle cx="428.0" cy="28.2" r="1.7" fill="#cbc373"/><circle cx="427.7" cy="28.9" r="1.7" fill="#cbc373"/><circle cx="427.3" cy="29.6" r="1.8" fill="#cbc373"/><circle cx="427.0" cy="30.3" r="2.3" fill="#cbc373"/><circle cx="426.7" cy="30.9" r="2.4" fill="#cbc373"/><circle cx="426.4" cy="31.6" r="1.9" fill="#cbc373"/><circle cx="426.0" cy="32.3" r="1.9" fill="#cbc373"/><circle cx="425.7" cy="33.0" r="2.6" fill="#cbc373"/><circle cx="425.4" cy="33.7" r="2.1" fill="#cbc373"/><circle cx="425.1" cy="34.3" r="2.5" fill="#cbc373"/><circle cx="424.7" cy="35.0" r="2.3" fill="#cbc373"/><circle cx="424.4" cy="35.7" r="2.1" fill="#cbc273"/><circle cx="424.1" cy="36.3" r="2.7" fill="#cbc273"/><circle cx="423.8" cy="37.0" r="2.6" fill="#cbc273"/><circle cx="423.4" cy="37.7" r="2.6" fill="#cbc273"/><circle cx="423.1" cy="38.4" r="2.6" fill="#cbc273"/><circle cx="422.9" cy="39.1" r="2.7" fill="#cbc272"/><circle cx="422.6" cy="39.8" r="2.7" fill="#cbc172"/><circle cx="422.3" cy="40.5" r="2.7" fill="#cbc172"/><circle cx="422.1" cy="41.2" r="2.8" fill="#cbc172"/><circle cx="421.8" cy="41.9" r="2.8" fill="#cbc172"/><circle cx="421.6" cy="42.6" r="2.5" fill="#cbc072"/><circle cx="421.4" cy="43.3" r="2.7" fill="#cbc072"/><circle cx="421.2" cy="44.1" r="2.8" fill="#cbc071"/><circle cx="421.0" cy="44.8" r="2.5" fill="#cbbf71"/><circle cx="420.9" cy="45.5" r="3.0" fill="#cbbf71"/><circle cx="420.8" cy="46.3" r="2.9" fill="#cabf71"/><circle cx="420.7" cy="47.0" r="2.6" fill="#cabe71"/><circle cx="420.6" cy="47.8" r="2.9" fill="#cabe70"/><circle cx="420.6" cy="48.5" r="2.8" fill="#cabe70"/><circle cx="420.6" cy="49.3" r="2.7" fill="#cabd70"/><circle cx="420.5" cy="50.0" r="2.7" fill="#cabd70"/><circle cx="420.5" cy="50.8" r="2.9" fill="#cabc6f"/><circle cx="420.5" cy="51.5" r="2.5" fill="#cabc6f"/><circle cx="420.5" cy="52.3" r="3.0" fill="#cabb6f"/><circle cx="420.5" cy="53.0" r="2.8" fill="#caba6e"/><circle cx="420.5" cy="53.8" r="2.8" fill="#c9ba6e"/><circle cx="420.5" cy="54.5" r="3.0" fill="#c9b96e"/><circle cx="420.5" cy="55.3" r="2.6" fill="#c9b96d"/><circle cx="420.5" cy="56.0" r="2.9" fill="#c9b86d"/><circle cx="420.5" cy="56.8" r="2.9" fill="#c9b76d"/><circle cx="420.6" cy="57.5" r="2.5" fill="#c9b76c"/><circle cx="420.6" cy="58.3" r="2.8" fill="#c9b66c"/><circle cx="420.7" cy="59.0" r="2.8" fill="#c8b56b"/><circle cx="420.7" cy="59.8" r="3.1" fill="#c8b46b"/><circle cx="420.8" cy="60.5" r="2.7" fill="#c8b36a"/><circle cx="421.0" cy="61.2" r="2.6" fill="#c8b36a"/><circle cx="421.2" cy="62.0" r="2.7" fill="#c8b269"/><circle cx="421.4" cy="62.7" r="2.6" fill="#c7b169"/><circle cx="421.7" cy="63.3" r="2.6" fill="#c7b068"/><circle cx="422.1" cy="64.0" r="3.1" fill="#c7af68"/><circle cx="422.4" cy="64.7" r="2.5" fill="#c7ae67"/><circle cx="422.7" cy="65.4" r="2.9" fill="#c7ad67"/><circle cx="423.0" cy="66.1" r="2.6" fill="#c6ac66"/><circle cx="423.4" cy="66.7" r="3.0" fill="#c6ab65"/><circle cx="423.8" cy="67.4" r="2.9" fill="#c6a965"/><circle cx="424.1" cy="68.0" r="2.5" fill="#c6a864"/><circle cx="424.5" cy="68.7" r="2.9" fill="#c5a763"/><circle cx="424.9" cy="69.3" r="2.9" fill="#c5a663"/><circle cx="425.2" cy="70.0" r="2.6" fill="#c5a462"/><circle cx="425.5" cy="70.7" r="2.7" fill="#c4a361"/><circle cx="425.8" cy="71.4" r="2.8" fill="#c4a260"/><circle cx="426.0" cy="72.1" r="2.9" fill="#c4a060"/><circle cx="426.2" cy="72.8" r="2.9" fill="#c49f5f"/><circle cx="426.5" cy="73.5" r="3.0" fill="#c39d5e"/><circle cx="426.7" cy="74.2" r="2.8" fill="#c39c5d"/><circle cx="426.9" cy="75.0" r="3.0" fill="#c39a5c"/><circle cx="427.1" cy="75.7" r="2.9" fill="#c2995b"/><circle cx="427.3" cy="76.4" r="3.0" fill="#c2975a"/><circle cx="427.5" cy="77.1" r="2.5" fill="#c19559"/><circle cx="427.7" cy="77.9" r="2.8" fill="#c19458"/><circle cx="427.9" cy="78.6" r="2.8" fill="#c19257"/><circle cx="428.0" cy="79.3" r="3.0" fill="#c09056"/><circle cx="428.2" cy="80.0" r="3.1" fill="#c08e55"/><circle cx="428.4" cy="80.8" r="2.8" fill="#c08c54"/><circle cx="428.5" cy="81.5" r="3.1" fill="#bf8a53"/><circle cx="428.7" cy="82.2" r="2.7" fill="#bf8852"/><circle cx="428.8" cy="83.0" r="2.6" fill="#be8651"/><circle cx="428.9" cy="83.7" r="2.7" fill="#be8450"/><circle cx="429.0" cy="84.5" r="2.6" fill="#bd824f"/><circle cx="429.1" cy="85.2" r="2.8" fill="#bd804d"/><circle cx="429.2" cy="86.0" r="2.3" fill="#bc7e4c"/><circle cx="429.2" cy="86.7" r="2.4" fill="#bc7b4b"/><circle cx="429.2" cy="87.5" r="2.1" fill="#bb7949"/><circle cx="429.2" cy="88.2" r="2.2" fill="#bb7748"/><circle cx="429.2" cy="89.0" r="2.4" fill="#ba7447"/><circle cx="429.2" cy="89.7" r="2.2" fill="#ba7245"/><circle cx="429.1" cy="90.5" r="1.9" fill="#b96f44"/><circle cx="429.1" cy="91.2" r="1.8" fill="#b96d42"/><circle cx="429.1" cy="92.0" r="2.2" fill="#b86a41"/><circle cx="429.0" cy="92.7" r="2.4" fill="#b86840"/>
<circle cx="431.5" cy="19.6" r=".55" fill="#847f4b" opacity=".6"/><circle cx="430.8" cy="20.4" r=".45" fill="#dbd59d" opacity=".5"/><circle cx="430.1" cy="21.9" r=".55" fill="#837e4a" opacity=".6"/><circle cx="430.3" cy="21.0" r=".45" fill="#dad59d" opacity=".5"/><circle cx="431.0" cy="22.6" r=".55" fill="#837e4a" opacity=".6"/><circle cx="430.1" cy="23.1" r=".45" fill="#dad59d" opacity=".5"/><circle cx="430.6" cy="24.4" r=".55" fill="#837e4a" opacity=".6"/><circle cx="428.6" cy="23.9" r=".45" fill="#dad59d" opacity=".5"/><circle cx="428.6" cy="25.5" r=".55" fill="#837e4a" opacity=".6"/><circle cx="429.3" cy="25.4" r=".45" fill="#dad59d" opacity=".5"/><circle cx="428.6" cy="27.2" r=".55" fill="#837e4a" opacity=".6"/><circle cx="428.2" cy="26.7" r=".45" fill="#dad59d" opacity=".5"/><circle cx="427.5" cy="28.3" r=".55" fill="#837e4a" opacity=".6"/><circle cx="426.7" cy="28.7" r=".45" fill="#dad59d" opacity=".5"/><circle cx="426.6" cy="29.4" r=".55" fill="#837e4a" opacity=".6"/><circle cx="427.9" cy="29.1" r=".45" fill="#dad59d" opacity=".5"/><circle cx="428.2" cy="30.9" r=".55" fill="#837e4a" opacity=".6"/><circle cx="427.6" cy="30.9" r=".45" fill="#dad59d" opacity=".5"/><circle cx="424.7" cy="32.1" r=".55" fill="#837e4a" opacity=".6"/><circle cx="424.9" cy="32.7" r=".45" fill="#dad59d" opacity=".5"/><circle cx="426.6" cy="33.8" r=".55" fill="#837e4a" opacity=".6"/><circle cx="426.5" cy="33.7" r=".45" fill="#dad59d" opacity=".5"/><circle cx="423.9" cy="35.5" r=".55" fill="#837e4a" opacity=".6"/><circle cx="425.6" cy="34.8" r=".45" fill="#dad59d" opacity=".5"/><circle cx="423.9" cy="35.9" r=".55" fill="#837e4a" opacity=".6"/><circle cx="425.8" cy="36.3" r=".45" fill="#dad49d" opacity=".5"/><circle cx="423.4" cy="37.2" r=".55" fill="#837e4a" opacity=".6"/><circle cx="424.7" cy="37.3" r=".45" fill="#dad49d" opacity=".5"/><circle cx="423.3" cy="39.2" r=".55" fill="#837e4a" opacity=".6"/><circle cx="423.2" cy="39.4" r=".45" fill="#dad49c" opacity=".5"/><circle cx="424.1" cy="40.7" r=".55" fill="#837d4a" opacity=".6"/><circle cx="422.1" cy="40.2" r=".45" fill="#dad39c" opacity=".5"/><circle cx="423.6" cy="41.9" r=".55" fill="#837d4a" opacity=".6"/><circle cx="421.3" cy="41.9" r=".45" fill="#dad39c" opacity=".5"/><circle cx="420.6" cy="43.0" r=".55" fill="#837c4a" opacity=".6"/><circle cx="421.8" cy="43.0" r=".45" fill="#dad29c" opacity=".5"/><circle cx="422.2" cy="45.0" r=".55" fill="#837c49" opacity=".6"/><circle cx="420.4" cy="44.8" r=".45" fill="#dad29b" opacity=".5"/><circle cx="422.5" cy="46.1" r=".55" fill="#837c49" opacity=".6"/><circle cx="420.2" cy="46.3" r=".45" fill="#d9d29b" opacity=".5"/><circle cx="419.6" cy="47.5" r=".55" fill="#837b48" opacity=".6"/><circle cx="422.1" cy="47.9" r=".45" fill="#d9d19a" opacity=".5"/><circle cx="421.1" cy="49.5" r=".55" fill="#837a48" opacity=".6"/><circle cx="419.2" cy="49.1" r=".45" fill="#d9d09a" opacity=".5"/><circle cx="418.8" cy="51.3" r=".55" fill="#837a48" opacity=".6"/><circle cx="420.0" cy="50.8" r=".45" fill="#d9d09a" opacity=".5"/><circle cx="420.8" cy="51.9" r=".55" fill="#837948" opacity=".6"/><circle cx="421.2" cy="52.7" r=".45" fill="#d9cf9a" opacity=".5"/><circle cx="422.0" cy="53.4" r=".55" fill="#827847" opacity=".6"/><circle cx="419.3" cy="53.7" r=".45" fill="#d9ce99" opacity=".5"/><circle cx="420.8" cy="54.9" r=".55" fill="#827846" opacity=".6"/><circle cx="421.6" cy="55.6" r=".45" fill="#d9ce98" opacity=".5"/><circle cx="419.5" cy="57.1" r=".55" fill="#827646" opacity=".6"/><circle cx="419.2" cy="56.3" r=".45" fill="#d9cc98" opacity=".5"/><circle cx="422.4" cy="58.1" r=".55" fill="#827646" opacity=".6"/><circle cx="420.1" cy="58.6" r=".45" fill="#d9cb98" opacity=".5"/><circle cx="419.8" cy="60.1" r=".55" fill="#827545" opacity=".6"/><circle cx="421.6" cy="59.6" r=".45" fill="#d8ca97" opacity=".5"/><circle cx="421.8" cy="61.4" r=".55" fill="#827444" opacity=".6"/><circle cx="422.5" cy="61.5" r=".45" fill="#d8c996" opacity=".5"/><circle cx="421.4" cy="63.1" r=".55" fill="#817344" opacity=".6"/><circle cx="422.6" cy="63.2" r=".45" fill="#d7c896" opacity=".5"/><circle cx="420.7" cy="63.7" r=".55" fill="#817143" opacity=".6"/><circle cx="423.6" cy="64.2" r=".45" fill="#d7c795" opacity=".5"/><circle cx="422.3" cy="65.3" r=".55" fill="#817042" opacity=".6"/><circle cx="423.7" cy="65.8" r=".45" fill="#d7c594" opacity=".5"/><circle cx="423.7" cy="66.4" r=".55" fill="#806f41" opacity=".6"/><circle cx="424.2" cy="66.5" r=".45" fill="#d7c493" opacity=".5"/><circle cx="424.4" cy="68.2" r=".55" fill="#806d41" opacity=".6"/><circle cx="425.9" cy="67.6" r=".45" fill="#d7c292" opacity=".5"/><circle cx="423.7" cy="69.8" r=".55" fill="#806b40" opacity=".6"/><circle cx="425.2" cy="69.1" r=".45" fill="#d6c091" opacity=".5"/><circle cx="424.9" cy="70.7" r=".55" fill="#7f693f" opacity=".6"/><circle cx="427.3" cy="70.9" r=".45" fill="#d5be90" opacity=".5"/><circle cx="426.9" cy="72.5" r=".55" fill="#7f683e" opacity=".6"/><circle cx="427.3" cy="71.9" r=".45" fill="#d5bc8f" opacity=".5"/><circle cx="425.2" cy="73.9" r=".55" fill="#7e663d" opacity=".6"/><circle cx="426.6" cy="73.8" r=".45" fill="#d5ba8e" opacity=".5"/><circle cx="427.4" cy="74.7" r=".55" fill="#7e643b" opacity=".6"/><circle cx="425.0" cy="74.5" r=".45" fill="#d5b88c" opacity=".5"/><circle cx="427.1" cy="76.8" r=".55" fill="#7e623a" opacity=".6"/><circle cx="426.5" cy="76.4" r=".45" fill="#d4b68b" opacity=".5"/><circle cx="426.1" cy="77.6" r=".55" fill="#7d6039" opacity=".6"/><circle cx="426.0" cy="77.5" r=".45" fill="#d3b48a" opacity=".5"/><circle cx="426.3" cy="78.9" r=".55" fill="#7c5d37" opacity=".6"/><circle cx="429.3" cy="79.4" r=".45" fill="#d2b188" opacity=".5"/><circle cx="429.2" cy="80.3" r=".55" fill="#7c5b36" opacity=".6"/><circle cx="427.5" cy="80.9" r=".45" fill="#d2ae87" opacity=".5"/><circle cx="426.8" cy="82.1" r=".55" fill="#7c5835" opacity=".6"/><circle cx="426.9" cy="82.1" r=".45" fill="#d2ab85" opacity=".5"/><circle cx="430.4" cy="83.2" r=".55" fill="#7b5534" opacity=".6"/><circle cx="428.9" cy="83.8" r=".45" fill="#d1a884" opacity=".5"/><circle cx="430.3" cy="84.9" r=".55" fill="#7a5332" opacity=".6"/><circle cx="430.5" cy="85.5" r=".45" fill="#d0a682" opacity=".5"/><circle cx="427.6" cy="86.8" r=".55" fill="#7a4f30" opacity=".6"/><circle cx="430.3" cy="87.2" r=".45" fill="#d0a281" opacity=".5"/><circle cx="428.8" cy="88.6" r=".55" fill="#794d2e" opacity=".6"/><circle cx="430.7" cy="87.7" r=".45" fill="#cf9f7e" opacity=".5"/><circle cx="428.5" cy="89.9" r=".55" fill="#784a2c" opacity=".6"/><circle cx="428.5" cy="89.6" r=".45" fill="#ce9c7c" opacity=".5"/><circle cx="429.9" cy="91.5" r=".55" fill="#78462a" opacity=".6"/><circle cx="427.8" cy="90.7" r=".45" fill="#ce987a" opacity=".5"/><circle cx="427.9" cy="92.7" r=".55" fill="#774329" opacity=".6"/><circle cx="430.3" cy="92.6" r=".45" fill="#cd9579" opacity=".5"/><circle cx="432.5" cy="22.0" r=".6" fill="#aca561"/><circle cx="429.2" cy="21.4" r=".6" fill="#aca561"/><circle cx="428.6" cy="22.8" r=".6" fill="#aca561"/><circle cx="428.2" cy="23.4" r=".6" fill="#aca561"/><circle cx="427.9" cy="24.1" r=".6" fill="#aca561"/><circle cx="427.6" cy="24.8" r=".6" fill="#aca561"/><circle cx="427.2" cy="25.4" r=".6" fill="#aca561"/><circle cx="425.8" cy="28.0" r=".6" fill="#aca561"/><circle cx="425.1" cy="29.3" r=".6" fill="#aca561"/><circle cx="428.6" cy="31.9" r=".6" fill="#aca561"/><circle cx="428.3" cy="32.6" r=".6" fill="#aca561"/><circle cx="427.8" cy="34.0" r=".6" fill="#aca561"/><circle cx="427.5" cy="34.7" r=".6" fill="#aca561"/><circle cx="426.9" cy="36.1" r=".6" fill="#aca561"/><circle cx="426.6" cy="36.7" r=".6" fill="#aca461"/><circle cx="421.8" cy="35.3" r=".6" fill="#aca461"/><circle cx="426.0" cy="38.1" r=".6" fill="#aca461"/><circle cx="425.5" cy="39.4" r=".6" fill="#aca461"/><circle cx="420.4" cy="38.1" r=".6" fill="#aca460"/><circle cx="420.1" cy="38.8" r=".6" fill="#aca460"/><circle cx="424.4" cy="42.8" r=".6" fill="#aca460"/><circle cx="424.2" cy="43.4" r=".6" fill="#aca360"/><circle cx="418.5" cy="43.4" r=".6" fill="#aca360"/><circle cx="418.3" cy="44.3" r=".6" fill="#aca260"/><circle cx="418.1" cy="45.9" r=".6" fill="#aba260"/><circle cx="418.0" cy="46.8" r=".6" fill="#aba160"/><circle cx="423.4" cy="48.0" r=".6" fill="#aba15f"/><circle cx="423.3" cy="50.1" r=".6" fill="#aba05f"/><circle cx="417.7" cy="52.2" r=".6" fill="#ab9e5e"/><circle cx="423.2" cy="53.8" r=".6" fill="#aa9e5d"/><circle cx="423.2" cy="54.5" r=".6" fill="#aa9d5d"/><circle cx="417.8" cy="56.1" r=".6" fill="#aa9c5c"/><circle cx="423.3" cy="56.7" r=".6" fill="#aa9b5c"/><circle cx="417.8" cy="57.6" r=".6" fill="#aa9b5b"/><circle cx="423.5" cy="59.4" r=".6" fill="#aa995a"/><circle cx="418.3" cy="61.9" r=".6" fill="#aa985a"/><circle cx="419.2" cy="64.5" r=".6" fill="#a99558"/><circle cx="419.9" cy="65.8" r=".6" fill="#a99357"/><circle cx="420.6" cy="67.3" r=".6" fill="#a89256"/><circle cx="425.8" cy="65.4" r=".6" fill="#a89155"/><circle cx="426.5" cy="66.6" r=".6" fill="#a88e55"/><circle cx="426.9" cy="67.3" r=".6" fill="#a78d54"/><circle cx="422.4" cy="70.6" r=".6" fill="#a78d54"/><circle cx="428.3" cy="70.4" r=".6" fill="#a68951"/><circle cx="423.6" cy="73.6" r=".6" fill="#a68750"/><circle cx="429.1" cy="72.7" r=".6" fill="#a5854f"/><circle cx="429.3" cy="73.5" r=".6" fill="#a5844f"/><circle cx="429.5" cy="74.2" r=".6" fill="#a5824e"/><circle cx="429.9" cy="75.7" r=".6" fill="#a4804c"/><circle cx="430.1" cy="76.4" r=".6" fill="#a47e4b"/><circle cx="430.3" cy="77.2" r=".6" fill="#a47d4a"/><circle cx="425.2" cy="79.2" r=".6" fill="#a47c49"/><circle cx="431.1" cy="80.2" r=".6" fill="#a37747"/><circle cx="431.2" cy="80.9" r=".6" fill="#a27546"/><circle cx="431.5" cy="82.5" r=".6" fill="#a17144"/><circle cx="431.7" cy="83.3" r=".6" fill="#a17044"/><circle cx="426.3" cy="84.8" r=".6" fill="#a06e43"/><circle cx="431.9" cy="85.0" r=".6" fill="#a06c41"/><circle cx="432.0" cy="87.4" r=".6" fill="#9e663e"/><circle cx="426.5" cy="88.2" r=".6" fill="#9e653d"/><circle cx="432.0" cy="89.0" r=".6" fill="#9e623c"/><circle cx="426.3" cy="91.8" r=".6" fill="#9c5a37"/><circle cx="426.3" cy="92.6" r=".6" fill="#9c5836"/>
<path d="M456.80,14.10 C456.25,14.67 454.53,16.55 453.50,17.50 C452.47,18.45 451.08,19.42 450.60,19.80" stroke="#b9a665" stroke-width="1.0" fill="none" stroke-linecap="round"/>
<circle cx="450.4" cy="20.6" r="1.4" fill="#b09a50"/><circle cx="450.0" cy="21.2" r="1.5" fill="#b0994f"/><circle cx="449.5" cy="21.8" r="1.3" fill="#b0994f"/><circle cx="449.1" cy="22.4" r="1.6" fill="#b0994f"/><circle cx="448.7" cy="23.1" r="1.6" fill="#b0994f"/><circle cx="448.3" cy="23.7" r="1.6" fill="#b0994f"/><circle cx="447.9" cy="24.3" r="1.7" fill="#b0994f"/><circle cx="447.5" cy="25.0" r="2.2" fill="#b0994f"/><circle cx="447.2" cy="25.6" r="2.1" fill="#b0994f"/><circle cx="446.9" cy="26.3" r="1.8" fill="#b0994f"/><circle cx="446.5" cy="27.0" r="1.9" fill="#b0994f"/><circle cx="446.3" cy="27.7" r="2.0" fill="#b0994f"/><circle cx="446.0" cy="28.4" r="2.0" fill="#b0994f"/><circle cx="445.8" cy="29.1" r="1.9" fill="#b0994f"/><circle cx="445.6" cy="29.8" r="2.3" fill="#b0994f"/><circle cx="445.4" cy="30.6" r="2.5" fill="#b0994f"/><circle cx="445.3" cy="31.3" r="2.4" fill="#b0994f"/><circle cx="445.2" cy="32.1" r="2.5" fill="#b0994f"/><circle cx="445.1" cy="32.8" r="2.4" fill="#b0994f"/><circle cx="445.1" cy="33.6" r="2.2" fill="#b0994f"/><circle cx="445.0" cy="34.3" r="2.4" fill="#b0984f"/><circle cx="445.0" cy="35.1" r="2.8" fill="#b0984f"/><circle cx="445.0" cy="35.8" r="2.6" fill="#b0984f"/><circle cx="445.0" cy="36.6" r="2.7" fill="#b0984f"/><circle cx="445.0" cy="37.3" r="2.9" fill="#b0984f"/><circle cx="445.0" cy="38.1" r="2.8" fill="#b0984f"/><circle cx="445.0" cy="38.8" r="2.8" fill="#b0974f"/><circle cx="445.0" cy="39.6" r="2.4" fill="#b0974f"/><circle cx="445.0" cy="40.3" r="2.8" fill="#b0974e"/><circle cx="445.0" cy="41.1" r="2.5" fill="#b0974e"/><circle cx="445.0" cy="41.8" r="3.0" fill="#b0964e"/><circle cx="445.1" cy="42.6" r="2.7" fill="#b0964e"/><circle cx="445.1" cy="43.3" r="2.8" fill="#b0964e"/><circle cx="445.2" cy="44.0" r="2.9" fill="#b0964e"/><circle cx="445.4" cy="44.8" r="2.8" fill="#b0954e"/><circle cx="445.5" cy="45.5" r="2.9" fill="#b0954e"/><circle cx="445.7" cy="46.2" r="2.8" fill="#b0954e"/><circle cx="445.9" cy="47.0" r="2.9" fill="#b0944d"/><circle cx="446.2" cy="47.7" r="2.8" fill="#b0944d"/><circle cx="446.5" cy="48.4" r="2.9" fill="#b0944d"/><circle cx="446.7" cy="49.1" r="2.8" fill="#b0934d"/><circle cx="447.0" cy="49.7" r="2.7" fill="#b0934d"/><circle cx="447.3" cy="50.4" r="2.8" fill="#b0934d"/><circle cx="447.6" cy="51.1" r="2.7" fill="#b0924c"/><circle cx="447.9" cy="51.8" r="3.0" fill="#b0924c"/><circle cx="448.2" cy="52.5" r="3.0" fill="#b0914c"/><circle cx="448.5" cy="53.2" r="3.1" fill="#b0914c"/><circle cx="448.9" cy="53.8" r="2.7" fill="#b0904c"/><circle cx="449.2" cy="54.5" r="2.5" fill="#b0904b"/><circle cx="449.6" cy="55.2" r="3.1" fill="#b08f4b"/><circle cx="450.0" cy="55.8" r="2.6" fill="#b08f4b"/><circle cx="450.3" cy="56.5" r="2.9" fill="#b08e4b"/><circle cx="450.6" cy="57.2" r="3.0" fill="#b08e4b"/><circle cx="450.9" cy="57.8" r="2.5" fill="#b08d4a"/><circle cx="451.2" cy="58.5" r="3.0" fill="#b08c4a"/><circle cx="451.5" cy="59.2" r="2.9" fill="#b08c4a"/><circle cx="451.8" cy="59.9" r="3.1" fill="#b08b4a"/><circle cx="452.1" cy="60.6" r="3.0" fill="#b08b49"/><circle cx="452.3" cy="61.3" r="2.6" fill="#b08a49"/><circle cx="452.6" cy="62.0" r="3.0" fill="#b08949"/><circle cx="452.9" cy="62.7" r="3.1" fill="#b08848"/><circle cx="453.1" cy="63.4" r="2.7" fill="#b08848"/><circle cx="453.4" cy="64.1" r="2.9" fill="#b08748"/><circle cx="453.6" cy="64.8" r="2.8" fill="#b08648"/><circle cx="453.9" cy="65.6" r="3.1" fill="#b08647"/><circle cx="454.1" cy="66.3" r="2.5" fill="#b08547"/><circle cx="454.4" cy="67.0" r="3.0" fill="#b08447"/><circle cx="454.6" cy="67.7" r="2.7" fill="#b08346"/><circle cx="454.8" cy="68.4" r="2.6" fill="#b08246"/><circle cx="455.0" cy="69.1" r="2.6" fill="#b08146"/><circle cx="455.2" cy="69.8" r="2.7" fill="#b08045"/><circle cx="455.4" cy="70.6" r="2.9" fill="#b08045"/><circle cx="455.6" cy="71.3" r="2.6" fill="#b07f44"/><circle cx="455.7" cy="72.0" r="2.9" fill="#b07e44"/><circle cx="455.8" cy="72.8" r="2.6" fill="#b07d44"/><circle cx="455.9" cy="73.5" r="3.1" fill="#b07c43"/><circle cx="455.8" cy="74.3" r="3.0" fill="#b07b43"/><circle cx="455.7" cy="75.0" r="2.9" fill="#b07a42"/><circle cx="455.5" cy="75.7" r="3.1" fill="#b07942"/><circle cx="455.3" cy="76.5" r="2.7" fill="#b07841"/><circle cx="455.1" cy="77.2" r="2.7" fill="#b07741"/><circle cx="455.0" cy="77.9" r="3.1" fill="#b07541"/><circle cx="455.0" cy="78.7" r="2.7" fill="#b07440"/><circle cx="455.0" cy="79.4" r="2.7" fill="#b07340"/><circle cx="455.0" cy="80.2" r="2.9" fill="#b0723f"/><circle cx="455.0" cy="80.9" r="2.6" fill="#b0713f"/><circle cx="454.8" cy="81.7" r="2.6" fill="#b0703e"/><circle cx="454.6" cy="82.4" r="2.7" fill="#b06e3e"/><circle cx="454.4" cy="83.1" r="2.6" fill="#b06d3d"/><circle cx="454.1" cy="83.8" r="2.4" fill="#b06c3d"/><circle cx="453.9" cy="84.5" r="2.6" fill="#b06b3c"/><circle cx="453.6" cy="85.2" r="2.3" fill="#b0693c"/><circle cx="453.3" cy="85.9" r="2.2" fill="#b0683b"/><circle cx="453.1" cy="86.6" r="2.3" fill="#b0673a"/><circle cx="452.8" cy="87.3" r="2.0" fill="#b0653a"/><circle cx="452.5" cy="88.0" r="2.3" fill="#b06439"/><circle cx="452.2" cy="88.7" r="2.4" fill="#b06239"/><circle cx="452.0" cy="89.4" r="1.9" fill="#b06138"/><circle cx="451.7" cy="90.1" r="2.1" fill="#b06038"/>
<circle cx="449.3" cy="20.2" r=".55" fill="#726434" opacity=".6"/><circle cx="450.4" cy="20.8" r=".45" fill="#c7b884" opacity=".5"/><circle cx="449.8" cy="21.8" r=".55" fill="#726333" opacity=".6"/><circle cx="450.2" cy="21.6" r=".45" fill="#c7b783" opacity=".5"/><circle cx="448.8" cy="22.6" r=".55" fill="#726333" opacity=".6"/><circle cx="448.1" cy="23.1" r=".45" fill="#c7b783" opacity=".5"/><circle cx="447.4" cy="24.4" r=".55" fill="#726333" opacity=".6"/><circle cx="448.9" cy="24.1" r=".45" fill="#c7b783" opacity=".5"/><circle cx="446.6" cy="25.6" r=".55" fill="#726333" opacity=".6"/><circle cx="447.2" cy="25.6" r=".45" fill="#c7b783" opacity=".5"/><circle cx="445.4" cy="26.6" r=".55" fill="#726333" opacity=".6"/><circle cx="447.8" cy="26.8" r=".45" fill="#c7b783" opacity=".5"/><circle cx="446.8" cy="28.8" r=".55" fill="#726333" opacity=".6"/><circle cx="446.6" cy="28.3" r=".45" fill="#c7b783" opacity=".5"/><circle cx="444.2" cy="30.1" r=".55" fill="#726333" opacity=".6"/><circle cx="447.0" cy="29.8" r=".45" fill="#c7b783" opacity=".5"/><circle cx="445.6" cy="31.1" r=".55" fill="#726333" opacity=".6"/><circle cx="444.5" cy="31.7" r=".45" fill="#c7b783" opacity=".5"/><circle cx="443.9" cy="32.9" r=".55" fill="#726333" opacity=".6"/><circle cx="446.7" cy="33.2" r=".45" fill="#c7b783" opacity=".5"/><circle cx="445.3" cy="33.9" r=".55" fill="#726233" opacity=".6"/><circle cx="444.0" cy="34.7" r=".45" fill="#c7b683" opacity=".5"/><circle cx="443.5" cy="35.7" r=".55" fill="#726233" opacity=".6"/><circle cx="444.6" cy="35.7" r=".45" fill="#c7b683" opacity=".5"/><circle cx="446.6" cy="37.4" r=".55" fill="#726233" opacity=".6"/><circle cx="446.0" cy="36.9" r=".45" fill="#c7b683" opacity=".5"/><circle cx="445.2" cy="39.2" r=".55" fill="#726233" opacity=".6"/><circle cx="445.7" cy="38.7" r=".45" fill="#c7b683" opacity=".5"/><circle cx="446.9" cy="40.0" r=".55" fill="#726232" opacity=".6"/><circle cx="443.3" cy="40.2" r=".45" fill="#c7b683" opacity=".5"/><circle cx="443.6" cy="42.1" r=".55" fill="#726132" opacity=".6"/><circle cx="443.1" cy="41.5" r=".45" fill="#c7b583" opacity=".5"/><circle cx="444.0" cy="43.3" r=".55" fill="#726132" opacity=".6"/><circle cx="446.8" cy="43.1" r=".45" fill="#c7b583" opacity=".5"/><circle cx="444.7" cy="44.7" r=".55" fill="#726032" opacity=".6"/><circle cx="445.2" cy="44.4" r=".45" fill="#c7b483" opacity=".5"/><circle cx="447.1" cy="46.3" r=".55" fill="#726032" opacity=".6"/><circle cx="443.8" cy="46.2" r=".45" fill="#c7b483" opacity=".5"/><circle cx="447.6" cy="47.4" r=".55" fill="#726032" opacity=".6"/><circle cx="446.0" cy="48.0" r=".45" fill="#c7b482" opacity=".5"/><circle cx="445.6" cy="48.9" r=".55" fill="#725f32" opacity=".6"/><circle cx="448.2" cy="49.1" r=".45" fill="#c7b382" opacity=".5"/><circle cx="448.3" cy="50.8" r=".55" fill="#725f32" opacity=".6"/><circle cx="445.9" cy="50.3" r=".45" fill="#c7b382" opacity=".5"/><circle cx="446.2" cy="51.9" r=".55" fill="#725e31" opacity=".6"/><circle cx="447.2" cy="51.5" r=".45" fill="#c7b281" opacity=".5"/><circle cx="450.4" cy="52.9" r=".55" fill="#725e31" opacity=".6"/><circle cx="448.7" cy="53.2" r=".45" fill="#c7b281" opacity=".5"/><circle cx="447.6" cy="54.4" r=".55" fill="#725d30" opacity=".6"/><circle cx="449.9" cy="54.3" r=".45" fill="#c7b181" opacity=".5"/><circle cx="449.5" cy="56.2" r=".55" fill="#725c30" opacity=".6"/><circle cx="450.7" cy="55.6" r=".45" fill="#c7b081" opacity=".5"/><circle cx="449.6" cy="57.0" r=".55" fill="#725c30" opacity=".6"/><circle cx="450.4" cy="57.2" r=".45" fill="#c7af81" opacity=".5"/><circle cx="450.5" cy="58.2" r=".55" fill="#725b30" opacity=".6"/><circle cx="450.1" cy="58.7" r=".45" fill="#c7ae80" opacity=".5"/><circle cx="453.5" cy="60.1" r=".55" fill="#725a30" opacity=".6"/><circle cx="452.6" cy="59.6" r=".45" fill="#c7ad80" opacity=".5"/><circle cx="454.0" cy="61.2" r=".55" fill="#72592f" opacity=".6"/><circle cx="452.2" cy="61.5" r=".45" fill="#c7ad7f" opacity=".5"/><circle cx="453.5" cy="63.0" r=".55" fill="#72582e" opacity=".6"/><circle cx="450.9" cy="62.3" r=".45" fill="#c7ab7e" opacity=".5"/><circle cx="455.1" cy="64.5" r=".55" fill="#72572e" opacity=".6"/><circle cx="451.6" cy="63.9" r=".45" fill="#c7ab7e" opacity=".5"/><circle cx="453.6" cy="65.3" r=".55" fill="#72572e" opacity=".6"/><circle cx="452.7" cy="66.0" r=".45" fill="#c7aa7e" opacity=".5"/><circle cx="454.8" cy="66.9" r=".55" fill="#72552e" opacity=".6"/><circle cx="455.3" cy="66.7" r=".45" fill="#c7a87e" opacity=".5"/><circle cx="453.7" cy="68.1" r=".55" fill="#72542d" opacity=".6"/><circle cx="456.2" cy="68.0" r=".45" fill="#c7a77d" opacity=".5"/><circle cx="453.8" cy="70.2" r=".55" fill="#72532c" opacity=".6"/><circle cx="456.5" cy="69.8" r=".45" fill="#c7a67c" opacity=".5"/><circle cx="453.7" cy="71.5" r=".55" fill="#72522c" opacity=".6"/><circle cx="456.5" cy="71.0" r=".45" fill="#c7a57c" opacity=".5"/><circle cx="454.7" cy="73.0" r=".55" fill="#72512c" opacity=".6"/><circle cx="456.8" cy="73.1" r=".45" fill="#c7a47c" opacity=".5"/><circle cx="456.0" cy="73.9" r=".55" fill="#724f2b" opacity=".6"/><circle cx="456.9" cy="74.5" r=".45" fill="#c7a27b" opacity=".5"/><circle cx="455.6" cy="75.7" r=".55" fill="#724e2a" opacity=".6"/><circle cx="454.4" cy="75.3" r=".45" fill="#c7a17a" opacity=".5"/><circle cx="453.4" cy="76.9" r=".55" fill="#724d2a" opacity=".6"/><circle cx="456.4" cy="77.4" r=".45" fill="#c79f7a" opacity=".5"/><circle cx="454.7" cy="78.6" r=".55" fill="#724b29" opacity=".6"/><circle cx="456.4" cy="79.1" r=".45" fill="#c79d79" opacity=".5"/><circle cx="453.6" cy="79.8" r=".55" fill="#724a28" opacity=".6"/><circle cx="454.8" cy="80.4" r=".45" fill="#c79c78" opacity=".5"/><circle cx="456.3" cy="82.0" r=".55" fill="#724828" opacity=".6"/><circle cx="455.6" cy="81.9" r=".45" fill="#c79a77" opacity=".5"/><circle cx="453.6" cy="82.9" r=".55" fill="#724627" opacity=".6"/><circle cx="454.6" cy="82.8" r=".45" fill="#c79877" opacity=".5"/><circle cx="455.6" cy="84.7" r=".55" fill="#724527" opacity=".6"/><circle cx="452.8" cy="85.0" r=".45" fill="#c79776" opacity=".5"/><circle cx="452.7" cy="85.6" r=".55" fill="#724326" opacity=".6"/><circle cx="452.5" cy="86.1" r=".45" fill="#c79575" opacity=".5"/><circle cx="453.6" cy="87.0" r=".55" fill="#724125" opacity=".6"/><circle cx="451.4" cy="87.0" r=".45" fill="#c79375" opacity=".5"/><circle cx="451.6" cy="88.6" r=".55" fill="#723f25" opacity=".6"/><circle cx="450.4" cy="88.6" r=".45" fill="#c79174" opacity=".5"/><circle cx="452.3" cy="89.8" r=".55" fill="#723e24" opacity=".6"/><circle cx="452.3" cy="90.1" r=".45" fill="#c78f73" opacity=".5"/><circle cx="450.5" cy="23.4" r=".6" fill="#958243"/><circle cx="449.1" cy="25.8" r=".6" fill="#958243"/><circle cx="448.4" cy="27.8" r=".6" fill="#958243"/><circle cx="444.4" cy="27.0" r=".6" fill="#958243"/><circle cx="447.8" cy="29.7" r=".6" fill="#958243"/><circle cx="443.3" cy="30.2" r=".6" fill="#958243"/><circle cx="447.4" cy="34.4" r=".6" fill="#958143"/><circle cx="447.5" cy="35.8" r=".6" fill="#958143"/><circle cx="442.5" cy="36.5" r=".6" fill="#958143"/><circle cx="447.6" cy="38.1" r=".6" fill="#958143"/><circle cx="442.3" cy="38.8" r=".6" fill="#958043"/><circle cx="442.2" cy="41.1" r=".6" fill="#958042"/><circle cx="447.8" cy="41.7" r=".6" fill="#957f42"/><circle cx="447.9" cy="43.0" r=".6" fill="#957f42"/><circle cx="448.1" cy="44.2" r=".6" fill="#957e42"/><circle cx="448.4" cy="45.4" r=".6" fill="#957e42"/><circle cx="443.6" cy="48.6" r=".6" fill="#957d41"/><circle cx="445.7" cy="53.7" r=".6" fill="#957b40"/><circle cx="446.8" cy="55.8" r=".6" fill="#957a3f"/><circle cx="454.1" cy="58.2" r=".6" fill="#95773e"/><circle cx="454.4" cy="58.9" r=".6" fill="#95763e"/><circle cx="455.2" cy="61.0" r=".6" fill="#95743e"/><circle cx="455.5" cy="61.8" r=".6" fill="#95733d"/><circle cx="456.3" cy="63.9" r=".6" fill="#95713d"/><circle cx="456.8" cy="65.4" r=".6" fill="#95713c"/><circle cx="457.3" cy="66.8" r=".6" fill="#956f3b"/><circle cx="457.5" cy="67.6" r=".6" fill="#956e3b"/><circle cx="457.9" cy="69.1" r=".6" fill="#956c3a"/><circle cx="458.1" cy="69.9" r=".6" fill="#956c3a"/><circle cx="458.3" cy="70.7" r=".6" fill="#956b39"/><circle cx="458.6" cy="72.6" r=".6" fill="#956a39"/><circle cx="453.1" cy="73.5" r=".6" fill="#956938"/><circle cx="458.5" cy="75.5" r=".6" fill="#956738"/><circle cx="452.6" cy="75.7" r=".6" fill="#956637"/><circle cx="457.9" cy="77.8" r=".6" fill="#956537"/><circle cx="457.8" cy="79.3" r=".6" fill="#956136"/><circle cx="456.5" cy="85.5" r=".6" fill="#955a33"/><circle cx="451.0" cy="84.2" r=".6" fill="#955933"/><circle cx="450.5" cy="85.6" r=".6" fill="#955731"/><circle cx="455.4" cy="88.3" r=".6" fill="#955531"/><circle cx="449.6" cy="87.7" r=".6" fill="#955330"/><circle cx="454.6" cy="90.4" r=".6" fill="#95522f"/><circle cx="449.1" cy="89.1" r=".6" fill="#95512f"/>
<path d="M481.60,15.10 C480.83,15.30 478.30,15.85 477.00,16.30 C475.70,16.75 474.33,17.55 473.80,17.80" stroke="#c09d65" stroke-width="1.0" fill="none" stroke-linecap="round"/>
<circle cx="473.4" cy="18.0" r="1.6" fill="#b89050"/><circle cx="473.1" cy="18.7" r="1.8" fill="#b78f4f"/><circle cx="472.9" cy="19.4" r="1.6" fill="#b78f4f"/><circle cx="472.6" cy="20.1" r="1.8" fill="#b78f4f"/><circle cx="472.3" cy="20.8" r="1.7" fill="#b78f4f"/><circle cx="472.1" cy="21.5" r="1.6" fill="#b78f4f"/><circle cx="471.8" cy="22.2" r="1.9" fill="#b78f4f"/><circle cx="471.6" cy="22.9" r="1.7" fill="#b78f4f"/><circle cx="471.3" cy="23.6" r="1.5" fill="#b78f4f"/><circle cx="471.1" cy="24.4" r="1.9" fill="#b78f4f"/><circle cx="471.0" cy="25.1" r="2.1" fill="#b78f4f"/><circle cx="470.8" cy="25.8" r="2.1" fill="#b78e4f"/><circle cx="470.7" cy="26.6" r="1.8" fill="#b78e4f"/><circle cx="470.6" cy="27.3" r="2.0" fill="#b78e4f"/><circle cx="470.5" cy="28.1" r="2.2" fill="#b78e4f"/><circle cx="470.4" cy="28.8" r="2.5" fill="#b78e4f"/><circle cx="470.4" cy="29.5" r="2.2" fill="#b78d4f"/><circle cx="470.3" cy="30.3" r="2.4" fill="#b78d4e"/><circle cx="470.3" cy="31.0" r="2.3" fill="#b78d4e"/><circle cx="470.3" cy="31.8" r="2.4" fill="#b78d4e"/><circle cx="470.3" cy="32.5" r="2.5" fill="#b78c4e"/><circle cx="470.3" cy="33.3" r="2.1" fill="#b68c4e"/><circle cx="470.3" cy="34.0" r="2.6" fill="#b68c4e"/><circle cx="470.4" cy="34.8" r="2.7" fill="#b68b4e"/><circle cx="470.4" cy="35.5" r="2.7" fill="#b68b4e"/><circle cx="470.4" cy="36.3" r="2.8" fill="#b68b4d"/><circle cx="470.5" cy="37.0" r="2.4" fill="#b68a4d"/><circle cx="470.6" cy="37.8" r="2.7" fill="#b68a4d"/><circle cx="470.6" cy="38.5" r="2.7" fill="#b68a4d"/><circle cx="470.7" cy="39.3" r="3.0" fill="#b6894d"/><circle cx="470.8" cy="40.0" r="2.8" fill="#b6894d"/><circle cx="470.8" cy="40.8" r="3.1" fill="#b5884c"/><circle cx="470.9" cy="41.5" r="3.0" fill="#b5884c"/><circle cx="471.0" cy="42.3" r="2.4" fill="#b5874c"/><circle cx="471.1" cy="43.0" r="2.9" fill="#b5874c"/><circle cx="471.2" cy="43.8" r="2.7" fill="#b5874c"/><circle cx="471.2" cy="44.5" r="2.8" fill="#b5864b"/><circle cx="471.3" cy="45.2" r="2.9" fill="#b5864b"/><circle cx="471.4" cy="46.0" r="2.6" fill="#b5854b"/><circle cx="471.5" cy="46.7" r="2.7" fill="#b4854b"/><circle cx="471.6" cy="47.5" r="3.1" fill="#b4844b"/><circle cx="471.7" cy="48.2" r="2.6" fill="#b4844a"/><circle cx="471.8" cy="49.0" r="2.9" fill="#b4834a"/><circle cx="471.9" cy="49.7" r="3.0" fill="#b4834a"/><circle cx="472.0" cy="50.4" r="2.9" fill="#b4824a"/><circle cx="472.2" cy="51.2" r="3.0" fill="#b38149"/><circle cx="472.3" cy="51.9" r="2.7" fill="#b38149"/><circle cx="472.4" cy="52.7" r="2.6" fill="#b38049"/><circle cx="472.5" cy="53.4" r="2.6" fill="#b38049"/><circle cx="472.6" cy="54.1" r="2.8" fill="#b37f48"/><circle cx="472.8" cy="54.9" r="3.1" fill="#b37f48"/><circle cx="472.9" cy="55.6" r="3.0" fill="#b27e48"/><circle cx="473.0" cy="56.4" r="2.7" fill="#b27d48"/><circle cx="473.1" cy="57.1" r="2.7" fill="#b27d47"/><circle cx="473.3" cy="57.8" r="2.6" fill="#b27c47"/><circle cx="473.4" cy="58.6" r="2.5" fill="#b27b47"/><circle cx="473.6" cy="59.3" r="2.8" fill="#b27b47"/><circle cx="473.7" cy="60.0" r="2.5" fill="#b17a46"/><circle cx="473.9" cy="60.8" r="2.7" fill="#b17946"/><circle cx="474.1" cy="61.5" r="2.7" fill="#b17946"/><circle cx="474.3" cy="62.2" r="2.4" fill="#b17845"/><circle cx="474.5" cy="63.0" r="2.6" fill="#b17745"/><circle cx="474.7" cy="63.7" r="3.1" fill="#b07645"/><circle cx="474.8" cy="64.4" r="2.5" fill="#b07644"/><circle cx="475.0" cy="65.1" r="3.0" fill="#b07544"/><circle cx="475.2" cy="65.9" r="2.7" fill="#b07444"/><circle cx="475.3" cy="66.6" r="2.8" fill="#af7343"/><circle cx="475.4" cy="67.4" r="2.6" fill="#af7343"/><circle cx="475.4" cy="68.1" r="2.6" fill="#af7243"/><circle cx="475.4" cy="68.9" r="2.8" fill="#af7142"/><circle cx="475.4" cy="69.6" r="2.7" fill="#af7042"/><circle cx="475.4" cy="70.4" r="3.0" fill="#ae7042"/><circle cx="475.3" cy="71.1" r="2.7" fill="#ae6f41"/><circle cx="475.3" cy="71.8" r="2.6" fill="#ae6e41"/><circle cx="475.2" cy="72.6" r="2.5" fill="#ae6d41"/><circle cx="475.1" cy="73.3" r="2.5" fill="#ad6c40"/><circle cx="474.9" cy="74.1" r="2.6" fill="#ad6b40"/><circle cx="474.8" cy="74.8" r="3.0" fill="#ad6b40"/><circle cx="474.7" cy="75.6" r="3.0" fill="#ad6a3f"/><circle cx="474.5" cy="76.3" r="3.1" fill="#ac693f"/><circle cx="474.4" cy="77.0" r="2.6" fill="#ac683f"/><circle cx="474.3" cy="77.8" r="2.6" fill="#ac673e"/><circle cx="474.1" cy="78.5" r="3.0" fill="#ac663e"/><circle cx="473.9" cy="79.2" r="2.9" fill="#ab653d"/><circle cx="473.7" cy="79.9" r="2.8" fill="#ab643d"/><circle cx="473.5" cy="80.7" r="2.9" fill="#ab633d"/><circle cx="473.3" cy="81.4" r="2.9" fill="#ab623c"/><circle cx="473.1" cy="82.1" r="2.5" fill="#aa613c"/><circle cx="472.9" cy="82.8" r="2.1" fill="#aa613b"/><circle cx="472.6" cy="83.5" r="2.7" fill="#aa603b"/><circle cx="472.4" cy="84.2" r="2.1" fill="#aa5f3b"/><circle cx="472.1" cy="85.0" r="2.2" fill="#a95e3a"/><circle cx="471.9" cy="85.7" r="2.3" fill="#a95d3a"/><circle cx="471.6" cy="86.4" r="2.4" fill="#a95c39"/><circle cx="471.4" cy="87.1" r="2.4" fill="#a85b39"/><circle cx="471.1" cy="87.8" r="2.3" fill="#a85a38"/><circle cx="470.8" cy="88.5" r="2.4" fill="#a85938"/><circle cx="470.6" cy="89.2" r="2.2" fill="#a85838"/>
<circle cx="473.9" cy="18.2" r=".55" fill="#775d34" opacity=".6"/><circle cx="472.6" cy="18.3" r=".45" fill="#cdb184" opacity=".5"/><circle cx="472.3" cy="19.3" r=".55" fill="#765c33" opacity=".6"/><circle cx="472.9" cy="19.2" r=".45" fill="#ccb083" opacity=".5"/><circle cx="471.8" cy="20.6" r=".55" fill="#765c33" opacity=".6"/><circle cx="471.9" cy="21.0" r=".45" fill="#ccb083" opacity=".5"/><circle cx="472.3" cy="22.6" r=".55" fill="#765c33" opacity=".6"/><circle cx="472.6" cy="21.8" r=".45" fill="#ccb083" opacity=".5"/><circle cx="471.7" cy="23.6" r=".55" fill="#765c33" opacity=".6"/><circle cx="471.8" cy="23.2" r=".45" fill="#ccb083" opacity=".5"/><circle cx="472.0" cy="25.5" r=".55" fill="#765c33" opacity=".6"/><circle cx="469.9" cy="25.0" r=".45" fill="#ccb083" opacity=".5"/><circle cx="470.2" cy="26.6" r=".55" fill="#765c33" opacity=".6"/><circle cx="469.7" cy="26.7" r=".45" fill="#ccaf83" opacity=".5"/><circle cx="470.4" cy="28.5" r=".55" fill="#765c33" opacity=".6"/><circle cx="470.5" cy="27.6" r=".45" fill="#ccaf83" opacity=".5"/><circle cx="471.7" cy="29.3" r=".55" fill="#765b33" opacity=".6"/><circle cx="469.4" cy="30.0" r=".45" fill="#ccaf83" opacity=".5"/><circle cx="470.3" cy="31.5" r=".55" fill="#765b32" opacity=".6"/><circle cx="469.3" cy="31.1" r=".45" fill="#ccaf83" opacity=".5"/><circle cx="471.9" cy="32.7" r=".55" fill="#765b32" opacity=".6"/><circle cx="469.4" cy="32.8" r=".45" fill="#ccae83" opacity=".5"/><circle cx="468.7" cy="34.1" r=".55" fill="#765b32" opacity=".6"/><circle cx="470.0" cy="33.6" r=".45" fill="#cbae83" opacity=".5"/><circle cx="472.0" cy="35.7" r=".55" fill="#765a32" opacity=".6"/><circle cx="470.4" cy="36.0" r=".45" fill="#cbad83" opacity=".5"/><circle cx="470.0" cy="37.4" r=".55" fill="#765932" opacity=".6"/><circle cx="469.9" cy="37.4" r=".45" fill="#cbad82" opacity=".5"/><circle cx="470.6" cy="38.1" r=".55" fill="#765932" opacity=".6"/><circle cx="470.7" cy="38.9" r=".45" fill="#cbad82" opacity=".5"/><circle cx="469.6" cy="40.3" r=".55" fill="#765932" opacity=".6"/><circle cx="469.1" cy="39.8" r=".45" fill="#cbac82" opacity=".5"/><circle cx="471.0" cy="41.7" r=".55" fill="#755831" opacity=".6"/><circle cx="472.5" cy="41.6" r=".45" fill="#cbab81" opacity=".5"/><circle cx="472.9" cy="43.3" r=".55" fill="#755731" opacity=".6"/><circle cx="470.5" cy="43.2" r=".45" fill="#cbab81" opacity=".5"/><circle cx="470.4" cy="44.9" r=".55" fill="#755730" opacity=".6"/><circle cx="471.1" cy="44.6" r=".45" fill="#cbaa81" opacity=".5"/><circle cx="473.1" cy="45.9" r=".55" fill="#755630" opacity=".6"/><circle cx="472.1" cy="45.9" r=".45" fill="#cba981" opacity=".5"/><circle cx="470.9" cy="47.8" r=".55" fill="#755530" opacity=".6"/><circle cx="471.5" cy="47.1" r=".45" fill="#caa881" opacity=".5"/><circle cx="473.5" cy="49.1" r=".55" fill="#755530" opacity=".6"/><circle cx="471.8" cy="48.9" r=".45" fill="#caa880" opacity=".5"/><circle cx="470.7" cy="50.8" r=".55" fill="#755430" opacity=".6"/><circle cx="470.3" cy="50.2" r=".45" fill="#caa780" opacity=".5"/><circle cx="472.4" cy="52.1" r=".55" fill="#74532f" opacity=".6"/><circle cx="473.6" cy="51.8" r=".45" fill="#c9a67f" opacity=".5"/><circle cx="470.9" cy="53.3" r=".55" fill="#74532f" opacity=".6"/><circle cx="473.3" cy="53.3" r=".45" fill="#c9a67f" opacity=".5"/><circle cx="474.0" cy="55.2" r=".55" fill="#74522e" opacity=".6"/><circle cx="471.3" cy="54.8" r=".45" fill="#c9a57e" opacity=".5"/><circle cx="471.1" cy="56.4" r=".55" fill="#73512e" opacity=".6"/><circle cx="473.8" cy="56.2" r=".45" fill="#c9a47e" opacity=".5"/><circle cx="473.7" cy="57.7" r=".55" fill="#73502e" opacity=".6"/><circle cx="475.1" cy="58.2" r=".45" fill="#c9a37e" opacity=".5"/><circle cx="475.0" cy="58.9" r=".55" fill="#734f2e" opacity=".6"/><circle cx="474.0" cy="59.6" r=".45" fill="#c9a27e" opacity=".5"/><circle cx="475.2" cy="61.0" r=".55" fill="#734e2d" opacity=".6"/><circle cx="475.6" cy="60.4" r=".45" fill="#c8a17d" opacity=".5"/><circle cx="473.0" cy="62.5" r=".55" fill="#734e2c" opacity=".6"/><circle cx="475.2" cy="61.8" r=".45" fill="#c8a07c" opacity=".5"/><circle cx="474.3" cy="64.0" r=".55" fill="#724c2c" opacity=".6"/><circle cx="475.8" cy="64.0" r=".45" fill="#c79f7c" opacity=".5"/><circle cx="474.6" cy="65.1" r=".55" fill="#724c2c" opacity=".6"/><circle cx="474.4" cy="65.5" r=".45" fill="#c79e7c" opacity=".5"/><circle cx="476.1" cy="66.3" r=".55" fill="#714a2b" opacity=".6"/><circle cx="476.2" cy="66.5" r=".45" fill="#c79d7b" opacity=".5"/><circle cx="477.1" cy="67.9" r=".55" fill="#714a2b" opacity=".6"/><circle cx="474.3" cy="68.3" r=".45" fill="#c79c7b" opacity=".5"/><circle cx="477.1" cy="69.2" r=".55" fill="#71482a" opacity=".6"/><circle cx="473.5" cy="69.7" r=".45" fill="#c79a7a" opacity=".5"/><circle cx="474.3" cy="71.0" r=".55" fill="#71482a" opacity=".6"/><circle cx="474.2" cy="71.3" r=".45" fill="#c69a7a" opacity=".5"/><circle cx="476.3" cy="72.8" r=".55" fill="#71462a" opacity=".6"/><circle cx="476.5" cy="72.2" r=".45" fill="#c6987a" opacity=".5"/><circle cx="473.9" cy="74.4" r=".55" fill="#704529" opacity=".6"/><circle cx="473.9" cy="73.7" r=".45" fill="#c59779" opacity=".5"/><circle cx="473.8" cy="75.1" r=".55" fill="#704428" opacity=".6"/><circle cx="476.5" cy="76.0" r=".45" fill="#c59678" opacity=".5"/><circle cx="474.0" cy="76.8" r=".55" fill="#6f4328" opacity=".6"/><circle cx="475.0" cy="77.4" r=".45" fill="#c49578" opacity=".5"/><circle cx="473.6" cy="78.9" r=".55" fill="#6f4228" opacity=".6"/><circle cx="474.9" cy="78.8" r=".45" fill="#c49377" opacity=".5"/><circle cx="474.1" cy="80.0" r=".55" fill="#6f4127" opacity=".6"/><circle cx="474.1" cy="80.3" r=".45" fill="#c49277" opacity=".5"/><circle cx="472.6" cy="81.2" r=".55" fill="#6f3f27" opacity=".6"/><circle cx="473.6" cy="81.8" r=".45" fill="#c49176" opacity=".5"/><circle cx="471.2" cy="82.3" r=".55" fill="#6e3f26" opacity=".6"/><circle cx="472.9" cy="82.4" r=".45" fill="#c39075" opacity=".5"/><circle cx="474.1" cy="84.0" r=".55" fill="#6e3d26" opacity=".6"/><circle cx="472.2" cy="84.5" r=".45" fill="#c38f75" opacity=".5"/><circle cx="471.7" cy="85.7" r=".55" fill="#6d3c25" opacity=".6"/><circle cx="473.7" cy="85.7" r=".45" fill="#c28d75" opacity=".5"/><circle cx="471.7" cy="86.6" r=".55" fill="#6d3b25" opacity=".6"/><circle cx="471.5" cy="87.0" r=".45" fill="#c28c74" opacity=".5"/><circle cx="470.8" cy="88.3" r=".55" fill="#6d3924" opacity=".6"/><circle cx="472.5" cy="88.9" r=".45" fill="#c28a73" opacity=".5"/><circle cx="474.8" cy="18.5" r=".6" fill="#9c7a44"/><circle cx="474.4" cy="20.0" r=".6" fill="#9b7943"/><circle cx="473.9" cy="21.4" r=".6" fill="#9b7943"/><circle cx="469.8" cy="22.4" r=".6" fill="#9b7943"/><circle cx="472.9" cy="25.5" r=".6" fill="#9b7943"/><circle cx="468.9" cy="25.5" r=".6" fill="#9b7843"/><circle cx="468.6" cy="27.0" r=".6" fill="#9b7843"/><circle cx="472.6" cy="29.0" r=".6" fill="#9b7843"/><circle cx="468.2" cy="29.4" r=".6" fill="#9b7743"/><circle cx="468.1" cy="30.2" r=".6" fill="#9b7742"/><circle cx="467.9" cy="34.1" r=".6" fill="#9a7742"/><circle cx="472.9" cy="35.4" r=".6" fill="#9a7642"/><circle cx="473.3" cy="38.3" r=".6" fill="#9a7541"/><circle cx="473.6" cy="40.5" r=".6" fill="#997340"/><circle cx="473.6" cy="41.2" r=".6" fill="#997340"/><circle cx="468.3" cy="42.6" r=".6" fill="#997240"/><circle cx="473.8" cy="42.7" r=".6" fill="#997240"/><circle cx="473.9" cy="43.4" r=".6" fill="#997240"/><circle cx="468.8" cy="47.1" r=".6" fill="#99713f"/><circle cx="474.3" cy="47.1" r=".6" fill="#99703f"/><circle cx="469.0" cy="48.6" r=".6" fill="#99703e"/><circle cx="469.1" cy="49.4" r=".6" fill="#996f3e"/><circle cx="469.3" cy="50.9" r=".6" fill="#996e3e"/><circle cx="475.1" cy="52.2" r=".6" fill="#986c3e"/><circle cx="469.9" cy="54.6" r=".6" fill="#986b3d"/><circle cx="470.0" cy="55.3" r=".6" fill="#986b3d"/><circle cx="476.1" cy="58.0" r=".6" fill="#97683c"/><circle cx="470.9" cy="59.9" r=".6" fill="#97683c"/><circle cx="476.4" cy="59.4" r=".6" fill="#96673b"/><circle cx="476.8" cy="60.8" r=".6" fill="#96663b"/><circle cx="471.6" cy="62.9" r=".6" fill="#96663a"/><circle cx="471.8" cy="63.6" r=".6" fill="#96653a"/><circle cx="472.2" cy="65.0" r=".6" fill="#956439"/><circle cx="472.6" cy="67.6" r=".6" fill="#946138"/><circle cx="478.2" cy="68.8" r=".6" fill="#946038"/><circle cx="478.1" cy="71.4" r=".6" fill="#935e37"/><circle cx="472.5" cy="71.5" r=".6" fill="#935d37"/><circle cx="472.4" cy="72.2" r=".6" fill="#935c37"/><circle cx="477.6" cy="74.5" r=".6" fill="#935a36"/><circle cx="477.1" cy="77.6" r=".6" fill="#925835"/><circle cx="476.9" cy="78.4" r=".6" fill="#925734"/><circle cx="471.4" cy="77.8" r=".6" fill="#925634"/><circle cx="471.1" cy="79.2" r=".6" fill="#915533"/><circle cx="476.1" cy="81.4" r=".6" fill="#915433"/><circle cx="475.9" cy="82.2" r=".6" fill="#915333"/><circle cx="475.5" cy="83.6" r=".6" fill="#905232"/><circle cx="470.0" cy="82.7" r=".6" fill="#905132"/><circle cx="469.8" cy="83.4" r=".6" fill="#905032"/><circle cx="474.7" cy="85.9" r=".6" fill="#8f4f31"/><circle cx="469.3" cy="84.7" r=".6" fill="#8f4f31"/><circle cx="473.7" cy="88.7" r=".6" fill="#8e4c2f"/><circle cx="473.1" cy="90.1" r=".6" fill="#8e4a2f"/>
<path d="M500.60,12.40 C500.57,13.00 500.57,14.80 500.40,16.00 C500.23,17.20 499.73,19.00 499.60,19.60" stroke="#c7886c" stroke-width="1.0" fill="none" stroke-linecap="round"/>
<circle cx="499.1" cy="20.3" r="1.9" fill="#c07858"/><circle cx="498.9" cy="21.0" r="2.0" fill="#bf7757"/><circle cx="498.7" cy="21.7" r="1.5" fill="#bf7757"/><circle cx="498.5" cy="22.5" r="1.6" fill="#bf7757"/><circle cx="498.2" cy="23.2" r="2.3" fill="#bf7657"/><circle cx="498.0" cy="23.9" r="2.2" fill="#be7656"/><circle cx="497.8" cy="24.6" r="1.7" fill="#be7556"/><circle cx="497.6" cy="25.3" r="1.8" fill="#be7556"/><circle cx="497.3" cy="26.0" r="2.0" fill="#be7456"/><circle cx="497.1" cy="26.7" r="2.5" fill="#bd7455"/><circle cx="496.8" cy="27.4" r="2.0" fill="#bd7355"/><circle cx="496.6" cy="28.2" r="2.4" fill="#bd7355"/><circle cx="496.3" cy="28.8" r="2.6" fill="#bc7254"/><circle cx="496.0" cy="29.5" r="2.5" fill="#bc7254"/><circle cx="495.7" cy="30.2" r="2.7" fill="#bc7154"/><circle cx="495.5" cy="30.9" r="2.3" fill="#bb7153"/><circle cx="495.2" cy="31.6" r="2.3" fill="#bb7053"/><circle cx="494.9" cy="32.3" r="2.2" fill="#bb7053"/><circle cx="494.6" cy="33.0" r="2.8" fill="#ba6f52"/><circle cx="494.3" cy="33.7" r="2.4" fill="#ba6f52"/><circle cx="494.1" cy="34.4" r="3.1" fill="#ba6e52"/><circle cx="493.9" cy="35.1" r="2.9" fill="#b96e51"/><circle cx="493.6" cy="35.8" r="2.6" fill="#b96d51"/><circle cx="493.4" cy="36.6" r="3.1" fill="#b96c51"/><circle cx="493.1" cy="37.3" r="2.7" fill="#b86c50"/><circle cx="492.9" cy="38.0" r="3.0" fill="#b86b50"/><circle cx="492.7" cy="38.7" r="2.7" fill="#b76b4f"/><circle cx="492.5" cy="39.4" r="3.3" fill="#b76a4f"/><circle cx="492.3" cy="40.1" r="3.4" fill="#b7694f"/><circle cx="492.1" cy="40.9" r="3.5" fill="#b6694e"/><circle cx="491.9" cy="41.6" r="2.9" fill="#b6684e"/><circle cx="491.7" cy="42.3" r="3.4" fill="#b6684e"/><circle cx="491.5" cy="43.0" r="3.2" fill="#b5674d"/><circle cx="491.3" cy="43.8" r="3.4" fill="#b5664d"/><circle cx="491.1" cy="44.5" r="3.2" fill="#b4664c"/><circle cx="491.0" cy="45.2" r="3.3" fill="#b4654c"/><circle cx="490.8" cy="46.0" r="3.3" fill="#b4644c"/><circle cx="490.6" cy="46.7" r="3.4" fill="#b3644b"/><circle cx="490.5" cy="47.4" r="2.9" fill="#b3634b"/><circle cx="490.4" cy="48.2" r="2.9" fill="#b2634a"/><circle cx="490.2" cy="48.9" r="3.2" fill="#b2624a"/><circle cx="490.1" cy="49.6" r="3.1" fill="#b2614a"/><circle cx="490.0" cy="50.4" r="3.1" fill="#b16149"/><circle cx="489.9" cy="51.1" r="2.9" fill="#b16049"/><circle cx="489.8" cy="51.9" r="3.4" fill="#b05f48"/><circle cx="489.7" cy="52.6" r="2.9" fill="#b05f48"/><circle cx="489.6" cy="53.4" r="3.4" fill="#b05e48"/><circle cx="489.5" cy="54.1" r="3.4" fill="#af5d47"/><circle cx="489.4" cy="54.9" r="3.2" fill="#af5d47"/><circle cx="489.3" cy="55.6" r="2.9" fill="#ae5c46"/><circle cx="489.3" cy="56.3" r="3.3" fill="#ae5b46"/><circle cx="489.2" cy="57.1" r="3.0" fill="#ad5b45"/><circle cx="489.1" cy="57.8" r="3.2" fill="#ad5a45"/><circle cx="489.0" cy="58.6" r="2.9" fill="#ad5945"/><circle cx="489.0" cy="59.3" r="3.5" fill="#ac5944"/><circle cx="488.9" cy="60.1" r="3.2" fill="#ac5844"/><circle cx="488.9" cy="60.8" r="3.1" fill="#ab5743"/><circle cx="488.8" cy="61.6" r="2.9" fill="#ab5743"/><circle cx="488.8" cy="62.3" r="3.4" fill="#aa5642"/><circle cx="488.8" cy="63.1" r="3.4" fill="#aa5542"/><circle cx="488.8" cy="63.8" r="3.4" fill="#aa5442"/><circle cx="488.9" cy="64.6" r="2.9" fill="#a95441"/><circle cx="488.9" cy="65.3" r="3.1" fill="#a95341"/><circle cx="489.0" cy="66.1" r="3.1" fill="#a85240"/><circle cx="489.1" cy="66.8" r="3.4" fill="#a85240"/><circle cx="489.3" cy="67.5" r="3.0" fill="#a7513f"/><circle cx="489.5" cy="68.3" r="3.3" fill="#a7503f"/><circle cx="489.6" cy="69.0" r="3.5" fill="#a64f3e"/><circle cx="489.8" cy="69.7" r="3.4" fill="#a64f3e"/><circle cx="490.0" cy="70.4" r="2.9" fill="#a64e3e"/><circle cx="490.3" cy="71.2" r="2.9" fill="#a54d3d"/><circle cx="490.5" cy="71.9" r="2.9" fill="#a54d3d"/><circle cx="490.7" cy="72.6" r="3.3" fill="#a44c3c"/><circle cx="490.9" cy="73.3" r="3.3" fill="#a44b3c"/><circle cx="491.2" cy="74.0" r="3.2" fill="#a34a3b"/><circle cx="491.4" cy="74.7" r="3.2" fill="#a34a3b"/><circle cx="491.7" cy="75.4" r="3.1" fill="#a2493a"/><circle cx="492.1" cy="76.1" r="3.3" fill="#a2483a"/><circle cx="492.4" cy="76.8" r="3.3" fill="#a14739"/><circle cx="492.7" cy="77.4" r="3.5" fill="#a14739"/><circle cx="493.1" cy="78.1" r="3.4" fill="#a14639"/><circle cx="493.4" cy="78.8" r="3.4" fill="#a04538"/><circle cx="493.8" cy="79.4" r="3.5" fill="#a04438"/><circle cx="494.1" cy="80.1" r="3.4" fill="#9f4437"/><circle cx="494.5" cy="80.7" r="3.4" fill="#9f4337"/><circle cx="494.9" cy="81.4" r="2.8" fill="#9e4236"/><circle cx="495.3" cy="82.0" r="3.2" fill="#9e4136"/><circle cx="495.7" cy="82.7" r="3.3" fill="#9d4135"/><circle cx="496.0" cy="83.3" r="2.9" fill="#9d4035"/><circle cx="496.4" cy="84.0" r="3.2" fill="#9c3f34"/><circle cx="496.8" cy="84.6" r="2.7" fill="#9c3e34"/><circle cx="497.1" cy="85.3" r="3.1" fill="#9b3e33"/><circle cx="497.5" cy="85.9" r="2.7" fill="#9b3d33"/><circle cx="497.8" cy="86.6" r="2.9" fill="#9a3c32"/><circle cx="498.2" cy="87.3" r="2.5" fill="#9a3b32"/><circle cx="498.5" cy="87.9" r="2.5" fill="#993b31"/><circle cx="498.9" cy="88.6" r="2.5" fill="#993a31"/><circle cx="499.2" cy="89.3" r="2.4" fill="#983930"/><circle cx="499.6" cy="89.9" r="2.2" fill="#983830"/><circle cx="499.9" cy="90.6" r="2.4" fill="#983830"/>
<circle cx="500.3" cy="20.5" r=".55" fill="#7c4e39" opacity=".6"/><circle cx="500.2" cy="20.6" r=".45" fill="#d2a08a" opacity=".5"/><circle cx="499.5" cy="22.2" r=".55" fill="#7c4d38" opacity=".6"/><circle cx="499.3" cy="21.5" r=".45" fill="#d29f89" opacity=".5"/><circle cx="497.6" cy="23.1" r=".55" fill="#7c4c38" opacity=".6"/><circle cx="496.9" cy="22.9" r=".45" fill="#d29f89" opacity=".5"/><circle cx="498.9" cy="25.0" r=".55" fill="#7b4c37" opacity=".6"/><circle cx="497.3" cy="24.9" r=".45" fill="#d19e88" opacity=".5"/><circle cx="498.2" cy="26.4" r=".55" fill="#7b4b37" opacity=".6"/><circle cx="498.2" cy="26.1" r=".45" fill="#d19d88" opacity=".5"/><circle cx="495.6" cy="27.8" r=".55" fill="#7a4a37" opacity=".6"/><circle cx="496.3" cy="27.6" r=".45" fill="#d09d88" opacity=".5"/><circle cx="495.9" cy="28.9" r=".55" fill="#7a4a36" opacity=".6"/><circle cx="497.8" cy="28.5" r=".45" fill="#d09c87" opacity=".5"/><circle cx="495.8" cy="30.4" r=".55" fill="#7a4936" opacity=".6"/><circle cx="495.9" cy="30.7" r=".45" fill="#d09b87" opacity=".5"/><circle cx="494.8" cy="32.0" r=".55" fill="#794835" opacity=".6"/><circle cx="495.8" cy="32.1" r=".45" fill="#cf9a86" opacity=".5"/><circle cx="493.1" cy="32.7" r=".55" fill="#784835" opacity=".6"/><circle cx="493.8" cy="33.4" r=".45" fill="#ce9a85" opacity=".5"/><circle cx="492.2" cy="34.2" r=".55" fill="#784735" opacity=".6"/><circle cx="494.9" cy="34.9" r=".45" fill="#ce9985" opacity=".5"/><circle cx="492.3" cy="35.8" r=".55" fill="#784634" opacity=".6"/><circle cx="494.4" cy="36.0" r=".45" fill="#ce9885" opacity=".5"/><circle cx="494.2" cy="37.5" r=".55" fill="#774634" opacity=".6"/><circle cx="492.1" cy="37.0" r=".45" fill="#cd9884" opacity=".5"/><circle cx="490.7" cy="38.9" r=".55" fill="#764533" opacity=".6"/><circle cx="491.5" cy="38.5" r=".45" fill="#cc9783" opacity=".5"/><circle cx="494.3" cy="40.3" r=".55" fill="#764433" opacity=".6"/><circle cx="492.7" cy="40.3" r=".45" fill="#cc9683" opacity=".5"/><circle cx="492.3" cy="41.8" r=".55" fill="#764332" opacity=".6"/><circle cx="491.0" cy="41.2" r=".45" fill="#cb9583" opacity=".5"/><circle cx="489.5" cy="42.6" r=".55" fill="#754232" opacity=".6"/><circle cx="490.9" cy="42.7" r=".45" fill="#cb9482" opacity=".5"/><circle cx="489.4" cy="44.5" r=".55" fill="#754231" opacity=".6"/><circle cx="493.2" cy="44.7" r=".45" fill="#ca9381" opacity=".5"/><circle cx="489.8" cy="46.2" r=".55" fill="#754131" opacity=".6"/><circle cx="489.4" cy="45.6" r=".45" fill="#ca9281" opacity=".5"/><circle cx="489.6" cy="47.3" r=".55" fill="#744030" opacity=".6"/><circle cx="491.3" cy="47.4" r=".45" fill="#c99181" opacity=".5"/><circle cx="491.3" cy="48.5" r=".55" fill="#733f30" opacity=".6"/><circle cx="492.2" cy="48.7" r=".45" fill="#c99180" opacity=".5"/><circle cx="491.5" cy="49.9" r=".55" fill="#733f2f" opacity=".6"/><circle cx="491.5" cy="50.1" r=".45" fill="#c8907f" opacity=".5"/><circle cx="491.4" cy="52.2" r=".55" fill="#723d2e" opacity=".6"/><circle cx="490.6" cy="51.7" r=".45" fill="#c78f7e" opacity=".5"/><circle cx="487.4" cy="53.1" r=".55" fill="#723d2e" opacity=".6"/><circle cx="491.4" cy="53.0" r=".45" fill="#c78e7e" opacity=".5"/><circle cx="490.1" cy="54.9" r=".55" fill="#713c2e" opacity=".6"/><circle cx="490.1" cy="54.5" r=".45" fill="#c78d7e" opacity=".5"/><circle cx="487.7" cy="55.9" r=".55" fill="#713b2d" opacity=".6"/><circle cx="491.4" cy="56.2" r=".45" fill="#c68c7d" opacity=".5"/><circle cx="489.8" cy="57.9" r=".55" fill="#703a2c" opacity=".6"/><circle cx="487.9" cy="57.4" r=".45" fill="#c58b7c" opacity=".5"/><circle cx="486.8" cy="59.7" r=".55" fill="#6f392c" opacity=".6"/><circle cx="487.3" cy="59.8" r=".45" fill="#c48a7c" opacity=".5"/><circle cx="488.2" cy="61.0" r=".55" fill="#6f382b" opacity=".6"/><circle cx="487.2" cy="61.1" r=".45" fill="#c4897b" opacity=".5"/><circle cx="487.7" cy="62.2" r=".55" fill="#6e372a" opacity=".6"/><circle cx="488.9" cy="61.9" r=".45" fill="#c3887a" opacity=".5"/><circle cx="487.7" cy="64.1" r=".55" fill="#6e362a" opacity=".6"/><circle cx="487.9" cy="63.7" r=".45" fill="#c3877a" opacity=".5"/><circle cx="490.1" cy="65.0" r=".55" fill="#6d352a" opacity=".6"/><circle cx="487.6" cy="65.0" r=".45" fill="#c2867a" opacity=".5"/><circle cx="488.6" cy="66.7" r=".55" fill="#6d3529" opacity=".6"/><circle cx="489.8" cy="66.8" r=".45" fill="#c28579" opacity=".5"/><circle cx="491.1" cy="67.8" r=".55" fill="#6c3428" opacity=".6"/><circle cx="490.2" cy="68.6" r=".45" fill="#c18478" opacity=".5"/><circle cx="488.6" cy="69.2" r=".55" fill="#6b3328" opacity=".6"/><circle cx="489.6" cy="69.3" r=".45" fill="#c08377" opacity=".5"/><circle cx="490.1" cy="71.4" r=".55" fill="#6b3227" opacity=".6"/><circle cx="488.4" cy="70.8" r=".45" fill="#c08277" opacity=".5"/><circle cx="490.6" cy="72.3" r=".55" fill="#6a3127" opacity=".6"/><circle cx="489.5" cy="72.5" r=".45" fill="#bf8176" opacity=".5"/><circle cx="489.5" cy="73.6" r=".55" fill="#693026" opacity=".6"/><circle cx="490.5" cy="74.0" r=".45" fill="#be8075" opacity=".5"/><circle cx="493.7" cy="75.5" r=".55" fill="#692f25" opacity=".6"/><circle cx="489.8" cy="75.1" r=".45" fill="#bd7f75" opacity=".5"/><circle cx="493.5" cy="76.8" r=".55" fill="#682e25" opacity=".6"/><circle cx="494.0" cy="77.2" r=".45" fill="#bd7e74" opacity=".5"/><circle cx="494.7" cy="77.7" r=".55" fill="#682d25" opacity=".6"/><circle cx="495.0" cy="78.1" r=".45" fill="#bd7d74" opacity=".5"/><circle cx="492.6" cy="79.1" r=".55" fill="#682c24" opacity=".6"/><circle cx="495.4" cy="79.1" r=".45" fill="#bc7c73" opacity=".5"/><circle cx="492.6" cy="80.5" r=".55" fill="#672b23" opacity=".6"/><circle cx="496.4" cy="80.7" r=".45" fill="#bb7b73" opacity=".5"/><circle cx="496.3" cy="81.6" r=".55" fill="#662a23" opacity=".6"/><circle cx="495.1" cy="81.8" r=".45" fill="#bb7a72" opacity=".5"/><circle cx="494.7" cy="83.5" r=".55" fill="#662922" opacity=".6"/><circle cx="495.4" cy="82.9" r=".45" fill="#ba7971" opacity=".5"/><circle cx="499.0" cy="84.6" r=".55" fill="#652821" opacity=".6"/><circle cx="495.3" cy="84.1" r=".45" fill="#b97770" opacity=".5"/><circle cx="498.2" cy="85.9" r=".55" fill="#642721" opacity=".6"/><circle cx="495.4" cy="85.9" r=".45" fill="#b97770" opacity=".5"/><circle cx="499.3" cy="87.3" r=".55" fill="#642620" opacity=".6"/><circle cx="497.0" cy="87.3" r=".45" fill="#b8756f" opacity=".5"/><circle cx="499.3" cy="88.7" r=".55" fill="#63251f" opacity=".6"/><circle cx="497.3" cy="88.9" r=".45" fill="#b7756e" opacity=".5"/><circle cx="501.5" cy="90.2" r=".55" fill="#62241f" opacity=".6"/><circle cx="501.2" cy="89.8" r=".45" fill="#b6736e" opacity=".5"/><circle cx="500.8" cy="20.8" r=".6" fill="#a3664a"/><circle cx="500.6" cy="21.5" r=".6" fill="#a26549"/><circle cx="500.4" cy="22.3" r=".6" fill="#a26549"/><circle cx="496.4" cy="22.6" r=".6" fill="#a26449"/><circle cx="499.4" cy="26.7" r=".6" fill="#a16249"/><circle cx="495.0" cy="26.0" r=".6" fill="#a06248"/><circle cx="492.8" cy="30.7" r=".6" fill="#9e5f46"/><circle cx="497.3" cy="33.3" r=".6" fill="#9e5f46"/><circle cx="497.1" cy="34.0" r=".6" fill="#9e5e45"/><circle cx="490.9" cy="35.0" r=".6" fill="#9d5c44"/><circle cx="490.4" cy="36.4" r=".6" fill="#9c5b44"/><circle cx="489.3" cy="39.3" r=".6" fill="#9b5943"/><circle cx="495.1" cy="41.7" r=".6" fill="#9a5942"/><circle cx="495.0" cy="42.4" r=".6" fill="#9a5842"/><circle cx="488.4" cy="42.3" r=".6" fill="#995741"/><circle cx="488.0" cy="43.8" r=".6" fill="#995640"/><circle cx="493.6" cy="48.0" r=".6" fill="#98543f"/><circle cx="493.5" cy="48.7" r=".6" fill="#97543e"/><circle cx="493.4" cy="49.4" r=".6" fill="#97533e"/><circle cx="486.6" cy="51.5" r=".6" fill="#95503d"/><circle cx="492.8" cy="53.8" r=".6" fill="#954f3d"/><circle cx="486.3" cy="53.7" r=".6" fill="#944f3c"/><circle cx="486.3" cy="54.5" r=".6" fill="#944f3c"/><circle cx="492.4" cy="57.4" r=".6" fill="#934d3a"/><circle cx="492.3" cy="58.1" r=".6" fill="#934c3a"/><circle cx="492.1" cy="59.6" r=".6" fill="#924b39"/><circle cx="485.7" cy="60.6" r=".6" fill="#914938"/><circle cx="492.0" cy="61.7" r=".6" fill="#914938"/><circle cx="485.6" cy="64.0" r=".6" fill="#904738"/><circle cx="492.0" cy="64.3" r=".6" fill="#8f4737"/><circle cx="485.9" cy="66.5" r=".6" fill="#8e4536"/><circle cx="492.3" cy="66.2" r=".6" fill="#8e4536"/><circle cx="486.2" cy="68.2" r=".6" fill="#8d4435"/><circle cx="486.3" cy="69.0" r=".6" fill="#8d4435"/><circle cx="492.9" cy="68.9" r=".6" fill="#8d4334"/><circle cx="493.1" cy="69.5" r=".6" fill="#8d4234"/><circle cx="487.2" cy="72.1" r=".6" fill="#8c4133"/><circle cx="487.9" cy="74.4" r=".6" fill="#8b3f33"/><circle cx="494.4" cy="73.5" r=".6" fill="#8a3e32"/><circle cx="489.5" cy="78.2" r=".6" fill="#883c30"/><circle cx="490.2" cy="79.6" r=".6" fill="#883b30"/><circle cx="491.4" cy="81.7" r=".6" fill="#87392e"/><circle cx="491.7" cy="82.3" r=".6" fill="#87382e"/><circle cx="498.8" cy="81.7" r=".6" fill="#85362d"/><circle cx="499.2" cy="82.4" r=".6" fill="#84352c"/><circle cx="495.7" cy="89.4" r=".6" fill="#823229"/><circle cx="496.0" cy="90.0" r=".6" fill="#823129"/><circle cx="496.7" cy="91.4" r=".6" fill="#812f28"/>
</g>
<text x="340.5" y="90.9" font-size="4.6" text-anchor="middle" fill="#222" font-weight="bold" dominant-baseline="central">2 cm</text>
<line x1="333.90" y1="93.40" x2="347.00" y2="93.40" stroke="#222" stroke-width="0.7"/>
<line x1="54.50" y1="84.60" x2="68.70" y2="84.60" stroke="#2a2ad2" stroke-width="0.9"/>
<circle cx="61.60" cy="84.60" r="1.45" fill="#2a2ad2"/>
<text x="76.70" y="84.60" font-size="7" text-anchor="start" fill="#222" font-weight="normal" dominant-baseline="central">Length</text>
<line x1="121.00" y1="84.60" x2="135.00" y2="84.60" stroke="#e42626" stroke-width="0.9"/>
<circle cx="128.00" cy="84.60" r="1.45" fill="#e42626"/>
<text x="142.70" y="84.60" font-size="7" text-anchor="start" fill="#222" font-weight="normal" dominant-baseline="central">Diameter</text>
<line x1="192.30" y1="84.60" x2="205.00" y2="84.60" stroke="#3cb83c" stroke-width="0.9"/>
<circle cx="198.70" cy="84.60" r="1.45" fill="#3cb83c"/>
<text x="212.70" y="84.60" font-size="7" text-anchor="start" fill="#222" font-weight="normal" dominant-baseline="central">Weight</text>
<line x1="46.60" y1="91.10" x2="46.60" y2="222.90" stroke="#5a5a5a" stroke-width="1.1"/>
<line x1="46.10" y1="222.40" x2="244.10" y2="222.40" stroke="#5a5a5a" stroke-width="1.1"/>
<line x1="243.60" y1="91.10" x2="243.60" y2="222.90" stroke="#5a5a5a" stroke-width="1.1"/>
<line x1="46.10" y1="91.10" x2="244.10" y2="91.10" stroke="#5a5a5a" stroke-width="1.1"/>
<line x1="59.30" y1="222.40" x2="59.30" y2="224.60" stroke="#5a5a5a" stroke-width="0.9"/>
<line x1="78.32" y1="222.40" x2="78.32" y2="224.60" stroke="#5a5a5a" stroke-width="0.9"/>
<line x1="97.34" y1="222.40" x2="97.34" y2="224.60" stroke="#5a5a5a" stroke-width="0.9"/>
<line x1="116.36" y1="222.40" x2="116.36" y2="224.60" stroke="#5a5a5a" stroke-width="0.9"/>
<line x1="135.38" y1="222.40" x2="135.38" y2="224.60" stroke="#5a5a5a" stroke-width="0.9"/>
<line x1="154.40" y1="222.40" x2="154.40" y2="224.60" stroke="#5a5a5a" stroke-width="0.9"/>
<line x1="173.42" y1="222.40" x2="173.42" y2="224.60" stroke="#5a5a5a" stroke-width="0.9"/>
<line x1="192.44" y1="222.40" x2="192.44" y2="224.60" stroke="#5a5a5a" stroke-width="0.9"/>
<line x1="211.46" y1="222.40" x2="211.46" y2="224.60" stroke="#5a5a5a" stroke-width="0.9"/>
<line x1="230.48" y1="222.40" x2="230.48" y2="224.60" stroke="#5a5a5a" stroke-width="0.9"/>
<line x1="44.40" y1="91.10" x2="46.60" y2="91.10" stroke="#5a5a5a" stroke-width="0.9"/>
<text x="43.80" y="91.10" font-size="8.6" text-anchor="end" fill="#333" font-weight="normal" dominant-baseline="central">40</text>
<line x1="44.40" y1="124.00" x2="46.60" y2="124.00" stroke="#5a5a5a" stroke-width="0.9"/>
<text x="43.80" y="124.00" font-size="8.6" text-anchor="end" fill="#333" font-weight="normal" dominant-baseline="central">30</text>
<line x1="44.40" y1="156.80" x2="46.60" y2="156.80" stroke="#5a5a5a" stroke-width="0.9"/>
<text x="43.80" y="156.80" font-size="8.6" text-anchor="end" fill="#333" font-weight="normal" dominant-baseline="central">20</text>
<line x1="44.40" y1="189.60" x2="46.60" y2="189.60" stroke="#5a5a5a" stroke-width="0.9"/>
<text x="43.80" y="189.60" font-size="8.6" text-anchor="end" fill="#333" font-weight="normal" dominant-baseline="central">10</text>
<line x1="44.40" y1="222.40" x2="46.60" y2="222.40" stroke="#5a5a5a" stroke-width="0.9"/>
<text x="43.80" y="222.40" font-size="8.6" text-anchor="end" fill="#333" font-weight="normal" dominant-baseline="central">0</text>
<line x1="243.60" y1="91.10" x2="245.80" y2="91.10" stroke="#5a5a5a" stroke-width="0.9"/>
<text x="247.60" y="91.10" font-size="8.6" text-anchor="start" fill="#333" font-weight="normal" dominant-baseline="central">6</text>
<line x1="243.60" y1="134.90" x2="245.80" y2="134.90" stroke="#5a5a5a" stroke-width="0.9"/>
<text x="247.60" y="134.90" font-size="8.6" text-anchor="start" fill="#333" font-weight="normal" dominant-baseline="central">4</text>
<line x1="243.60" y1="178.60" x2="245.80" y2="178.60" stroke="#5a5a5a" stroke-width="0.9"/>
<text x="247.60" y="178.60" font-size="8.6" text-anchor="start" fill="#333" font-weight="normal" dominant-baseline="central">2</text>
<line x1="243.60" y1="222.40" x2="245.80" y2="222.40" stroke="#5a5a5a" stroke-width="0.9"/>
<text x="247.60" y="222.40" font-size="8.6" text-anchor="start" fill="#333" font-weight="normal" dominant-baseline="central">0</text>
<text x="23.80" y="157.10" font-size="8.55" text-anchor="middle" fill="#222" font-weight="normal" dominant-baseline="central" transform="rotate(-90 23.8 157.1)">Fruit length and diameter (mm)</text>
<text x="265.80" y="156.90" font-size="8.7" text-anchor="middle" fill="#222" font-weight="normal" dominant-baseline="central" transform="rotate(-90 265.8 156.9)">Fruit weight (g)</text>
<g filter="url(#blur04)">
<defs><radialGradient id="xsb0"><stop offset="0" stop-color="#b0b868"/><stop offset="0.45" stop-color="#98a048"/><stop offset="0.85" stop-color="#7a8a38"/><stop offset="1" stop-color="#586828"/></radialGradient></defs>
<path d="M63.53,154.09 L62.17,155.02 L61.35,156.45 L59.78,155.95 L58.15,156.20 L57.55,154.67 L56.34,153.55 L57.17,152.13 L57.29,150.48 L58.92,150.24 L60.28,149.31 L61.48,150.44 L63.06,150.92 L62.93,152.56Z" fill="url(#xsb0)" stroke="#586828" stroke-width="0.5" stroke-linejoin="round"/>
<line x1="60.39" y1="153.21" x2="62.21" y2="154.21" stroke="#c8d090" stroke-width="0.5" opacity="0.6"/>
<line x1="60.19" y1="153.40" x2="61.08" y2="155.27" stroke="#c8d090" stroke-width="0.5" opacity="0.6"/>
<line x1="59.92" y1="153.44" x2="59.54" y2="155.47" stroke="#c8d090" stroke-width="0.5" opacity="0.6"/>
<line x1="59.68" y1="153.30" x2="58.17" y2="154.73" stroke="#c8d090" stroke-width="0.5" opacity="0.6"/>
<line x1="59.56" y1="153.06" x2="57.50" y2="153.32" stroke="#c8d090" stroke-width="0.5" opacity="0.6"/>
<line x1="59.61" y1="152.79" x2="57.79" y2="151.79" stroke="#c8d090" stroke-width="0.5" opacity="0.6"/>
<line x1="59.81" y1="152.60" x2="58.92" y2="150.73" stroke="#c8d090" stroke-width="0.5" opacity="0.6"/>
<line x1="60.08" y1="152.56" x2="60.46" y2="150.53" stroke="#c8d090" stroke-width="0.5" opacity="0.6"/>
<line x1="60.32" y1="152.70" x2="61.83" y2="151.27" stroke="#c8d090" stroke-width="0.5" opacity="0.6"/>
<line x1="60.44" y1="152.94" x2="62.50" y2="152.68" stroke="#c8d090" stroke-width="0.5" opacity="0.6"/>
<defs><radialGradient id="xsb1"><stop offset="0" stop-color="#c8c888"/><stop offset="0.45" stop-color="#b0b860"/><stop offset="0.85" stop-color="#98a850"/><stop offset="1" stop-color="#788830"/></radialGradient></defs>
<path d="M81.13,146.95 L79.69,147.92 L78.82,149.43 L77.16,148.91 L75.45,149.18 L74.82,147.56 L73.54,146.38 L74.42,144.88 L74.54,143.15 L76.26,142.89 L77.69,141.91 L78.96,143.10 L80.62,143.61 L80.49,145.34Z" fill="url(#xsb1)" stroke="#788830" stroke-width="0.5" stroke-linejoin="round"/>
<line x1="77.81" y1="146.02" x2="79.73" y2="147.07" stroke="#e0e0b0" stroke-width="0.5" opacity="0.6"/>
<line x1="77.60" y1="146.22" x2="78.54" y2="148.20" stroke="#e0e0b0" stroke-width="0.5" opacity="0.6"/>
<line x1="77.31" y1="146.26" x2="76.91" y2="148.41" stroke="#e0e0b0" stroke-width="0.5" opacity="0.6"/>
<line x1="77.06" y1="146.12" x2="75.47" y2="147.62" stroke="#e0e0b0" stroke-width="0.5" opacity="0.6"/>
<line x1="76.94" y1="145.86" x2="74.77" y2="146.14" stroke="#e0e0b0" stroke-width="0.5" opacity="0.6"/>
<line x1="76.99" y1="145.58" x2="75.07" y2="144.53" stroke="#e0e0b0" stroke-width="0.5" opacity="0.6"/>
<line x1="77.20" y1="145.38" x2="76.26" y2="143.40" stroke="#e0e0b0" stroke-width="0.5" opacity="0.6"/>
<line x1="77.49" y1="145.34" x2="77.89" y2="143.19" stroke="#e0e0b0" stroke-width="0.5" opacity="0.6"/>
<line x1="77.74" y1="145.48" x2="79.33" y2="143.98" stroke="#e0e0b0" stroke-width="0.5" opacity="0.6"/>
<line x1="77.86" y1="145.74" x2="80.03" y2="145.46" stroke="#e0e0b0" stroke-width="0.5" opacity="0.6"/>
<defs><radialGradient id="xsb2"><stop offset="0" stop-color="#d8d890"/><stop offset="0.45" stop-color="#c0c070"/><stop offset="0.85" stop-color="#a0a048"/><stop offset="1" stop-color="#686828"/></radialGradient></defs>
<path d="M100.80,140.00 L99.18,141.10 L98.20,142.80 L96.33,142.21 L94.40,142.51 L93.69,140.68 L92.25,139.35 L93.24,137.66 L93.38,135.70 L95.32,135.42 L96.93,134.31 L98.36,135.65 L100.24,136.22 L100.08,138.18Z" fill="url(#xsb2)" stroke="#686828" stroke-width="0.5" stroke-linejoin="round"/>
<line x1="97.06" y1="138.95" x2="99.23" y2="140.13" stroke="#f0f0c0" stroke-width="0.5" opacity="0.6"/>
<line x1="96.83" y1="139.18" x2="97.88" y2="141.40" stroke="#f0f0c0" stroke-width="0.5" opacity="0.6"/>
<line x1="96.50" y1="139.22" x2="96.05" y2="141.64" stroke="#f0f0c0" stroke-width="0.5" opacity="0.6"/>
<line x1="96.22" y1="139.06" x2="94.42" y2="140.75" stroke="#f0f0c0" stroke-width="0.5" opacity="0.6"/>
<line x1="96.08" y1="138.77" x2="93.63" y2="139.08" stroke="#f0f0c0" stroke-width="0.5" opacity="0.6"/>
<line x1="96.14" y1="138.45" x2="93.97" y2="137.27" stroke="#f0f0c0" stroke-width="0.5" opacity="0.6"/>
<line x1="96.37" y1="138.22" x2="95.32" y2="136.00" stroke="#f0f0c0" stroke-width="0.5" opacity="0.6"/>
<line x1="96.70" y1="138.18" x2="97.15" y2="135.76" stroke="#f0f0c0" stroke-width="0.5" opacity="0.6"/>
<line x1="96.98" y1="138.34" x2="98.78" y2="136.65" stroke="#f0f0c0" stroke-width="0.5" opacity="0.6"/>
<line x1="97.12" y1="138.63" x2="99.57" y2="138.32" stroke="#f0f0c0" stroke-width="0.5" opacity="0.6"/>
<defs><radialGradient id="xsb3"><stop offset="0" stop-color="#d8c898"/><stop offset="0.45" stop-color="#e0a090"/><stop offset="0.85" stop-color="#c87068"/><stop offset="1" stop-color="#a05048"/></radialGradient></defs>
<path d="M120.78,137.18 L119.98,138.00 L119.66,139.10 L118.59,139.50 L117.82,140.36 L116.68,140.25 L115.62,140.69 L114.64,140.09 L113.50,140.03 L112.87,139.07 L111.87,138.51 L111.72,137.38 L111.06,136.44 L111.41,135.35 L111.22,134.22 L112.02,133.40 L112.34,132.30 L113.41,131.90 L114.18,131.04 L115.32,131.15 L116.38,130.71 L117.36,131.31 L118.50,131.37 L119.13,132.33 L120.13,132.89 L120.28,134.02 L120.94,134.96 L120.59,136.05Z" fill="url(#xsb3)" stroke="#a05048" stroke-width="0.5" stroke-linejoin="round"/>
<line x1="116.53" y1="135.99" x2="118.98" y2="137.33" stroke="#f0d0c0" stroke-width="0.5" opacity="0.6"/>
<line x1="116.26" y1="136.24" x2="117.46" y2="138.77" stroke="#f0d0c0" stroke-width="0.5" opacity="0.6"/>
<line x1="115.89" y1="136.29" x2="115.37" y2="139.04" stroke="#f0d0c0" stroke-width="0.5" opacity="0.6"/>
<line x1="115.56" y1="136.11" x2="113.53" y2="138.03" stroke="#f0d0c0" stroke-width="0.5" opacity="0.6"/>
<line x1="115.40" y1="135.78" x2="112.63" y2="136.14" stroke="#f0d0c0" stroke-width="0.5" opacity="0.6"/>
<line x1="115.47" y1="135.41" x2="113.02" y2="134.07" stroke="#f0d0c0" stroke-width="0.5" opacity="0.6"/>
<line x1="115.74" y1="135.16" x2="114.54" y2="132.63" stroke="#f0d0c0" stroke-width="0.5" opacity="0.6"/>
<line x1="116.11" y1="135.11" x2="116.63" y2="132.36" stroke="#f0d0c0" stroke-width="0.5" opacity="0.6"/>
<line x1="116.44" y1="135.29" x2="118.47" y2="133.37" stroke="#f0d0c0" stroke-width="0.5" opacity="0.6"/>
<line x1="116.60" y1="135.62" x2="119.37" y2="135.26" stroke="#f0d0c0" stroke-width="0.5" opacity="0.6"/>
<defs><radialGradient id="xsb4"><stop offset="0" stop-color="#d0b078"/><stop offset="0.45" stop-color="#d86068"/><stop offset="0.8" stop-color="#a83848"/><stop offset="1" stop-color="#702028"/></radialGradient></defs>
<path d="M140.33,126.57 L139.38,127.56 L139.00,128.88 L137.71,129.36 L136.79,130.39 L135.42,130.26 L134.15,130.78 L132.97,130.07 L131.60,129.99 L130.84,128.84 L129.64,128.18 L129.46,126.81 L128.67,125.69 L129.10,124.38 L128.87,123.03 L129.82,122.04 L130.20,120.72 L131.49,120.24 L132.41,119.21 L133.78,119.34 L135.05,118.82 L136.23,119.53 L137.60,119.61 L138.36,120.76 L139.56,121.42 L139.74,122.79 L140.53,123.91 L140.10,125.22Z" fill="url(#xsb4)" stroke="#702028" stroke-width="0.5" stroke-linejoin="round"/>
<line x1="135.23" y1="125.15" x2="138.18" y2="126.76" stroke="#f0b0a0" stroke-width="0.5" opacity="0.6"/>
<line x1="134.91" y1="125.45" x2="136.35" y2="128.49" stroke="#f0b0a0" stroke-width="0.5" opacity="0.6"/>
<line x1="134.47" y1="125.51" x2="133.85" y2="128.81" stroke="#f0b0a0" stroke-width="0.5" opacity="0.6"/>
<line x1="134.08" y1="125.29" x2="131.63" y2="127.60" stroke="#f0b0a0" stroke-width="0.5" opacity="0.6"/>
<line x1="133.89" y1="124.89" x2="130.55" y2="125.32" stroke="#f0b0a0" stroke-width="0.5" opacity="0.6"/>
<line x1="133.97" y1="124.45" x2="131.02" y2="122.84" stroke="#f0b0a0" stroke-width="0.5" opacity="0.6"/>
<line x1="134.29" y1="124.15" x2="132.85" y2="121.11" stroke="#f0b0a0" stroke-width="0.5" opacity="0.6"/>
<line x1="134.73" y1="124.09" x2="135.35" y2="120.79" stroke="#f0b0a0" stroke-width="0.5" opacity="0.6"/>
<line x1="135.12" y1="124.31" x2="137.57" y2="122.00" stroke="#f0b0a0" stroke-width="0.5" opacity="0.6"/>
<line x1="135.31" y1="124.71" x2="138.65" y2="124.28" stroke="#f0b0a0" stroke-width="0.5" opacity="0.6"/>
<defs><radialGradient id="xsb5"><stop offset="0" stop-color="#c8a068"/><stop offset="0.45" stop-color="#c84050"/><stop offset="0.78" stop-color="#902838"/><stop offset="1" stop-color="#501820"/></radialGradient></defs>
<path d="M160.12,121.66 L159.12,122.70 L158.71,124.09 L157.36,124.59 L156.40,125.67 L154.96,125.53 L153.62,126.08 L152.39,125.34 L150.95,125.25 L150.15,124.05 L148.89,123.34 L148.70,121.91 L147.87,120.73 L148.32,119.36 L148.08,117.94 L149.08,116.90 L149.49,115.51 L150.84,115.01 L151.80,113.93 L153.24,114.07 L154.58,113.52 L155.81,114.26 L157.25,114.35 L158.05,115.55 L159.31,116.26 L159.50,117.69 L160.33,118.87 L159.88,120.24Z" fill="url(#xsb5)" stroke="#501820" stroke-width="0.5" stroke-linejoin="round"/>
<line x1="154.76" y1="120.16" x2="157.86" y2="121.85" stroke="#f0a0a0" stroke-width="0.5" opacity="0.6"/>
<line x1="154.42" y1="120.48" x2="155.93" y2="123.67" stroke="#f0a0a0" stroke-width="0.5" opacity="0.6"/>
<line x1="153.96" y1="120.54" x2="153.31" y2="124.01" stroke="#f0a0a0" stroke-width="0.5" opacity="0.6"/>
<line x1="153.55" y1="120.32" x2="150.98" y2="122.74" stroke="#f0a0a0" stroke-width="0.5" opacity="0.6"/>
<line x1="153.35" y1="119.90" x2="149.85" y2="120.35" stroke="#f0a0a0" stroke-width="0.5" opacity="0.6"/>
<line x1="153.44" y1="119.44" x2="150.34" y2="117.75" stroke="#f0a0a0" stroke-width="0.5" opacity="0.6"/>
<line x1="153.78" y1="119.12" x2="152.27" y2="115.93" stroke="#f0a0a0" stroke-width="0.5" opacity="0.6"/>
<line x1="154.24" y1="119.06" x2="154.89" y2="115.59" stroke="#f0a0a0" stroke-width="0.5" opacity="0.6"/>
<line x1="154.65" y1="119.28" x2="157.22" y2="116.86" stroke="#f0a0a0" stroke-width="0.5" opacity="0.6"/>
<line x1="154.85" y1="119.70" x2="158.35" y2="119.25" stroke="#f0a0a0" stroke-width="0.5" opacity="0.6"/>
<defs><radialGradient id="xsb6"><stop offset="0" stop-color="#c8a050"/><stop offset="0.45" stop-color="#c03040"/><stop offset="0.74" stop-color="#3a1418"/><stop offset="1" stop-color="#1a1010"/></radialGradient></defs>
<path d="M179.90,118.61 L178.82,119.73 L178.38,121.23 L176.92,121.77 L175.88,122.93 L174.33,122.79 L172.89,123.38 L171.55,122.58 L170.00,122.49 L169.14,121.18 L167.78,120.43 L167.57,118.88 L166.68,117.61 L167.16,116.13 L166.90,114.59 L167.98,113.47 L168.42,111.97 L169.88,111.43 L170.92,110.27 L172.47,110.41 L173.91,109.82 L175.25,110.62 L176.80,110.71 L177.66,112.02 L179.02,112.77 L179.23,114.32 L180.12,115.59 L179.64,117.07Z" fill="url(#xsb6)" stroke="#1a1010" stroke-width="0.5" stroke-linejoin="round"/>
<line x1="174.12" y1="116.99" x2="177.46" y2="118.82" stroke="#e89080" stroke-width="0.5" opacity="0.6"/>
<line x1="173.75" y1="117.34" x2="175.38" y2="120.78" stroke="#e89080" stroke-width="0.5" opacity="0.6"/>
<line x1="173.25" y1="117.40" x2="172.55" y2="121.14" stroke="#e89080" stroke-width="0.5" opacity="0.6"/>
<line x1="172.81" y1="117.16" x2="170.04" y2="119.77" stroke="#e89080" stroke-width="0.5" opacity="0.6"/>
<line x1="172.59" y1="116.70" x2="168.81" y2="117.19" stroke="#e89080" stroke-width="0.5" opacity="0.6"/>
<line x1="172.68" y1="116.21" x2="169.34" y2="114.38" stroke="#e89080" stroke-width="0.5" opacity="0.6"/>
<line x1="173.05" y1="115.86" x2="171.42" y2="112.42" stroke="#e89080" stroke-width="0.5" opacity="0.6"/>
<line x1="173.55" y1="115.80" x2="174.25" y2="112.06" stroke="#e89080" stroke-width="0.5" opacity="0.6"/>
<line x1="173.99" y1="116.04" x2="176.76" y2="113.43" stroke="#e89080" stroke-width="0.5" opacity="0.6"/>
<line x1="174.21" y1="116.50" x2="177.99" y2="116.01" stroke="#e89080" stroke-width="0.5" opacity="0.6"/>
<defs><radialGradient id="xsb7"><stop offset="0" stop-color="#c8a850"/><stop offset="0.45" stop-color="#b83040"/><stop offset="0.74" stop-color="#341418"/><stop offset="1" stop-color="#1a1010"/></radialGradient></defs>
<path d="M198.59,116.54 L197.49,117.68 L197.05,119.20 L195.57,119.75 L194.52,120.93 L192.94,120.78 L191.48,121.38 L190.12,120.56 L188.55,120.47 L187.68,119.15 L186.30,118.38 L186.09,116.81 L185.18,115.52 L185.67,114.02 L185.41,112.46 L186.51,111.32 L186.95,109.80 L188.43,109.25 L189.48,108.07 L191.06,108.22 L192.52,107.62 L193.88,108.44 L195.45,108.53 L196.32,109.85 L197.70,110.62 L197.91,112.19 L198.82,113.48 L198.33,114.98Z" fill="url(#xsb7)" stroke="#1a1010" stroke-width="0.5" stroke-linejoin="round"/>
<line x1="192.73" y1="114.90" x2="196.12" y2="116.75" stroke="#e88878" stroke-width="0.5" opacity="0.6"/>
<line x1="192.35" y1="115.25" x2="194.01" y2="118.74" stroke="#e88878" stroke-width="0.5" opacity="0.6"/>
<line x1="191.85" y1="115.31" x2="191.13" y2="119.11" stroke="#e88878" stroke-width="0.5" opacity="0.6"/>
<line x1="191.40" y1="115.07" x2="188.59" y2="117.72" stroke="#e88878" stroke-width="0.5" opacity="0.6"/>
<line x1="191.18" y1="114.61" x2="187.35" y2="115.10" stroke="#e88878" stroke-width="0.5" opacity="0.6"/>
<line x1="191.27" y1="114.10" x2="187.88" y2="112.25" stroke="#e88878" stroke-width="0.5" opacity="0.6"/>
<line x1="191.65" y1="113.75" x2="189.99" y2="110.26" stroke="#e88878" stroke-width="0.5" opacity="0.6"/>
<line x1="192.15" y1="113.69" x2="192.87" y2="109.89" stroke="#e88878" stroke-width="0.5" opacity="0.6"/>
<line x1="192.60" y1="113.93" x2="195.41" y2="111.28" stroke="#e88878" stroke-width="0.5" opacity="0.6"/>
<line x1="192.82" y1="114.39" x2="196.65" y2="113.90" stroke="#e88878" stroke-width="0.5" opacity="0.6"/>
<defs><radialGradient id="xsb8"><stop offset="0" stop-color="#c89868"/><stop offset="0.45" stop-color="#c04050"/><stop offset="0.74" stop-color="#2e1418"/><stop offset="1" stop-color="#1a1010"/></radialGradient></defs>
<path d="M217.38,115.63 L216.23,116.82 L215.77,118.40 L214.23,118.98 L213.13,120.20 L211.48,120.05 L209.96,120.68 L208.54,119.83 L206.90,119.73 L205.99,118.35 L204.55,117.55 L204.33,115.92 L203.38,114.57 L203.89,113.00 L203.62,111.37 L204.77,110.18 L205.23,108.60 L206.77,108.02 L207.87,106.80 L209.52,106.95 L211.04,106.32 L212.46,107.17 L214.10,107.27 L215.01,108.65 L216.45,109.45 L216.67,111.08 L217.62,112.43 L217.11,114.00Z" fill="url(#xsb8)" stroke="#1a1010" stroke-width="0.5" stroke-linejoin="round"/>
<line x1="211.26" y1="113.91" x2="214.80" y2="115.85" stroke="#e898a0" stroke-width="0.5" opacity="0.6"/>
<line x1="210.87" y1="114.28" x2="212.60" y2="117.92" stroke="#e898a0" stroke-width="0.5" opacity="0.6"/>
<line x1="210.34" y1="114.35" x2="209.60" y2="118.31" stroke="#e898a0" stroke-width="0.5" opacity="0.6"/>
<line x1="209.87" y1="114.09" x2="206.94" y2="116.86" stroke="#e898a0" stroke-width="0.5" opacity="0.6"/>
<line x1="209.64" y1="113.61" x2="205.64" y2="114.13" stroke="#e898a0" stroke-width="0.5" opacity="0.6"/>
<line x1="209.74" y1="113.09" x2="206.20" y2="111.15" stroke="#e898a0" stroke-width="0.5" opacity="0.6"/>
<line x1="210.13" y1="112.72" x2="208.40" y2="109.08" stroke="#e898a0" stroke-width="0.5" opacity="0.6"/>
<line x1="210.66" y1="112.65" x2="211.40" y2="108.69" stroke="#e898a0" stroke-width="0.5" opacity="0.6"/>
<line x1="211.13" y1="112.91" x2="214.06" y2="110.14" stroke="#e898a0" stroke-width="0.5" opacity="0.6"/>
<line x1="211.36" y1="113.39" x2="215.36" y2="112.87" stroke="#e898a0" stroke-width="0.5" opacity="0.6"/>
<defs><radialGradient id="xsb9"><stop offset="0" stop-color="#6a5a50"/><stop offset="0.45" stop-color="#3c3838"/><stop offset="0.85" stop-color="#303030"/><stop offset="1" stop-color="#1e1c1e"/></radialGradient></defs>
<path d="M237.45,107.63 L236.19,108.94 L235.69,110.68 L233.99,111.31 L232.78,112.66 L230.98,112.49 L229.30,113.18 L227.75,112.24 L225.94,112.14 L224.95,110.62 L223.37,109.75 L223.13,107.95 L222.09,106.47 L222.65,104.75 L222.35,102.97 L223.61,101.66 L224.11,99.92 L225.81,99.29 L227.02,97.94 L228.82,98.11 L230.50,97.42 L232.05,98.36 L233.86,98.46 L234.85,99.98 L236.43,100.85 L236.67,102.65 L237.71,104.13 L237.15,105.85Z" fill="url(#xsb9)" stroke="#1e1c1e" stroke-width="0.5" stroke-linejoin="round"/>
<line x1="230.73" y1="105.75" x2="234.61" y2="107.88" stroke="#906068" stroke-width="0.5" opacity="0.6"/>
<line x1="230.31" y1="106.16" x2="232.20" y2="110.15" stroke="#906068" stroke-width="0.5" opacity="0.6"/>
<line x1="229.72" y1="106.23" x2="228.91" y2="110.58" stroke="#906068" stroke-width="0.5" opacity="0.6"/>
<line x1="229.21" y1="105.95" x2="225.99" y2="108.99" stroke="#906068" stroke-width="0.5" opacity="0.6"/>
<line x1="228.96" y1="105.42" x2="224.57" y2="105.99" stroke="#906068" stroke-width="0.5" opacity="0.6"/>
<line x1="229.07" y1="104.85" x2="225.19" y2="102.72" stroke="#906068" stroke-width="0.5" opacity="0.6"/>
<line x1="229.49" y1="104.44" x2="227.60" y2="100.45" stroke="#906068" stroke-width="0.5" opacity="0.6"/>
<line x1="230.08" y1="104.37" x2="230.89" y2="100.02" stroke="#906068" stroke-width="0.5" opacity="0.6"/>
<line x1="230.59" y1="104.65" x2="233.81" y2="101.61" stroke="#906068" stroke-width="0.5" opacity="0.6"/>
<line x1="230.84" y1="105.18" x2="235.23" y2="104.61" stroke="#906068" stroke-width="0.5" opacity="0.6"/>
</g>
<polyline points="59.30,212.20 78.32,208.50 97.34,202.90 116.36,202.70 135.38,194.00 154.40,187.70 173.42,178.50 192.44,173.40 211.46,171.60 230.48,131.00" fill="none" stroke="#50c050" stroke-width="0.8" stroke-linejoin="round"/>
<line x1="59.30" y1="209.30" x2="59.30" y2="214.90" stroke="#40a040" stroke-width="0.8"/>
<line x1="57.70" y1="209.30" x2="60.90" y2="209.30" stroke="#40a040" stroke-width="0.8"/>
<line x1="57.70" y1="214.90" x2="60.90" y2="214.90" stroke="#40a040" stroke-width="0.8"/>
<line x1="78.32" y1="207.00" x2="78.32" y2="210.00" stroke="#40a040" stroke-width="0.8"/>
<line x1="76.72" y1="207.00" x2="79.92" y2="207.00" stroke="#40a040" stroke-width="0.8"/>
<line x1="76.72" y1="210.00" x2="79.92" y2="210.00" stroke="#40a040" stroke-width="0.8"/>
<line x1="97.34" y1="200.00" x2="97.34" y2="206.00" stroke="#40a040" stroke-width="0.8"/>
<line x1="95.74" y1="200.00" x2="98.94" y2="200.00" stroke="#40a040" stroke-width="0.8"/>
<line x1="95.74" y1="206.00" x2="98.94" y2="206.00" stroke="#40a040" stroke-width="0.8"/>
<line x1="116.36" y1="199.10" x2="116.36" y2="206.50" stroke="#40a040" stroke-width="0.8"/>
<line x1="114.76" y1="199.10" x2="117.96" y2="199.10" stroke="#40a040" stroke-width="0.8"/>
<line x1="114.76" y1="206.50" x2="117.96" y2="206.50" stroke="#40a040" stroke-width="0.8"/>
<line x1="135.38" y1="189.40" x2="135.38" y2="198.30" stroke="#40a040" stroke-width="0.8"/>
<line x1="133.78" y1="189.40" x2="136.98" y2="189.40" stroke="#40a040" stroke-width="0.8"/>
<line x1="133.78" y1="198.30" x2="136.98" y2="198.30" stroke="#40a040" stroke-width="0.8"/>
<line x1="154.40" y1="181.80" x2="154.40" y2="192.00" stroke="#40a040" stroke-width="0.8"/>
<line x1="152.80" y1="181.80" x2="156.00" y2="181.80" stroke="#40a040" stroke-width="0.8"/>
<line x1="152.80" y1="192.00" x2="156.00" y2="192.00" stroke="#40a040" stroke-width="0.8"/>
<line x1="173.42" y1="170.40" x2="173.42" y2="185.60" stroke="#40a040" stroke-width="0.8"/>
<line x1="171.82" y1="170.40" x2="175.02" y2="170.40" stroke="#40a040" stroke-width="0.8"/>
<line x1="171.82" y1="185.60" x2="175.02" y2="185.60" stroke="#40a040" stroke-width="0.8"/>
<line x1="192.44" y1="166.50" x2="192.44" y2="180.00" stroke="#40a040" stroke-width="0.8"/>
<line x1="190.84" y1="166.50" x2="194.04" y2="166.50" stroke="#40a040" stroke-width="0.8"/>
<line x1="190.84" y1="180.00" x2="194.04" y2="180.00" stroke="#40a040" stroke-width="0.8"/>
<line x1="211.46" y1="163.20" x2="211.46" y2="178.50" stroke="#40a040" stroke-width="0.8"/>
<line x1="209.86" y1="163.20" x2="213.06" y2="163.20" stroke="#40a040" stroke-width="0.8"/>
<line x1="209.86" y1="178.50" x2="213.06" y2="178.50" stroke="#40a040" stroke-width="0.8"/>
<line x1="230.48" y1="107.80" x2="230.48" y2="153.30" stroke="#40a040" stroke-width="0.8"/>
<line x1="228.88" y1="107.80" x2="232.08" y2="107.80" stroke="#40a040" stroke-width="0.8"/>
<line x1="228.88" y1="153.30" x2="232.08" y2="153.30" stroke="#40a040" stroke-width="0.8"/>
<circle cx="59.30" cy="212.20" r="1.35" fill="#3cb83c"/>
<circle cx="78.32" cy="208.50" r="1.35" fill="#3cb83c"/>
<circle cx="97.34" cy="202.90" r="1.35" fill="#3cb83c"/>
<circle cx="116.36" cy="202.70" r="1.35" fill="#3cb83c"/>
<circle cx="135.38" cy="194.00" r="1.35" fill="#3cb83c"/>
<circle cx="154.40" cy="187.70" r="1.35" fill="#3cb83c"/>
<circle cx="173.42" cy="178.50" r="1.35" fill="#3cb83c"/>
<circle cx="192.44" cy="173.40" r="1.35" fill="#3cb83c"/>
<circle cx="211.46" cy="171.60" r="1.35" fill="#3cb83c"/>
<circle cx="230.48" cy="131.00" r="1.35" fill="#3cb83c"/>
<polyline points="59.30,195.60 78.32,192.70 97.34,190.20 116.36,189.40 135.38,183.10 154.40,182.30 173.42,178.50 192.44,176.20 211.46,175.20 230.48,169.90" fill="none" stroke="#e04a4a" stroke-width="0.8" stroke-linejoin="round"/>
<line x1="59.30" y1="192.20" x2="59.30" y2="198.80" stroke="#c83030" stroke-width="0.8"/>
<line x1="57.70" y1="192.20" x2="60.90" y2="192.20" stroke="#c83030" stroke-width="0.8"/>
<line x1="57.70" y1="198.80" x2="60.90" y2="198.80" stroke="#c83030" stroke-width="0.8"/>
<line x1="78.32" y1="190.80" x2="78.32" y2="194.60" stroke="#c83030" stroke-width="0.8"/>
<line x1="76.72" y1="190.80" x2="79.92" y2="190.80" stroke="#c83030" stroke-width="0.8"/>
<line x1="76.72" y1="194.60" x2="79.92" y2="194.60" stroke="#c83030" stroke-width="0.8"/>
<line x1="97.34" y1="188.00" x2="97.34" y2="192.40" stroke="#c83030" stroke-width="0.8"/>
<line x1="95.74" y1="188.00" x2="98.94" y2="188.00" stroke="#c83030" stroke-width="0.8"/>
<line x1="95.74" y1="192.40" x2="98.94" y2="192.40" stroke="#c83030" stroke-width="0.8"/>
<line x1="116.36" y1="187.00" x2="116.36" y2="191.80" stroke="#c83030" stroke-width="0.8"/>
<line x1="114.76" y1="187.00" x2="117.96" y2="187.00" stroke="#c83030" stroke-width="0.8"/>
<line x1="114.76" y1="191.80" x2="117.96" y2="191.80" stroke="#c83030" stroke-width="0.8"/>
<line x1="135.38" y1="180.80" x2="135.38" y2="185.40" stroke="#c83030" stroke-width="0.8"/>
<line x1="133.78" y1="180.80" x2="136.98" y2="180.80" stroke="#c83030" stroke-width="0.8"/>
<line x1="133.78" y1="185.40" x2="136.98" y2="185.40" stroke="#c83030" stroke-width="0.8"/>
<line x1="154.40" y1="180.20" x2="154.40" y2="184.40" stroke="#c83030" stroke-width="0.8"/>
<line x1="152.80" y1="180.20" x2="156.00" y2="180.20" stroke="#c83030" stroke-width="0.8"/>
<line x1="152.80" y1="184.40" x2="156.00" y2="184.40" stroke="#c83030" stroke-width="0.8"/>
<line x1="173.42" y1="176.00" x2="173.42" y2="181.00" stroke="#c83030" stroke-width="0.8"/>
<line x1="171.82" y1="176.00" x2="175.02" y2="176.00" stroke="#c83030" stroke-width="0.8"/>
<line x1="171.82" y1="181.00" x2="175.02" y2="181.00" stroke="#c83030" stroke-width="0.8"/>
<line x1="192.44" y1="173.60" x2="192.44" y2="178.80" stroke="#c83030" stroke-width="0.8"/>
<line x1="190.84" y1="173.60" x2="194.04" y2="173.60" stroke="#c83030" stroke-width="0.8"/>
<line x1="190.84" y1="178.80" x2="194.04" y2="178.80" stroke="#c83030" stroke-width="0.8"/>
<line x1="211.46" y1="172.60" x2="211.46" y2="177.80" stroke="#c83030" stroke-width="0.8"/>
<line x1="209.86" y1="172.60" x2="213.06" y2="172.60" stroke="#c83030" stroke-width="0.8"/>
<line x1="209.86" y1="177.80" x2="213.06" y2="177.80" stroke="#c83030" stroke-width="0.8"/>
<line x1="230.48" y1="167.60" x2="230.48" y2="172.60" stroke="#c83030" stroke-width="0.8"/>
<line x1="228.88" y1="167.60" x2="232.08" y2="167.60" stroke="#c83030" stroke-width="0.8"/>
<line x1="228.88" y1="172.60" x2="232.08" y2="172.60" stroke="#c83030" stroke-width="0.8"/>
<circle cx="59.30" cy="195.60" r="1.75" fill="#e42626"/>
<circle cx="78.32" cy="192.70" r="1.75" fill="#e42626"/>
<circle cx="97.34" cy="190.20" r="1.75" fill="#e42626"/>
<circle cx="116.36" cy="189.40" r="1.75" fill="#e42626"/>
<circle cx="135.38" cy="183.10" r="1.75" fill="#e42626"/>
<circle cx="154.40" cy="182.30" r="1.75" fill="#e42626"/>
<circle cx="173.42" cy="178.50" r="1.75" fill="#e42626"/>
<circle cx="192.44" cy="176.20" r="1.75" fill="#e42626"/>
<circle cx="211.46" cy="175.20" r="1.75" fill="#e42626"/>
<circle cx="230.48" cy="169.90" r="1.75" fill="#e42626"/>
<polyline points="59.30,169.80 78.32,159.70 97.34,152.20 116.36,151.00 135.38,144.20 154.40,137.60 173.42,137.50 192.44,136.60 211.46,135.60 230.48,128.60" fill="none" stroke="#4a4ad8" stroke-width="0.8" stroke-linejoin="round"/>
<line x1="59.30" y1="162.50" x2="59.30" y2="176.80" stroke="#3a3aa8" stroke-width="0.8"/>
<line x1="57.70" y1="162.50" x2="60.90" y2="162.50" stroke="#3a3aa8" stroke-width="0.8"/>
<line x1="57.70" y1="176.80" x2="60.90" y2="176.80" stroke="#3a3aa8" stroke-width="0.8"/>
<line x1="78.32" y1="154.80" x2="78.32" y2="164.30" stroke="#3a3aa8" stroke-width="0.8"/>
<line x1="76.72" y1="154.80" x2="79.92" y2="154.80" stroke="#3a3aa8" stroke-width="0.8"/>
<line x1="76.72" y1="164.30" x2="79.92" y2="164.30" stroke="#3a3aa8" stroke-width="0.8"/>
<line x1="97.34" y1="147.40" x2="97.34" y2="156.50" stroke="#3a3aa8" stroke-width="0.8"/>
<line x1="95.74" y1="147.40" x2="98.94" y2="147.40" stroke="#3a3aa8" stroke-width="0.8"/>
<line x1="95.74" y1="156.50" x2="98.94" y2="156.50" stroke="#3a3aa8" stroke-width="0.8"/>
<line x1="116.36" y1="145.00" x2="116.36" y2="156.50" stroke="#3a3aa8" stroke-width="0.8"/>
<line x1="114.76" y1="145.00" x2="117.96" y2="145.00" stroke="#3a3aa8" stroke-width="0.8"/>
<line x1="114.76" y1="156.50" x2="117.96" y2="156.50" stroke="#3a3aa8" stroke-width="0.8"/>
<line x1="135.38" y1="136.80" x2="135.38" y2="151.90" stroke="#3a3aa8" stroke-width="0.8"/>
<line x1="133.78" y1="136.80" x2="136.98" y2="136.80" stroke="#3a3aa8" stroke-width="0.8"/>
<line x1="133.78" y1="151.90" x2="136.98" y2="151.90" stroke="#3a3aa8" stroke-width="0.8"/>
<line x1="154.40" y1="131.50" x2="154.40" y2="144.50" stroke="#3a3aa8" stroke-width="0.8"/>
<line x1="152.80" y1="131.50" x2="156.00" y2="131.50" stroke="#3a3aa8" stroke-width="0.8"/>
<line x1="152.80" y1="144.50" x2="156.00" y2="144.50" stroke="#3a3aa8" stroke-width="0.8"/>
<line x1="173.42" y1="132.20" x2="173.42" y2="143.60" stroke="#3a3aa8" stroke-width="0.8"/>
<line x1="171.82" y1="132.20" x2="175.02" y2="132.20" stroke="#3a3aa8" stroke-width="0.8"/>
<line x1="171.82" y1="143.60" x2="175.02" y2="143.60" stroke="#3a3aa8" stroke-width="0.8"/>
<line x1="192.44" y1="129.60" x2="192.44" y2="143.60" stroke="#3a3aa8" stroke-width="0.8"/>
<line x1="190.84" y1="129.60" x2="194.04" y2="129.60" stroke="#3a3aa8" stroke-width="0.8"/>
<line x1="190.84" y1="143.60" x2="194.04" y2="143.60" stroke="#3a3aa8" stroke-width="0.8"/>
<line x1="211.46" y1="126.40" x2="211.46" y2="144.50" stroke="#3a3aa8" stroke-width="0.8"/>
<line x1="209.86" y1="126.40" x2="213.06" y2="126.40" stroke="#3a3aa8" stroke-width="0.8"/>
<line x1="209.86" y1="144.50" x2="213.06" y2="144.50" stroke="#3a3aa8" stroke-width="0.8"/>
<line x1="230.48" y1="119.00" x2="230.48" y2="138.20" stroke="#3a3aa8" stroke-width="0.8"/>
<line x1="228.88" y1="119.00" x2="232.08" y2="119.00" stroke="#3a3aa8" stroke-width="0.8"/>
<line x1="228.88" y1="138.20" x2="232.08" y2="138.20" stroke="#3a3aa8" stroke-width="0.8"/>
<circle cx="59.30" cy="169.80" r="1.75" fill="#2a2ad2"/>
<circle cx="78.32" cy="159.70" r="1.75" fill="#2a2ad2"/>
<circle cx="97.34" cy="152.20" r="1.75" fill="#2a2ad2"/>
<circle cx="116.36" cy="151.00" r="1.75" fill="#2a2ad2"/>
<circle cx="135.38" cy="144.20" r="1.75" fill="#2a2ad2"/>
<circle cx="154.40" cy="137.60" r="1.75" fill="#2a2ad2"/>
<circle cx="173.42" cy="137.50" r="1.75" fill="#2a2ad2"/>
<circle cx="192.44" cy="136.60" r="1.75" fill="#2a2ad2"/>
<circle cx="211.46" cy="135.60" r="1.75" fill="#2a2ad2"/>
<circle cx="230.48" cy="128.60" r="1.75" fill="#2a2ad2"/>
<line x1="47.70" y1="244.80" x2="61.40" y2="244.80" stroke="#2a8a2a" stroke-width="0.9"/>
<circle cx="54.10" cy="244.80" r="1.45" fill="#2a8a2a"/>
<text x="69.20" y="244.80" font-size="7" text-anchor="start" fill="#222" font-weight="normal" dominant-baseline="central">Chlorophyll</text>
<line x1="113.20" y1="244.80" x2="127.20" y2="244.80" stroke="#f07828" stroke-width="0.9"/>
<circle cx="120.00" cy="244.80" r="1.45" fill="#f07828"/>
<text x="135.60" y="244.80" font-size="7" text-anchor="start" fill="#222" font-weight="normal" dominant-baseline="central">Carotenoid</text>
<line x1="182.20" y1="244.80" x2="195.60" y2="244.80" stroke="#7a2aa8" stroke-width="0.9"/>
<circle cx="188.50" cy="244.80" r="1.45" fill="#7a2aa8"/>
<text x="203.80" y="244.80" font-size="7" text-anchor="start" fill="#222" font-weight="normal" dominant-baseline="central">Anthocyanin</text>
<line x1="46.80" y1="252.50" x2="46.80" y2="383.50" stroke="#5a5a5a" stroke-width="1.1"/>
<line x1="46.30" y1="383.00" x2="243.60" y2="383.00" stroke="#5a5a5a" stroke-width="1.1"/>
<line x1="243.10" y1="252.50" x2="243.10" y2="383.50" stroke="#5a5a5a" stroke-width="1.1"/>
<line x1="46.30" y1="252.50" x2="243.60" y2="252.50" stroke="#5a5a5a" stroke-width="1.1"/>
<line x1="59.30" y1="383.00" x2="59.30" y2="385.20" stroke="#5a5a5a" stroke-width="0.9"/>
<line x1="78.32" y1="383.00" x2="78.32" y2="385.20" stroke="#5a5a5a" stroke-width="0.9"/>
<line x1="97.34" y1="383.00" x2="97.34" y2="385.20" stroke="#5a5a5a" stroke-width="0.9"/>
<line x1="116.36" y1="383.00" x2="116.36" y2="385.20" stroke="#5a5a5a" stroke-width="0.9"/>
<line x1="135.38" y1="383.00" x2="135.38" y2="385.20" stroke="#5a5a5a" stroke-width="0.9"/>
<line x1="154.40" y1="383.00" x2="154.40" y2="385.20" stroke="#5a5a5a" stroke-width="0.9"/>
<line x1="173.42" y1="383.00" x2="173.42" y2="385.20" stroke="#5a5a5a" stroke-width="0.9"/>
<line x1="192.44" y1="383.00" x2="192.44" y2="385.20" stroke="#5a5a5a" stroke-width="0.9"/>
<line x1="211.46" y1="383.00" x2="211.46" y2="385.20" stroke="#5a5a5a" stroke-width="0.9"/>
<line x1="230.48" y1="383.00" x2="230.48" y2="385.20" stroke="#5a5a5a" stroke-width="0.9"/>
<line x1="44.60" y1="252.50" x2="46.80" y2="252.50" stroke="#5a5a5a" stroke-width="0.9"/>
<text x="43.60" y="252.50" font-size="8.3" text-anchor="end" fill="#333" font-weight="normal" dominant-baseline="central">150</text>
<line x1="44.60" y1="296.00" x2="46.80" y2="296.00" stroke="#5a5a5a" stroke-width="0.9"/>
<text x="43.60" y="296.00" font-size="8.3" text-anchor="end" fill="#333" font-weight="normal" dominant-baseline="central">100</text>
<line x1="44.60" y1="339.50" x2="46.80" y2="339.50" stroke="#5a5a5a" stroke-width="0.9"/>
<text x="43.60" y="339.50" font-size="8.3" text-anchor="end" fill="#333" font-weight="normal" dominant-baseline="central">50</text>
<line x1="44.60" y1="383.00" x2="46.80" y2="383.00" stroke="#5a5a5a" stroke-width="0.9"/>
<text x="43.60" y="383.00" font-size="8.3" text-anchor="end" fill="#333" font-weight="normal" dominant-baseline="central">0</text>
<line x1="243.10" y1="252.50" x2="245.30" y2="252.50" stroke="#5a5a5a" stroke-width="0.9"/>
<text x="247.80" y="252.50" font-size="8.3" text-anchor="start" fill="#333" font-weight="normal" dominant-baseline="central">5</text>
<line x1="243.10" y1="278.60" x2="245.30" y2="278.60" stroke="#5a5a5a" stroke-width="0.9"/>
<text x="247.80" y="278.60" font-size="8.3" text-anchor="start" fill="#333" font-weight="normal" dominant-baseline="central">4</text>
<line x1="243.10" y1="304.70" x2="245.30" y2="304.70" stroke="#5a5a5a" stroke-width="0.9"/>
<text x="247.80" y="304.70" font-size="8.3" text-anchor="start" fill="#333" font-weight="normal" dominant-baseline="central">3</text>
<line x1="243.10" y1="330.80" x2="245.30" y2="330.80" stroke="#5a5a5a" stroke-width="0.9"/>
<text x="247.80" y="330.80" font-size="8.3" text-anchor="start" fill="#333" font-weight="normal" dominant-baseline="central">2</text>
<line x1="243.10" y1="356.90" x2="245.30" y2="356.90" stroke="#5a5a5a" stroke-width="0.9"/>
<text x="247.80" y="356.90" font-size="8.3" text-anchor="start" fill="#333" font-weight="normal" dominant-baseline="central">1</text>
<line x1="243.10" y1="383.00" x2="245.30" y2="383.00" stroke="#5a5a5a" stroke-width="0.9"/>
<text x="247.80" y="383.00" font-size="8.3" text-anchor="start" fill="#333" font-weight="normal" dominant-baseline="central">0</text>
<text x="59.30" y="391.30" font-size="8.4" text-anchor="middle" fill="#333" font-weight="normal" dominant-baseline="central">10</text>
<text x="78.32" y="391.30" font-size="8.4" text-anchor="middle" fill="#333" font-weight="normal" dominant-baseline="central">20</text>
<text x="97.34" y="391.30" font-size="8.4" text-anchor="middle" fill="#333" font-weight="normal" dominant-baseline="central">25</text>
<text x="116.36" y="391.30" font-size="8.4" text-anchor="middle" fill="#333" font-weight="normal" dominant-baseline="central">30</text>
<text x="135.38" y="391.30" font-size="8.4" text-anchor="middle" fill="#333" font-weight="normal" dominant-baseline="central">40</text>
<text x="154.40" y="391.30" font-size="8.4" text-anchor="middle" fill="#333" font-weight="normal" dominant-baseline="central">50</text>
<text x="173.42" y="391.30" font-size="8.4" text-anchor="middle" fill="#333" font-weight="normal" dominant-baseline="central">60</text>
<text x="192.44" y="391.30" font-size="8.4" text-anchor="middle" fill="#333" font-weight="normal" dominant-baseline="central">65</text>
<text x="211.46" y="391.30" font-size="8.4" text-anchor="middle" fill="#333" font-weight="normal" dominant-baseline="central">70</text>
<text x="230.48" y="391.30" font-size="8.4" text-anchor="middle" fill="#333" font-weight="normal" dominant-baseline="central">90</text>
<text x="145.25" y="404.60" font-size="8.5" text-anchor="middle" fill="#222" font-weight="normal" dominant-baseline="central">Percentage of fruit reaching final size (%)</text>
<text x="11.20" y="319.30" font-size="8.2" text-anchor="middle" fill="#222" font-weight="normal" dominant-baseline="central" transform="rotate(-90 11.2 319.3)">Chlorophyll and carotenoid</text>
<text x="22.1" y="317.9" font-size="8.25" text-anchor="middle" fill="#222" dominant-baseline="central" transform="rotate(-90 22.1 317.9)">content ( μg·g<tspan font-size="5.4" dy="-3.1">-1</tspan><tspan dy="3.1">)</tspan></text>
<text x="264.6" y="317.9" font-size="8.5" text-anchor="middle" fill="#222" dominant-baseline="central" transform="rotate(-90 264.6 317.9)">Anthocyanin content (mg ·g<tspan font-size="5.5" dy="-3.2">-1</tspan><tspan dy="3.2">)</tspan></text>
<polyline points="59.30,365.60 78.32,374.60 97.34,375.40 116.36,376.60 135.38,374.90 154.40,370.00 173.42,363.70 192.44,363.20 211.46,362.10 230.48,360.50" fill="none" stroke="#f09050" stroke-width="0.8" stroke-linejoin="round"/>
<rect x="57.86" y="364.16" width="2.88" height="2.88" fill="#f07828"/>
<rect x="76.88" y="373.16" width="2.88" height="2.88" fill="#f07828"/>
<rect x="95.90" y="373.96" width="2.88" height="2.88" fill="#f07828"/>
<rect x="114.92" y="375.16" width="2.88" height="2.88" fill="#f07828"/>
<rect x="133.94" y="373.46" width="2.88" height="2.88" fill="#f07828"/>
<rect x="152.96" y="368.56" width="2.88" height="2.88" fill="#f07828"/>
<rect x="171.98" y="362.26" width="2.88" height="2.88" fill="#f07828"/>
<rect x="191.00" y="361.76" width="2.88" height="2.88" fill="#f07828"/>
<rect x="210.02" y="360.66" width="2.88" height="2.88" fill="#f07828"/>
<rect x="229.04" y="359.06" width="2.88" height="2.88" fill="#f07828"/>
<polyline points="59.30,272.10 78.32,340.90 97.34,346.80 116.36,356.90 135.38,363.10 154.40,363.30 173.42,360.60 192.44,358.60 211.46,354.20 230.48,337.70" fill="none" stroke="#3a8a3a" stroke-width="0.8" stroke-linejoin="round"/>
<line x1="59.30" y1="266.50" x2="59.30" y2="277.20" stroke="#2a7a2a" stroke-width="0.8"/>
<line x1="57.70" y1="266.50" x2="60.90" y2="266.50" stroke="#2a7a2a" stroke-width="0.8"/>
<line x1="57.70" y1="277.20" x2="60.90" y2="277.20" stroke="#2a7a2a" stroke-width="0.8"/>
<line x1="135.38" y1="361.60" x2="135.38" y2="364.60" stroke="#2a7a2a" stroke-width="0.8"/>
<line x1="133.78" y1="361.60" x2="136.98" y2="361.60" stroke="#2a7a2a" stroke-width="0.8"/>
<line x1="133.78" y1="364.60" x2="136.98" y2="364.60" stroke="#2a7a2a" stroke-width="0.8"/>
<line x1="211.46" y1="352.00" x2="211.46" y2="356.50" stroke="#2a7a2a" stroke-width="0.8"/>
<line x1="209.86" y1="352.00" x2="213.06" y2="352.00" stroke="#2a7a2a" stroke-width="0.8"/>
<line x1="209.86" y1="356.50" x2="213.06" y2="356.50" stroke="#2a7a2a" stroke-width="0.8"/>
<line x1="230.48" y1="335.30" x2="230.48" y2="340.20" stroke="#2a7a2a" stroke-width="0.8"/>
<line x1="228.88" y1="335.30" x2="232.08" y2="335.30" stroke="#2a7a2a" stroke-width="0.8"/>
<line x1="228.88" y1="340.20" x2="232.08" y2="340.20" stroke="#2a7a2a" stroke-width="0.8"/>
<rect x="57.95" y="270.75" width="2.70" height="2.70" fill="#2a8a2a"/>
<rect x="76.97" y="339.55" width="2.70" height="2.70" fill="#2a8a2a"/>
<rect x="95.99" y="345.45" width="2.70" height="2.70" fill="#2a8a2a"/>
<rect x="115.01" y="355.55" width="2.70" height="2.70" fill="#2a8a2a"/>
<rect x="134.03" y="361.75" width="2.70" height="2.70" fill="#2a8a2a"/>
<rect x="153.05" y="361.95" width="2.70" height="2.70" fill="#2a8a2a"/>
<rect x="172.07" y="359.25" width="2.70" height="2.70" fill="#2a8a2a"/>
<rect x="191.09" y="357.25" width="2.70" height="2.70" fill="#2a8a2a"/>
<rect x="210.11" y="352.85" width="2.70" height="2.70" fill="#2a8a2a"/>
<rect x="229.13" y="336.35" width="2.70" height="2.70" fill="#2a8a2a"/>
<polyline points="59.30,382.70 78.32,382.70 97.34,382.20 116.36,380.60 135.38,374.60 154.40,364.20 173.42,346.40 192.44,338.30 211.46,321.20 230.48,272.60" fill="none" stroke="#9040b8" stroke-width="0.8" stroke-linejoin="round"/>
<line x1="192.44" y1="333.60" x2="192.44" y2="342.70" stroke="#7a3aa0" stroke-width="0.8"/>
<line x1="190.84" y1="333.60" x2="194.04" y2="333.60" stroke="#7a3aa0" stroke-width="0.8"/>
<line x1="190.84" y1="342.70" x2="194.04" y2="342.70" stroke="#7a3aa0" stroke-width="0.8"/>
<line x1="211.46" y1="317.60" x2="211.46" y2="324.60" stroke="#7a3aa0" stroke-width="0.8"/>
<line x1="209.86" y1="317.60" x2="213.06" y2="317.60" stroke="#7a3aa0" stroke-width="0.8"/>
<line x1="209.86" y1="324.60" x2="213.06" y2="324.60" stroke="#7a3aa0" stroke-width="0.8"/>
<line x1="230.48" y1="264.40" x2="230.48" y2="280.50" stroke="#7a3aa0" stroke-width="0.8"/>
<line x1="228.88" y1="264.40" x2="232.08" y2="264.40" stroke="#7a3aa0" stroke-width="0.8"/>
<line x1="228.88" y1="280.50" x2="232.08" y2="280.50" stroke="#7a3aa0" stroke-width="0.8"/>
<circle cx="59.30" cy="382.70" r="1.45" fill="#7a2aa8"/>
<circle cx="78.32" cy="382.70" r="1.45" fill="#7a2aa8"/>
<circle cx="97.34" cy="382.20" r="1.45" fill="#7a2aa8"/>
<circle cx="116.36" cy="380.60" r="1.45" fill="#7a2aa8"/>
<circle cx="135.38" cy="374.60" r="1.45" fill="#7a2aa8"/>
<circle cx="154.40" cy="364.20" r="1.45" fill="#7a2aa8"/>
<circle cx="173.42" cy="346.40" r="1.45" fill="#7a2aa8"/>
<circle cx="192.44" cy="338.30" r="1.45" fill="#7a2aa8"/>
<circle cx="211.46" cy="321.20" r="1.45" fill="#7a2aa8"/>
<circle cx="230.48" cy="272.60" r="1.45" fill="#7a2aa8"/>
<line x1="336.70" y1="110.50" x2="349.80" y2="110.50" stroke="#2a2ad2" stroke-width="0.9"/>
<circle cx="343.30" cy="110.50" r="1.45" fill="#2a2ad2"/>
<text x="357.10" y="110.50" font-size="6.6" text-anchor="start" fill="#222" font-weight="normal" dominant-baseline="central">Length</text>
<line x1="400.50" y1="110.50" x2="412.80" y2="110.50" stroke="#e42626" stroke-width="0.9"/>
<circle cx="406.60" cy="110.50" r="1.45" fill="#e42626"/>
<text x="419.70" y="110.50" font-size="6.6" text-anchor="start" fill="#222" font-weight="normal" dominant-baseline="central">Diameter</text>
<line x1="466.00" y1="110.50" x2="478.20" y2="110.50" stroke="#3cb83c" stroke-width="0.9"/>
<circle cx="472.00" cy="110.50" r="1.45" fill="#3cb83c"/>
<text x="485.80" y="110.50" font-size="6.6" text-anchor="start" fill="#222" font-weight="normal" dominant-baseline="central">Weight</text>
<line x1="329.20" y1="117.00" x2="329.20" y2="239.70" stroke="#5a5a5a" stroke-width="1.1"/>
<line x1="328.70" y1="239.20" x2="514.80" y2="239.20" stroke="#5a5a5a" stroke-width="1.1"/>
<line x1="514.30" y1="117.00" x2="514.30" y2="239.70" stroke="#5a5a5a" stroke-width="1.1"/>
<line x1="328.70" y1="117.00" x2="514.80" y2="117.00" stroke="#5a5a5a" stroke-width="1.1"/>
<line x1="344.10" y1="239.20" x2="344.10" y2="241.40" stroke="#5a5a5a" stroke-width="0.9"/>
<line x1="366.17" y1="239.20" x2="366.17" y2="241.40" stroke="#5a5a5a" stroke-width="0.9"/>
<line x1="388.24" y1="239.20" x2="388.24" y2="241.40" stroke="#5a5a5a" stroke-width="0.9"/>
<line x1="410.31" y1="239.20" x2="410.31" y2="241.40" stroke="#5a5a5a" stroke-width="0.9"/>
<line x1="432.38" y1="239.20" x2="432.38" y2="241.40" stroke="#5a5a5a" stroke-width="0.9"/>
<line x1="454.45" y1="239.20" x2="454.45" y2="241.40" stroke="#5a5a5a" stroke-width="0.9"/>
<line x1="476.52" y1="239.20" x2="476.52" y2="241.40" stroke="#5a5a5a" stroke-width="0.9"/>
<line x1="498.59" y1="239.20" x2="498.59" y2="241.40" stroke="#5a5a5a" stroke-width="0.9"/>
<line x1="327.00" y1="117.00" x2="329.20" y2="117.00" stroke="#5a5a5a" stroke-width="0.9"/>
<text x="326.30" y="117.00" font-size="7.8" text-anchor="end" fill="#333" font-weight="normal" dominant-baseline="central">180</text>
<line x1="327.00" y1="157.70" x2="329.20" y2="157.70" stroke="#5a5a5a" stroke-width="0.9"/>
<text x="326.30" y="157.70" font-size="7.8" text-anchor="end" fill="#333" font-weight="normal" dominant-baseline="central">120</text>
<line x1="327.00" y1="198.50" x2="329.20" y2="198.50" stroke="#5a5a5a" stroke-width="0.9"/>
<text x="326.30" y="198.50" font-size="7.8" text-anchor="end" fill="#333" font-weight="normal" dominant-baseline="central">60</text>
<line x1="327.00" y1="239.20" x2="329.20" y2="239.20" stroke="#5a5a5a" stroke-width="0.9"/>
<text x="326.30" y="239.20" font-size="7.8" text-anchor="end" fill="#333" font-weight="normal" dominant-baseline="central">0</text>
<line x1="514.30" y1="117.00" x2="516.50" y2="117.00" stroke="#5a5a5a" stroke-width="0.9"/>
<text x="517.80" y="117.00" font-size="8.4" text-anchor="start" fill="#333" font-weight="normal" dominant-baseline="central">9</text>
<line x1="514.30" y1="157.70" x2="516.50" y2="157.70" stroke="#5a5a5a" stroke-width="0.9"/>
<text x="517.80" y="157.70" font-size="8.4" text-anchor="start" fill="#333" font-weight="normal" dominant-baseline="central">6</text>
<line x1="514.30" y1="198.50" x2="516.50" y2="198.50" stroke="#5a5a5a" stroke-width="0.9"/>
<text x="517.80" y="198.50" font-size="8.4" text-anchor="start" fill="#333" font-weight="normal" dominant-baseline="central">3</text>
<line x1="514.30" y1="239.20" x2="516.50" y2="239.20" stroke="#5a5a5a" stroke-width="0.9"/>
<text x="517.80" y="239.20" font-size="8.4" text-anchor="start" fill="#333" font-weight="normal" dominant-baseline="central">0</text>
<text x="308.50" y="178.60" font-size="8.0" text-anchor="middle" fill="#222" font-weight="normal" dominant-baseline="central" transform="rotate(-90 308.5 178.6)">Fruit length and diameter (mm)</text>
<text x="533.60" y="178.40" font-size="8.2" text-anchor="middle" fill="#222" font-weight="normal" dominant-baseline="central" transform="rotate(-90 533.6 178.4)">Fruit weight (g)</text>
<g filter="url(#blur04)">
<defs><radialGradient id="xse0"><stop offset="0" stop-color="#a8b050"/><stop offset="0.45" stop-color="#90a040"/><stop offset="0.85" stop-color="#7a9038"/><stop offset="1" stop-color="#3a5020"/></radialGradient></defs>
<path d="M346.76,159.55 L345.57,160.15 L345.19,161.43 L343.93,161.02 L342.75,161.66 L342.15,160.47 L340.87,160.09 L341.28,158.83 L340.64,157.65 L341.83,157.05 L342.21,155.77 L343.47,156.18 L344.65,155.54 L345.25,156.73 L346.53,157.11 L346.12,158.37Z" fill="url(#xse0)" stroke="#3a5020" stroke-width="0.5" stroke-linejoin="round"/>
<line x1="344.04" y1="158.78" x2="345.61" y2="159.64" stroke="#a8b050" stroke-width="0.5" opacity="0.6"/>
<line x1="343.86" y1="158.95" x2="344.63" y2="160.57" stroke="#a8b050" stroke-width="0.5" opacity="0.6"/>
<line x1="343.63" y1="158.98" x2="343.30" y2="160.74" stroke="#a8b050" stroke-width="0.5" opacity="0.6"/>
<line x1="343.42" y1="158.86" x2="342.12" y2="160.09" stroke="#a8b050" stroke-width="0.5" opacity="0.6"/>
<line x1="343.32" y1="158.65" x2="341.54" y2="158.88" stroke="#a8b050" stroke-width="0.5" opacity="0.6"/>
<line x1="343.36" y1="158.42" x2="341.79" y2="157.56" stroke="#a8b050" stroke-width="0.5" opacity="0.6"/>
<line x1="343.54" y1="158.25" x2="342.77" y2="156.63" stroke="#a8b050" stroke-width="0.5" opacity="0.6"/>
<line x1="343.77" y1="158.22" x2="344.10" y2="156.46" stroke="#a8b050" stroke-width="0.5" opacity="0.6"/>
<line x1="343.98" y1="158.34" x2="345.28" y2="157.11" stroke="#a8b050" stroke-width="0.5" opacity="0.6"/>
<line x1="344.08" y1="158.55" x2="345.86" y2="158.32" stroke="#a8b050" stroke-width="0.5" opacity="0.6"/>
<defs><radialGradient id="xse1"><stop offset="0" stop-color="#c0c068"/><stop offset="0.45" stop-color="#a8b048"/><stop offset="0.85" stop-color="#90a040"/><stop offset="1" stop-color="#485818"/></radialGradient></defs>
<path d="M369.13,148.42 L367.72,149.14 L367.27,150.66 L365.77,150.18 L364.38,150.93 L363.66,149.52 L362.14,149.07 L362.62,147.57 L361.87,146.18 L363.28,145.46 L363.73,143.94 L365.23,144.42 L366.62,143.67 L367.34,145.08 L368.86,145.53 L368.38,147.03Z" fill="url(#xse1)" stroke="#485818" stroke-width="0.5" stroke-linejoin="round"/>
<line x1="365.90" y1="147.52" x2="367.77" y2="148.54" stroke="#c0c068" stroke-width="0.5" opacity="0.6"/>
<line x1="365.70" y1="147.71" x2="366.61" y2="149.64" stroke="#c0c068" stroke-width="0.5" opacity="0.6"/>
<line x1="365.42" y1="147.75" x2="365.02" y2="149.84" stroke="#c0c068" stroke-width="0.5" opacity="0.6"/>
<line x1="365.17" y1="147.61" x2="363.62" y2="149.07" stroke="#c0c068" stroke-width="0.5" opacity="0.6"/>
<line x1="365.05" y1="147.36" x2="362.94" y2="147.63" stroke="#c0c068" stroke-width="0.5" opacity="0.6"/>
<line x1="365.10" y1="147.08" x2="363.23" y2="146.06" stroke="#c0c068" stroke-width="0.5" opacity="0.6"/>
<line x1="365.30" y1="146.89" x2="364.39" y2="144.96" stroke="#c0c068" stroke-width="0.5" opacity="0.6"/>
<line x1="365.58" y1="146.85" x2="365.98" y2="144.76" stroke="#c0c068" stroke-width="0.5" opacity="0.6"/>
<line x1="365.83" y1="146.99" x2="367.38" y2="145.53" stroke="#c0c068" stroke-width="0.5" opacity="0.6"/>
<line x1="365.95" y1="147.24" x2="368.06" y2="146.97" stroke="#c0c068" stroke-width="0.5" opacity="0.6"/>
<defs><radialGradient id="xse2"><stop offset="0" stop-color="#c8c070"/><stop offset="0.45" stop-color="#b0b050"/><stop offset="0.85" stop-color="#98983c"/><stop offset="1" stop-color="#484818"/></radialGradient></defs>
<path d="M392.31,145.67 L390.71,146.49 L390.21,148.20 L388.50,147.65 L386.93,148.51 L386.11,146.91 L384.40,146.41 L384.95,144.70 L384.09,143.13 L385.69,142.31 L386.19,140.60 L387.90,141.15 L389.47,140.29 L390.29,141.89 L392.00,142.39 L391.45,144.10Z" fill="url(#xse2)" stroke="#484818" stroke-width="0.5" stroke-linejoin="round"/>
<line x1="388.65" y1="144.65" x2="390.77" y2="145.80" stroke="#c8c070" stroke-width="0.5" opacity="0.6"/>
<line x1="388.42" y1="144.87" x2="389.45" y2="147.04" stroke="#c8c070" stroke-width="0.5" opacity="0.6"/>
<line x1="388.10" y1="144.91" x2="387.66" y2="147.27" stroke="#c8c070" stroke-width="0.5" opacity="0.6"/>
<line x1="387.82" y1="144.75" x2="386.07" y2="146.41" stroke="#c8c070" stroke-width="0.5" opacity="0.6"/>
<line x1="387.69" y1="144.47" x2="385.30" y2="144.77" stroke="#c8c070" stroke-width="0.5" opacity="0.6"/>
<line x1="387.75" y1="144.15" x2="385.63" y2="143.00" stroke="#c8c070" stroke-width="0.5" opacity="0.6"/>
<line x1="387.98" y1="143.93" x2="386.95" y2="141.76" stroke="#c8c070" stroke-width="0.5" opacity="0.6"/>
<line x1="388.30" y1="143.89" x2="388.74" y2="141.53" stroke="#c8c070" stroke-width="0.5" opacity="0.6"/>
<line x1="388.58" y1="144.05" x2="390.33" y2="142.39" stroke="#c8c070" stroke-width="0.5" opacity="0.6"/>
<line x1="388.71" y1="144.33" x2="391.10" y2="144.03" stroke="#c8c070" stroke-width="0.5" opacity="0.6"/>
<defs><radialGradient id="xse3"><stop offset="0" stop-color="#d8d080"/><stop offset="0.45" stop-color="#c8c058"/><stop offset="0.85" stop-color="#b0a848"/><stop offset="1" stop-color="#585020"/></radialGradient></defs>
<path d="M414.68,140.75 L412.87,141.68 L412.29,143.63 L410.34,143.01 L408.55,143.98 L407.62,142.17 L405.67,141.59 L406.29,139.64 L405.32,137.85 L407.13,136.92 L407.71,134.97 L409.66,135.59 L411.45,134.62 L412.38,136.43 L414.33,137.01 L413.71,138.96Z" fill="url(#xse3)" stroke="#585020" stroke-width="0.5" stroke-linejoin="round"/>
<line x1="410.52" y1="139.58" x2="412.92" y2="140.90" stroke="#d8d080" stroke-width="0.5" opacity="0.6"/>
<line x1="410.25" y1="139.83" x2="411.43" y2="142.31" stroke="#d8d080" stroke-width="0.5" opacity="0.6"/>
<line x1="409.89" y1="139.88" x2="409.38" y2="142.57" stroke="#d8d080" stroke-width="0.5" opacity="0.6"/>
<line x1="409.57" y1="139.70" x2="407.58" y2="141.59" stroke="#d8d080" stroke-width="0.5" opacity="0.6"/>
<line x1="409.42" y1="139.38" x2="406.70" y2="139.73" stroke="#d8d080" stroke-width="0.5" opacity="0.6"/>
<line x1="409.48" y1="139.02" x2="407.08" y2="137.70" stroke="#d8d080" stroke-width="0.5" opacity="0.6"/>
<line x1="409.75" y1="138.77" x2="408.57" y2="136.29" stroke="#d8d080" stroke-width="0.5" opacity="0.6"/>
<line x1="410.11" y1="138.72" x2="410.62" y2="136.03" stroke="#d8d080" stroke-width="0.5" opacity="0.6"/>
<line x1="410.43" y1="138.90" x2="412.42" y2="137.01" stroke="#d8d080" stroke-width="0.5" opacity="0.6"/>
<line x1="410.58" y1="139.22" x2="413.30" y2="138.87" stroke="#d8d080" stroke-width="0.5" opacity="0.6"/>
<defs><radialGradient id="xse4"><stop offset="0" stop-color="#e8e090"/><stop offset="0.45" stop-color="#d4c868"/><stop offset="0.85" stop-color="#c0b050"/><stop offset="1" stop-color="#605828"/></radialGradient></defs>
<path d="M438.06,139.20 L436.06,140.22 L435.42,142.38 L433.28,141.69 L431.30,142.76 L430.28,140.76 L428.12,140.12 L428.81,137.98 L427.74,136.00 L429.74,134.98 L430.38,132.82 L432.52,133.51 L434.50,132.44 L435.52,134.44 L437.68,135.08 L436.99,137.22Z" fill="url(#xse4)" stroke="#605828" stroke-width="0.5" stroke-linejoin="round"/>
<line x1="433.47" y1="137.91" x2="436.12" y2="139.36" stroke="#e8e090" stroke-width="0.5" opacity="0.6"/>
<line x1="433.18" y1="138.19" x2="434.47" y2="140.92" stroke="#e8e090" stroke-width="0.5" opacity="0.6"/>
<line x1="432.78" y1="138.24" x2="432.22" y2="141.21" stroke="#e8e090" stroke-width="0.5" opacity="0.6"/>
<line x1="432.43" y1="138.04" x2="430.23" y2="140.12" stroke="#e8e090" stroke-width="0.5" opacity="0.6"/>
<line x1="432.26" y1="137.68" x2="429.26" y2="138.07" stroke="#e8e090" stroke-width="0.5" opacity="0.6"/>
<line x1="432.33" y1="137.29" x2="429.68" y2="135.84" stroke="#e8e090" stroke-width="0.5" opacity="0.6"/>
<line x1="432.62" y1="137.01" x2="431.33" y2="134.28" stroke="#e8e090" stroke-width="0.5" opacity="0.6"/>
<line x1="433.02" y1="136.96" x2="433.58" y2="133.99" stroke="#e8e090" stroke-width="0.5" opacity="0.6"/>
<line x1="433.37" y1="137.16" x2="435.57" y2="135.08" stroke="#e8e090" stroke-width="0.5" opacity="0.6"/>
<line x1="433.54" y1="137.52" x2="436.54" y2="137.13" stroke="#e8e090" stroke-width="0.5" opacity="0.6"/>
<defs><radialGradient id="xse5"><stop offset="0" stop-color="#e0c880"/><stop offset="0.45" stop-color="#d8a860"/><stop offset="0.85" stop-color="#c08848"/><stop offset="1" stop-color="#604020"/></radialGradient></defs>
<path d="M461.22,141.33 L458.93,142.51 L458.19,144.98 L455.74,144.19 L453.47,145.42 L452.29,143.13 L449.82,142.39 L450.61,139.94 L449.38,137.67 L451.67,136.49 L452.41,134.02 L454.86,134.81 L457.13,133.58 L458.31,135.87 L460.78,136.61 L459.99,139.06Z" fill="url(#xse5)" stroke="#604020" stroke-width="0.5" stroke-linejoin="round"/>
<line x1="455.95" y1="139.86" x2="459.00" y2="141.52" stroke="#e0c880" stroke-width="0.5" opacity="0.6"/>
<line x1="455.62" y1="140.17" x2="457.11" y2="143.31" stroke="#e0c880" stroke-width="0.5" opacity="0.6"/>
<line x1="455.16" y1="140.23" x2="454.52" y2="143.64" stroke="#e0c880" stroke-width="0.5" opacity="0.6"/>
<line x1="454.76" y1="140.01" x2="452.23" y2="142.39" stroke="#e0c880" stroke-width="0.5" opacity="0.6"/>
<line x1="454.56" y1="139.60" x2="451.12" y2="140.04" stroke="#e0c880" stroke-width="0.5" opacity="0.6"/>
<line x1="454.65" y1="139.14" x2="451.60" y2="137.48" stroke="#e0c880" stroke-width="0.5" opacity="0.6"/>
<line x1="454.98" y1="138.83" x2="453.49" y2="135.69" stroke="#e0c880" stroke-width="0.5" opacity="0.6"/>
<line x1="455.44" y1="138.77" x2="456.08" y2="135.36" stroke="#e0c880" stroke-width="0.5" opacity="0.6"/>
<line x1="455.84" y1="138.99" x2="458.37" y2="136.61" stroke="#e0c880" stroke-width="0.5" opacity="0.6"/>
<line x1="456.04" y1="139.40" x2="459.48" y2="138.96" stroke="#e0c880" stroke-width="0.5" opacity="0.6"/>
<defs><radialGradient id="xse6"><stop offset="0" stop-color="#e0b070"/><stop offset="0.45" stop-color="#d88050"/><stop offset="0.85" stop-color="#c05838"/><stop offset="1" stop-color="#602818"/></radialGradient></defs>
<path d="M483.20,138.31 L480.68,139.60 L479.87,142.31 L477.18,141.45 L474.69,142.80 L473.40,140.28 L470.69,139.47 L471.55,136.78 L470.20,134.29 L472.72,133.00 L473.53,130.29 L476.22,131.15 L478.71,129.80 L480.00,132.32 L482.71,133.13 L481.85,135.82Z" fill="url(#xse6)" stroke="#602818" stroke-width="0.5" stroke-linejoin="round"/>
<line x1="477.42" y1="136.69" x2="480.76" y2="138.52" stroke="#e0b070" stroke-width="0.5" opacity="0.6"/>
<line x1="477.05" y1="137.04" x2="478.68" y2="140.48" stroke="#e0b070" stroke-width="0.5" opacity="0.6"/>
<line x1="476.55" y1="137.10" x2="475.85" y2="140.84" stroke="#e0b070" stroke-width="0.5" opacity="0.6"/>
<line x1="476.11" y1="136.86" x2="473.34" y2="139.47" stroke="#e0b070" stroke-width="0.5" opacity="0.6"/>
<line x1="475.89" y1="136.40" x2="472.11" y2="136.89" stroke="#e0b070" stroke-width="0.5" opacity="0.6"/>
<line x1="475.98" y1="135.91" x2="472.64" y2="134.08" stroke="#e0b070" stroke-width="0.5" opacity="0.6"/>
<line x1="476.35" y1="135.56" x2="474.72" y2="132.12" stroke="#e0b070" stroke-width="0.5" opacity="0.6"/>
<line x1="476.85" y1="135.50" x2="477.55" y2="131.76" stroke="#e0b070" stroke-width="0.5" opacity="0.6"/>
<line x1="477.29" y1="135.74" x2="480.06" y2="133.13" stroke="#e0b070" stroke-width="0.5" opacity="0.6"/>
<line x1="477.51" y1="136.20" x2="481.29" y2="135.71" stroke="#e0b070" stroke-width="0.5" opacity="0.6"/>
<defs><radialGradient id="xse7"><stop offset="0" stop-color="#d08858"/><stop offset="0.45" stop-color="#c04838"/><stop offset="0.85" stop-color="#a03028"/><stop offset="1" stop-color="#501810"/></radialGradient></defs>
<path d="M505.00,139.01 L502.48,140.30 L501.67,143.01 L498.98,142.15 L496.49,143.50 L495.20,140.98 L492.49,140.17 L493.35,137.48 L492.00,134.99 L494.52,133.70 L495.33,130.99 L498.02,131.85 L500.51,130.50 L501.80,133.02 L504.51,133.83 L503.65,136.52Z" fill="url(#xse7)" stroke="#501810" stroke-width="0.5" stroke-linejoin="round"/>
<line x1="499.22" y1="137.39" x2="502.56" y2="139.22" stroke="#d08858" stroke-width="0.5" opacity="0.6"/>
<line x1="498.85" y1="137.74" x2="500.48" y2="141.18" stroke="#d08858" stroke-width="0.5" opacity="0.6"/>
<line x1="498.35" y1="137.80" x2="497.65" y2="141.54" stroke="#d08858" stroke-width="0.5" opacity="0.6"/>
<line x1="497.91" y1="137.56" x2="495.14" y2="140.17" stroke="#d08858" stroke-width="0.5" opacity="0.6"/>
<line x1="497.69" y1="137.10" x2="493.91" y2="137.59" stroke="#d08858" stroke-width="0.5" opacity="0.6"/>
<line x1="497.78" y1="136.61" x2="494.44" y2="134.78" stroke="#d08858" stroke-width="0.5" opacity="0.6"/>
<line x1="498.15" y1="136.26" x2="496.52" y2="132.82" stroke="#d08858" stroke-width="0.5" opacity="0.6"/>
<line x1="498.65" y1="136.20" x2="499.35" y2="132.46" stroke="#d08858" stroke-width="0.5" opacity="0.6"/>
<line x1="499.09" y1="136.44" x2="501.86" y2="133.83" stroke="#d08858" stroke-width="0.5" opacity="0.6"/>
<line x1="499.31" y1="136.90" x2="503.09" y2="136.41" stroke="#d08858" stroke-width="0.5" opacity="0.6"/>
</g>
<polyline points="344.10,231.00 366.17,222.90 388.24,214.50 410.31,199.30 432.38,184.00 454.45,184.80 476.52,178.90 498.59,178.40" fill="none" stroke="#50c050" stroke-width="0.8" stroke-linejoin="round"/>
<line x1="344.10" y1="229.60" x2="344.10" y2="232.60" stroke="#40a040" stroke-width="0.8"/>
<line x1="342.50" y1="229.60" x2="345.70" y2="229.60" stroke="#40a040" stroke-width="0.8"/>
<line x1="342.50" y1="232.60" x2="345.70" y2="232.60" stroke="#40a040" stroke-width="0.8"/>
<line x1="366.17" y1="219.00" x2="366.17" y2="226.50" stroke="#40a040" stroke-width="0.8"/>
<line x1="364.57" y1="219.00" x2="367.77" y2="219.00" stroke="#40a040" stroke-width="0.8"/>
<line x1="364.57" y1="226.50" x2="367.77" y2="226.50" stroke="#40a040" stroke-width="0.8"/>
<line x1="388.24" y1="208.70" x2="388.24" y2="219.60" stroke="#40a040" stroke-width="0.8"/>
<line x1="386.64" y1="208.70" x2="389.84" y2="208.70" stroke="#40a040" stroke-width="0.8"/>
<line x1="386.64" y1="219.60" x2="389.84" y2="219.60" stroke="#40a040" stroke-width="0.8"/>
<line x1="410.31" y1="192.40" x2="410.31" y2="205.60" stroke="#40a040" stroke-width="0.8"/>
<line x1="408.71" y1="192.40" x2="411.91" y2="192.40" stroke="#40a040" stroke-width="0.8"/>
<line x1="408.71" y1="205.60" x2="411.91" y2="205.60" stroke="#40a040" stroke-width="0.8"/>
<line x1="432.38" y1="176.40" x2="432.38" y2="191.60" stroke="#40a040" stroke-width="0.8"/>
<line x1="430.78" y1="176.40" x2="433.98" y2="176.40" stroke="#40a040" stroke-width="0.8"/>
<line x1="430.78" y1="191.60" x2="433.98" y2="191.60" stroke="#40a040" stroke-width="0.8"/>
<line x1="454.45" y1="170.00" x2="454.45" y2="198.50" stroke="#40a040" stroke-width="0.8"/>
<line x1="452.85" y1="170.00" x2="456.05" y2="170.00" stroke="#40a040" stroke-width="0.8"/>
<line x1="452.85" y1="198.50" x2="456.05" y2="198.50" stroke="#40a040" stroke-width="0.8"/>
<line x1="476.52" y1="165.00" x2="476.52" y2="196.70" stroke="#40a040" stroke-width="0.8"/>
<line x1="474.92" y1="165.00" x2="478.12" y2="165.00" stroke="#40a040" stroke-width="0.8"/>
<line x1="474.92" y1="196.70" x2="478.12" y2="196.70" stroke="#40a040" stroke-width="0.8"/>
<line x1="498.59" y1="168.00" x2="498.59" y2="190.90" stroke="#40a040" stroke-width="0.8"/>
<line x1="496.99" y1="168.00" x2="500.19" y2="168.00" stroke="#40a040" stroke-width="0.8"/>
<line x1="496.99" y1="190.90" x2="500.19" y2="190.90" stroke="#40a040" stroke-width="0.8"/>
<circle cx="344.10" cy="231.00" r="1.35" fill="#3cb83c"/>
<circle cx="366.17" cy="222.90" r="1.35" fill="#3cb83c"/>
<circle cx="388.24" cy="214.50" r="1.35" fill="#3cb83c"/>
<circle cx="410.31" cy="199.30" r="1.35" fill="#3cb83c"/>
<circle cx="432.38" cy="184.00" r="1.35" fill="#3cb83c"/>
<circle cx="454.45" cy="184.80" r="1.35" fill="#3cb83c"/>
<circle cx="476.52" cy="178.90" r="1.35" fill="#3cb83c"/>
<circle cx="498.59" cy="178.40" r="1.35" fill="#3cb83c"/>
<polyline points="344.10,236.70 366.17,236.20 388.24,235.40 410.31,234.90 432.38,234.10 454.45,233.60 476.52,233.60 498.59,233.60" fill="none" stroke="#e04a4a" stroke-width="0.8" stroke-linejoin="round"/>
<circle cx="344.10" cy="236.70" r="1.6" fill="#e42626"/>
<circle cx="366.17" cy="236.20" r="1.6" fill="#e42626"/>
<circle cx="388.24" cy="235.40" r="1.6" fill="#e42626"/>
<circle cx="410.31" cy="234.90" r="1.6" fill="#e42626"/>
<circle cx="432.38" cy="234.10" r="1.6" fill="#e42626"/>
<circle cx="454.45" cy="233.60" r="1.6" fill="#e42626"/>
<circle cx="476.52" cy="233.60" r="1.6" fill="#e42626"/>
<circle cx="498.59" cy="233.60" r="1.6" fill="#e42626"/>
<polyline points="344.10,170.90 366.17,163.00 388.24,162.50 410.31,159.20 432.38,158.20 454.45,161.80 476.52,160.50 498.59,161.80" fill="none" stroke="#4a4ad8" stroke-width="0.8" stroke-linejoin="round"/>
<line x1="344.10" y1="165.00" x2="344.10" y2="177.80" stroke="#3a3aa8" stroke-width="0.8"/>
<line x1="342.50" y1="165.00" x2="345.70" y2="165.00" stroke="#3a3aa8" stroke-width="0.8"/>
<line x1="342.50" y1="177.80" x2="345.70" y2="177.80" stroke="#3a3aa8" stroke-width="0.8"/>
<line x1="366.17" y1="154.90" x2="366.17" y2="171.40" stroke="#3a3aa8" stroke-width="0.8"/>
<line x1="364.57" y1="154.90" x2="367.77" y2="154.90" stroke="#3a3aa8" stroke-width="0.8"/>
<line x1="364.57" y1="171.40" x2="367.77" y2="171.40" stroke="#3a3aa8" stroke-width="0.8"/>
<line x1="388.24" y1="153.10" x2="388.24" y2="171.90" stroke="#3a3aa8" stroke-width="0.8"/>
<line x1="386.64" y1="153.10" x2="389.84" y2="153.10" stroke="#3a3aa8" stroke-width="0.8"/>
<line x1="386.64" y1="171.90" x2="389.84" y2="171.90" stroke="#3a3aa8" stroke-width="0.8"/>
<line x1="410.31" y1="149.00" x2="410.31" y2="169.50" stroke="#3a3aa8" stroke-width="0.8"/>
<line x1="408.71" y1="149.00" x2="411.91" y2="149.00" stroke="#3a3aa8" stroke-width="0.8"/>
<line x1="408.71" y1="169.50" x2="411.91" y2="169.50" stroke="#3a3aa8" stroke-width="0.8"/>
<line x1="432.38" y1="148.00" x2="432.38" y2="167.60" stroke="#3a3aa8" stroke-width="0.8"/>
<line x1="430.78" y1="148.00" x2="433.98" y2="148.00" stroke="#3a3aa8" stroke-width="0.8"/>
<line x1="430.78" y1="167.60" x2="433.98" y2="167.60" stroke="#3a3aa8" stroke-width="0.8"/>
<line x1="454.45" y1="151.80" x2="454.45" y2="172.70" stroke="#3a3aa8" stroke-width="0.8"/>
<line x1="452.85" y1="151.80" x2="456.05" y2="151.80" stroke="#3a3aa8" stroke-width="0.8"/>
<line x1="452.85" y1="172.70" x2="456.05" y2="172.70" stroke="#3a3aa8" stroke-width="0.8"/>
<line x1="476.52" y1="148.50" x2="476.52" y2="171.90" stroke="#3a3aa8" stroke-width="0.8"/>
<line x1="474.92" y1="148.50" x2="478.12" y2="148.50" stroke="#3a3aa8" stroke-width="0.8"/>
<line x1="474.92" y1="171.90" x2="478.12" y2="171.90" stroke="#3a3aa8" stroke-width="0.8"/>
<line x1="498.59" y1="149.80" x2="498.59" y2="174.00" stroke="#3a3aa8" stroke-width="0.8"/>
<line x1="496.99" y1="149.80" x2="500.19" y2="149.80" stroke="#3a3aa8" stroke-width="0.8"/>
<line x1="496.99" y1="174.00" x2="500.19" y2="174.00" stroke="#3a3aa8" stroke-width="0.8"/>
<circle cx="344.10" cy="170.90" r="1.75" fill="#2a2ad2"/>
<circle cx="366.17" cy="163.00" r="1.75" fill="#2a2ad2"/>
<circle cx="388.24" cy="162.50" r="1.75" fill="#2a2ad2"/>
<circle cx="410.31" cy="159.20" r="1.75" fill="#2a2ad2"/>
<circle cx="432.38" cy="158.20" r="1.75" fill="#2a2ad2"/>
<circle cx="454.45" cy="161.80" r="1.75" fill="#2a2ad2"/>
<circle cx="476.52" cy="160.50" r="1.75" fill="#2a2ad2"/>
<circle cx="498.59" cy="161.80" r="1.75" fill="#2a2ad2"/>
<line x1="329.80" y1="254.30" x2="342.90" y2="254.30" stroke="#2a8a2a" stroke-width="0.9"/>
<circle cx="336.40" cy="254.30" r="1.45" fill="#2a8a2a"/>
<text x="350.60" y="254.30" font-size="6.6" text-anchor="start" fill="#222" font-weight="normal" dominant-baseline="central">Cholorphyll</text>
<line x1="392.60" y1="254.30" x2="405.50" y2="254.30" stroke="#f07828" stroke-width="0.9"/>
<circle cx="399.00" cy="254.30" r="1.45" fill="#f07828"/>
<text x="415.60" y="254.30" font-size="6.6" text-anchor="start" fill="#222" font-weight="normal" dominant-baseline="central">Carotenoid</text>
<line x1="455.80" y1="254.30" x2="469.80" y2="254.30" stroke="#7a2aa8" stroke-width="0.9"/>
<circle cx="462.20" cy="254.30" r="1.45" fill="#7a2aa8"/>
<text x="476.70" y="254.30" font-size="6.6" text-anchor="start" fill="#222" font-weight="normal" dominant-baseline="central">Anthocyanin</text>
<line x1="328.90" y1="260.20" x2="328.90" y2="383.60" stroke="#5a5a5a" stroke-width="1.1"/>
<line x1="328.40" y1="383.10" x2="514.70" y2="383.10" stroke="#5a5a5a" stroke-width="1.1"/>
<line x1="514.20" y1="260.20" x2="514.20" y2="383.60" stroke="#5a5a5a" stroke-width="1.1"/>
<line x1="328.40" y1="260.20" x2="514.70" y2="260.20" stroke="#5a5a5a" stroke-width="1.1"/>
<line x1="344.10" y1="383.10" x2="344.10" y2="385.30" stroke="#5a5a5a" stroke-width="0.9"/>
<line x1="366.17" y1="383.10" x2="366.17" y2="385.30" stroke="#5a5a5a" stroke-width="0.9"/>
<line x1="388.24" y1="383.10" x2="388.24" y2="385.30" stroke="#5a5a5a" stroke-width="0.9"/>
<line x1="410.31" y1="383.10" x2="410.31" y2="385.30" stroke="#5a5a5a" stroke-width="0.9"/>
<line x1="432.38" y1="383.10" x2="432.38" y2="385.30" stroke="#5a5a5a" stroke-width="0.9"/>
<line x1="454.45" y1="383.10" x2="454.45" y2="385.30" stroke="#5a5a5a" stroke-width="0.9"/>
<line x1="476.52" y1="383.10" x2="476.52" y2="385.30" stroke="#5a5a5a" stroke-width="0.9"/>
<line x1="498.59" y1="383.10" x2="498.59" y2="385.30" stroke="#5a5a5a" stroke-width="0.9"/>
<line x1="326.70" y1="260.20" x2="328.90" y2="260.20" stroke="#5a5a5a" stroke-width="0.9"/>
<text x="325.80" y="260.20" font-size="8.6" text-anchor="end" fill="#333" font-weight="normal" dominant-baseline="central">400</text>
<line x1="326.70" y1="290.90" x2="328.90" y2="290.90" stroke="#5a5a5a" stroke-width="0.9"/>
<text x="325.80" y="290.90" font-size="8.6" text-anchor="end" fill="#333" font-weight="normal" dominant-baseline="central">300</text>
<line x1="326.70" y1="321.60" x2="328.90" y2="321.60" stroke="#5a5a5a" stroke-width="0.9"/>
<text x="325.80" y="321.60" font-size="8.6" text-anchor="end" fill="#333" font-weight="normal" dominant-baseline="central">200</text>
<line x1="326.70" y1="352.40" x2="328.90" y2="352.40" stroke="#5a5a5a" stroke-width="0.9"/>
<text x="325.80" y="352.40" font-size="8.6" text-anchor="end" fill="#333" font-weight="normal" dominant-baseline="central">100</text>
<line x1="326.70" y1="383.10" x2="328.90" y2="383.10" stroke="#5a5a5a" stroke-width="0.9"/>
<text x="325.80" y="383.10" font-size="8.6" text-anchor="end" fill="#333" font-weight="normal" dominant-baseline="central">0</text>
<line x1="514.20" y1="260.20" x2="516.40" y2="260.20" stroke="#5a5a5a" stroke-width="0.9"/>
<text x="517.60" y="260.20" font-size="8.6" text-anchor="start" fill="#333" font-weight="normal" dominant-baseline="central">0.25</text>
<line x1="514.20" y1="284.80" x2="516.40" y2="284.80" stroke="#5a5a5a" stroke-width="0.9"/>
<text x="517.60" y="284.80" font-size="8.6" text-anchor="start" fill="#333" font-weight="normal" dominant-baseline="central">0.20</text>
<line x1="514.20" y1="309.40" x2="516.40" y2="309.40" stroke="#5a5a5a" stroke-width="0.9"/>
<text x="517.60" y="309.40" font-size="8.6" text-anchor="start" fill="#333" font-weight="normal" dominant-baseline="central">0.15</text>
<line x1="514.20" y1="333.90" x2="516.40" y2="333.90" stroke="#5a5a5a" stroke-width="0.9"/>
<text x="517.60" y="333.90" font-size="8.6" text-anchor="start" fill="#333" font-weight="normal" dominant-baseline="central">0.10</text>
<line x1="514.20" y1="358.50" x2="516.40" y2="358.50" stroke="#5a5a5a" stroke-width="0.9"/>
<text x="517.60" y="358.50" font-size="8.6" text-anchor="start" fill="#333" font-weight="normal" dominant-baseline="central">0.05</text>
<line x1="514.20" y1="383.10" x2="516.40" y2="383.10" stroke="#5a5a5a" stroke-width="0.9"/>
<text x="517.60" y="383.10" font-size="8.6" text-anchor="start" fill="#333" font-weight="normal" dominant-baseline="central">0.00</text>
<text x="344.10" y="390.80" font-size="8.6" text-anchor="middle" fill="#333" font-weight="normal" dominant-baseline="central">20</text>
<text x="366.17" y="390.80" font-size="8.6" text-anchor="middle" fill="#333" font-weight="normal" dominant-baseline="central">30</text>
<text x="388.24" y="390.80" font-size="8.6" text-anchor="middle" fill="#333" font-weight="normal" dominant-baseline="central">40</text>
<text x="410.31" y="390.80" font-size="8.6" text-anchor="middle" fill="#333" font-weight="normal" dominant-baseline="central">60</text>
<text x="432.38" y="390.80" font-size="8.6" text-anchor="middle" fill="#333" font-weight="normal" dominant-baseline="central">70</text>
<text x="454.45" y="390.80" font-size="8.6" text-anchor="middle" fill="#333" font-weight="normal" dominant-baseline="central">85</text>
<text x="476.52" y="390.80" font-size="8.6" text-anchor="middle" fill="#333" font-weight="normal" dominant-baseline="central">86</text>
<text x="498.59" y="390.80" font-size="8.6" text-anchor="middle" fill="#333" font-weight="normal" dominant-baseline="central">90</text>
<text x="421.70" y="402.50" font-size="7.98" text-anchor="middle" fill="#222" font-weight="normal" dominant-baseline="central">Percentage of fruit reaching final size (%)</text>
<text x="293.00" y="322.70" font-size="7.75" text-anchor="middle" fill="#222" font-weight="normal" dominant-baseline="central" transform="rotate(-90 293.0 322.7)">Chlorophyll and carotenoid</text>
<text x="304.4" y="321.5" font-size="7.7" text-anchor="middle" fill="#222" dominant-baseline="central" transform="rotate(-90 304.4 321.5)">content ( μg·g<tspan font-size="5.1" dy="-3">-1</tspan><tspan dy="3">)</tspan></text>
<text x="541.8" y="322.1" font-size="7.95" text-anchor="middle" fill="#222" dominant-baseline="central" transform="rotate(-90 541.8 322.1)">Anthocyanin content (mg ·g<tspan font-size="5.2" dy="-3">-1</tspan><tspan dy="3">)</tspan></text>
<polyline points="344.10,371.90 366.17,377.30 388.24,379.00 410.31,380.30 432.38,381.10 454.45,381.60 476.52,381.60 498.59,381.60" fill="none" stroke="#f09050" stroke-width="0.8" stroke-linejoin="round"/>
<circle cx="344.10" cy="371.90" r="1.6" fill="#f07828"/>
<circle cx="366.17" cy="377.30" r="1.6" fill="#f07828"/>
<circle cx="388.24" cy="379.00" r="1.6" fill="#f07828"/>
<circle cx="410.31" cy="380.30" r="1.6" fill="#f07828"/>
<circle cx="432.38" cy="381.10" r="1.6" fill="#f07828"/>
<circle cx="454.45" cy="381.60" r="1.6" fill="#f07828"/>
<circle cx="476.52" cy="381.60" r="1.6" fill="#f07828"/>
<circle cx="498.59" cy="381.60" r="1.6" fill="#f07828"/>
<polyline points="344.10,290.70 366.17,327.80 388.24,354.40 410.31,363.30 432.38,368.90 454.45,372.90 476.52,374.50 498.59,376.00" fill="none" stroke="#3a8a3a" stroke-width="0.8" stroke-linejoin="round"/>
<circle cx="344.10" cy="290.70" r="1.5" fill="#2a8a2a"/>
<circle cx="366.17" cy="327.80" r="1.5" fill="#2a8a2a"/>
<circle cx="388.24" cy="354.40" r="1.5" fill="#2a8a2a"/>
<circle cx="410.31" cy="363.30" r="1.5" fill="#2a8a2a"/>
<circle cx="432.38" cy="368.90" r="1.5" fill="#2a8a2a"/>
<circle cx="454.45" cy="372.90" r="1.5" fill="#2a8a2a"/>
<circle cx="476.52" cy="374.50" r="1.5" fill="#2a8a2a"/>
<circle cx="498.59" cy="376.00" r="1.5" fill="#2a8a2a"/>
<polyline points="344.10,351.80 366.17,363.30 388.24,367.60 410.31,368.30 432.38,367.80 454.45,348.50 476.52,326.40 498.59,286.90" fill="none" stroke="#9040b8" stroke-width="0.8" stroke-linejoin="round"/>
<line x1="344.10" y1="346.70" x2="344.10" y2="356.60" stroke="#7a3aa0" stroke-width="0.8"/>
<line x1="342.50" y1="346.70" x2="345.70" y2="346.70" stroke="#7a3aa0" stroke-width="0.8"/>
<line x1="342.50" y1="356.60" x2="345.70" y2="356.60" stroke="#7a3aa0" stroke-width="0.8"/>
<line x1="454.45" y1="345.40" x2="454.45" y2="351.80" stroke="#7a3aa0" stroke-width="0.8"/>
<line x1="452.85" y1="345.40" x2="456.05" y2="345.40" stroke="#7a3aa0" stroke-width="0.8"/>
<line x1="452.85" y1="351.80" x2="456.05" y2="351.80" stroke="#7a3aa0" stroke-width="0.8"/>
<line x1="498.59" y1="283.60" x2="498.59" y2="288.70" stroke="#7a3aa0" stroke-width="0.8"/>
<line x1="496.99" y1="283.60" x2="500.19" y2="283.60" stroke="#7a3aa0" stroke-width="0.8"/>
<line x1="496.99" y1="288.70" x2="500.19" y2="288.70" stroke="#7a3aa0" stroke-width="0.8"/>
<circle cx="344.10" cy="351.80" r="1.45" fill="#7a2aa8"/>
<circle cx="366.17" cy="363.30" r="1.45" fill="#7a2aa8"/>
<circle cx="388.24" cy="367.60" r="1.45" fill="#7a2aa8"/>
<circle cx="410.31" cy="368.30" r="1.45" fill="#7a2aa8"/>
<circle cx="432.38" cy="367.80" r="1.45" fill="#7a2aa8"/>
<circle cx="454.45" cy="348.50" r="1.45" fill="#7a2aa8"/>
<circle cx="476.52" cy="326.40" r="1.45" fill="#7a2aa8"/>
<circle cx="498.59" cy="286.90" r="1.45" fill="#7a2aa8"/>
</g></svg></body></html>
